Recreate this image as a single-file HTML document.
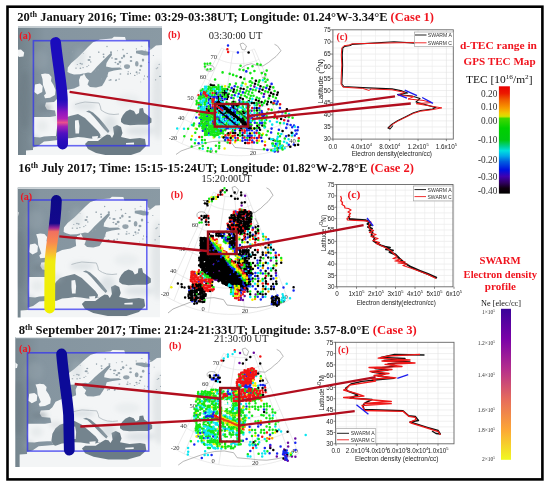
<!DOCTYPE html><html><head><meta charset="utf-8"><style>html,body{margin:0;padding:0;background:#fff}svg{display:block}</style></head><body><svg width="550" height="487" viewBox="0 0 550 487">
<style>
.tt{font-family:"Liberation Serif",serif;font-weight:bold;font-size:12.2px;fill:#111}
.ax{font-family:"Liberation Sans",sans-serif;font-size:6.3px;fill:#222}
.axl{font-family:"Liberation Sans",sans-serif;font-size:6.8px;fill:#222}
.lab{font-family:"Liberation Serif",serif;font-weight:bold;font-size:10px;fill:#f0141e}
.ut{font-family:"Liberation Serif",serif;font-size:10px;fill:#222}
.leg{font-family:"Liberation Serif",serif;font-weight:bold;font-size:11px;fill:#f0141e}
.cb{font-family:"Liberation Serif",serif;font-size:9.3px;fill:#333}
.cbs{font-family:"Liberation Serif",serif;font-size:5.5px;fill:#333}
.lg{font-family:"Liberation Sans",sans-serif;font-size:4.6px;fill:#222}
.gl{font-family:"Liberation Serif",serif;font-size:6.5px;fill:#333}
</style>
<defs>
<filter id="shade" x="-50%" y="-50%" width="200%" height="200%"><feGaussianBlur stdDeviation="2.5"/></filter>
<linearGradient id="wat" gradientUnits="userSpaceOnUse" x1="10" y1="0" x2="170" y2="0">
<stop offset="0" stop-color="#6e7d86"/><stop offset="0.1" stop-color="#788891"/><stop offset="0.22" stop-color="#8595a0"/><stop offset="1" stop-color="#8a9aa4"/></linearGradient>
<linearGradient id="trk1" gradientUnits="userSpaceOnUse" x1="0" y1="38" x2="0" y2="150">
<stop offset="0" stop-color="#1a0cbc"/><stop offset="0.55" stop-color="#1e0cbc"/><stop offset="0.6" stop-color="#4010c0"/><stop offset="0.66" stop-color="#8a14c0"/><stop offset="0.72" stop-color="#b020b8"/><stop offset="0.755" stop-color="#e8508c"/><stop offset="0.79" stop-color="#a020b8"/><stop offset="0.85" stop-color="#5010c0"/><stop offset="0.92" stop-color="#2a0cbc"/><stop offset="1" stop-color="#1a0cb4"/></linearGradient>
<linearGradient id="trk2" gradientUnits="userSpaceOnUse" x1="0" y1="195" x2="0" y2="313">
<stop offset="0" stop-color="#0c0a88"/><stop offset="0.24" stop-color="#14088c"/><stop offset="0.28" stop-color="#a02898"/><stop offset="0.31" stop-color="#f07060"/><stop offset="0.4" stop-color="#f88850"/><stop offset="0.5" stop-color="#f8c030"/><stop offset="0.56" stop-color="#f0ec10"/><stop offset="1" stop-color="#f0f000"/></linearGradient>
<linearGradient id="trk3" gradientUnits="userSpaceOnUse" x1="0" y1="349" x2="0" y2="455">
<stop offset="0" stop-color="#0c0a98"/><stop offset="1" stop-color="#0c0a98"/></linearGradient>
<linearGradient id="tecg" x1="0" y1="0" x2="0" y2="1">
<stop offset="0" stop-color="#e80000"/><stop offset="0.065" stop-color="#ec1800"/><stop offset="0.13" stop-color="#f06000"/><stop offset="0.2" stop-color="#f89800"/>
<stop offset="0.25" stop-color="#f0c800"/><stop offset="0.28" stop-color="#d8e000"/><stop offset="0.3" stop-color="#40d800"/><stop offset="0.39" stop-color="#00d000"/>
<stop offset="0.5" stop-color="#00c810"/><stop offset="0.56" stop-color="#00d090"/><stop offset="0.6" stop-color="#00e0e0"/><stop offset="0.65" stop-color="#00a8e8"/>
<stop offset="0.7" stop-color="#0060e0"/><stop offset="0.78" stop-color="#0010e0"/><stop offset="0.84" stop-color="#4000b0"/><stop offset="0.9" stop-color="#300060"/><stop offset="0.95" stop-color="#100010"/><stop offset="1" stop-color="#000000"/>
</linearGradient>
<linearGradient id="plg" x1="0" y1="0" x2="0" y2="1">
<stop offset="0" stop-color="#3a049a"/><stop offset="0.2" stop-color="#7a02a8"/><stop offset="0.4" stop-color="#b52f8c"/>
<stop offset="0.6" stop-color="#e66c5c"/><stop offset="0.8" stop-color="#fca636"/><stop offset="1" stop-color="#f0f921"/>
</linearGradient></defs>
<rect width="550" height="487" fill="#fff"/>
<rect x="7.5" y="6.7" width="534.9" height="472.7" fill="none" stroke="#000" stroke-width="2.6"/>
<text x="17.3" y="21" class="tt" textLength="416.7" lengthAdjust="spacingAndGlyphs">20<tspan dy="-4.2" font-size="8">th</tspan><tspan dy="4.2"> January 2016; Time: 03:29-03:38UT; Longitude: 01.24°W-3.34°E </tspan><tspan fill="#f0141e">(Case 1)</tspan></text>
<text x="18.2" y="172.2" class="tt" textLength="395.7" lengthAdjust="spacingAndGlyphs">16<tspan dy="-4.2" font-size="8">th</tspan><tspan dy="4.2"> July 2017; Time: 15:15-15:24UT; Longitude: 01.82°W-2.78°E </tspan><tspan fill="#f0141e">(Case 2)</tspan></text>
<text x="18.7" y="334.2" class="tt" textLength="398" lengthAdjust="spacingAndGlyphs">8<tspan dy="-4.2" font-size="8">th</tspan><tspan dy="4.2"> September 2017; Time: 21:24-21:33UT; Longitude: 3.57-8.0°E </tspan><tspan fill="#f0141e">(Case 3)</tspan></text>
<clipPath id="mc1"><rect x="18" y="26.5" width="144" height="128.5"/></clipPath>
<g clip-path="url(#mc1)">
<rect x="18" y="26.5" width="144" height="128.5" fill="#f3f5f6"/>
<g transform="translate(0,0)">
<path d="M10.0,20.0 170.0,20.0 170.0,45.0 162.0,45.0 156.0,45.5 151.0,49.5 148.5,47.0 148.0,41.0 140.0,40.6 126.0,40.6 125.0,37.0 114.0,36.8 112.0,38.4 100.0,39.5 93.0,42.3 88.0,47.0 83.7,51.6 77.5,57.8 71.3,63.0 67.8,67.5 67.5,72.0 70.0,73.2 74.0,74.5 80.0,74.3 84.0,73.3 83.0,75.2 80.5,76.0 79.0,80.0 79.5,86.0 74.0,88.5 66.0,90.0 60.0,93.0 57.0,99.0 54.0,102.0 46.0,102.5 45.0,106.0 47.0,109.6 55.0,110.5 56.0,116.0 50.0,117.0 34.0,117.0 33.5,128.0 34.0,137.0 40.0,137.5 44.0,136.5 52.0,136.0 56.0,136.0 58.0,140.0 50.0,141.0 44.0,141.5 38.0,146.0 33.0,147.5 33.0,150.0 26.0,150.5 26.0,175.0 10.0,175.0Z" fill="url(#wat)"/>
<path d="M111.5,52.5 112.0,55.0 109.0,59.0 106.5,63.0 106.0,66.5 112.0,67.8 120.0,67.6 122.5,69.3 114.0,70.6 108.5,72.0 107.0,77.0 104.5,82.0 102.0,86.0 96.0,87.5 90.0,87.0 87.5,84.5 89.0,80.5 86.0,77.5 84.0,73.5 88.0,72.5 91.0,73.0 94.0,70.0 97.0,66.5 101.0,62.5 105.0,58.5 108.5,55.0Z" fill="#8797a1"/>
<path d="M136.0,50.7 142.0,50.3 149.5,52.0 149.0,55.2 144.0,55.6 140.0,54.2 136.0,53.2Z" fill="#8c9ca6"/>
<path d="M56.0,136.0 57.0,128.0 60.0,122.0 64.0,118.0 70.0,116.0 78.0,114.0 85.0,118.0 92.0,125.0 98.0,131.0 102.0,137.0 96.0,139.0 90.0,138.5 84.0,137.5 78.0,137.0 72.0,138.0 66.0,138.5 60.0,141.0 58.0,140.0Z" fill="#74848e"/>
<path d="M86.0,111.5 90.0,113.0 94.0,117.0 99.0,123.0 104.0,129.0 108.0,133.0 109.5,131.0 105.0,125.0 99.0,118.0 93.0,112.5 89.0,110.5Z" fill="#7a8a94"/>
<path d="M98.0,141.0 103.0,137.0 107.0,134.5 110.0,135.0 112.0,138.0 114.0,134.0 113.0,127.0 117.0,125.0 121.0,127.0 122.5,133.0 121.0,137.0 130.0,139.0 140.0,138.0 145.0,139.0 146.0,146.0 140.0,152.0 128.0,156.0 110.0,156.0 96.0,153.0 88.0,149.0 85.0,144.0 88.0,141.0Z" fill="#6c7c86"/>
<path d="M121.0,119.0 123.0,115.0 126.0,111.5 130.0,109.5 134.0,111.0 136.0,114.5 139.0,113.0 139.5,108.5 143.0,108.0 144.0,112.5 148.0,115.5 151.5,118.5 151.5,122.5 147.5,124.8 138.0,124.8 130.0,125.2 124.0,124.3 121.0,122.0Z" fill="#6e7e88"/>
<g filter="url(#shade)">
<ellipse cx="85" cy="106" rx="12" ry="4" fill="#b8c2c8" opacity="0.35"/>
<ellipse cx="110" cy="124" rx="7" ry="8" fill="#b8c2c8" opacity="0.35"/>
<ellipse cx="140" cy="131" rx="14" ry="5" fill="#b8c2c8" opacity="0.35"/>
<ellipse cx="80" cy="58" rx="6" ry="10" fill="#b8c2c8" opacity="0.25"/>
<ellipse cx="158" cy="100" rx="6" ry="40" fill="#b8c2c8" opacity="0.3"/>
<ellipse cx="60" cy="118" rx="6" ry="4" fill="#b8c2c8" opacity="0.3"/>
<ellipse cx="128" cy="100" rx="12" ry="6" fill="#b8c2c8" opacity="0.15"/>
<ellipse cx="42" cy="126" rx="6" ry="6" fill="#b8c2c8" opacity="0.2"/>
<ellipse cx="40" cy="60" rx="8" ry="10" fill="#9aa9b2" opacity="0.35"/>
<ellipse cx="25" cy="100" rx="6" ry="30" fill="#5f6e77" opacity="0.3"/>
<ellipse cx="45" cy="108" rx="7" ry="4" fill="#66757e" opacity="0.4"/>
<ellipse cx="35" cy="140" rx="5" ry="5" fill="#9aa9b2" opacity="0.3"/>
</g>
<ellipse cx="127" cy="66.6" rx="3.0" ry="2.3" fill="#95a3ac"/>
<ellipse cx="136.8" cy="63.8" rx="1.8" ry="2.8" fill="#95a3ac"/>
<ellipse cx="116" cy="59" rx="1.6" ry="1.0" fill="#95a3ac"/>
<ellipse cx="120" cy="62" rx="1.4" ry="1.2" fill="#95a3ac"/>
<ellipse cx="124" cy="56" rx="1.2" ry="1.5" fill="#95a3ac"/>
<ellipse cx="131" cy="61" rx="1.3" ry="1.0" fill="#95a3ac"/>
<ellipse cx="141" cy="66" rx="1.4" ry="1.2" fill="#95a3ac"/>
<ellipse cx="89" cy="60" rx="1.5" ry="1.1" fill="#95a3ac"/>
<ellipse cx="90" cy="57" rx="1.0" ry="0.8" fill="#95a3ac"/>
<ellipse cx="82" cy="64" rx="0.9" ry="0.8" fill="#95a3ac"/>
<ellipse cx="118" cy="64" rx="1.3" ry="1.0" fill="#95a3ac"/>
<ellipse cx="131" cy="57" rx="1.2" ry="1.0" fill="#95a3ac"/>
<ellipse cx="122" cy="58" rx="1.0" ry="0.9" fill="#95a3ac"/>
<ellipse cx="143" cy="60" rx="1.2" ry="1.6" fill="#95a3ac"/>
<ellipse cx="112" cy="58" rx="0.9" ry="0.8" fill="#95a3ac"/>
<ellipse cx="128" cy="74" rx="1.1" ry="0.8" fill="#95a3ac"/>
<ellipse cx="140" cy="70" rx="0.9" ry="0.9" fill="#95a3ac"/>
<ellipse cx="136.6" cy="72.2" rx="0.98" ry="0.87" fill="#95a3ac"/>
<ellipse cx="143.9" cy="79.0" rx="0.52" ry="0.63" fill="#95a3ac"/>
<ellipse cx="156.5" cy="68.7" rx="1.04" ry="0.46" fill="#95a3ac"/>
<ellipse cx="127.1" cy="53.4" rx="0.83" ry="0.69" fill="#95a3ac"/>
<ellipse cx="98.8" cy="52.2" rx="0.67" ry="0.86" fill="#95a3ac"/>
<ellipse cx="145.5" cy="50.1" rx="0.98" ry="0.47" fill="#95a3ac"/>
<ellipse cx="136.3" cy="48.8" rx="0.5" ry="0.84" fill="#95a3ac"/>
<ellipse cx="111.0" cy="52.2" rx="1.09" ry="0.84" fill="#95a3ac"/>
<ellipse cx="115.9" cy="80.5" rx="0.82" ry="0.74" fill="#95a3ac"/>
<ellipse cx="110.7" cy="79.8" rx="0.91" ry="0.88" fill="#95a3ac"/>
<ellipse cx="153.4" cy="55.4" rx="0.72" ry="0.48" fill="#95a3ac"/>
<ellipse cx="107.0" cy="46.5" rx="0.68" ry="0.7" fill="#95a3ac"/>
<ellipse cx="98.2" cy="69.8" rx="0.7" ry="0.55" fill="#95a3ac"/>
<ellipse cx="148.7" cy="62.3" rx="0.69" ry="0.64" fill="#95a3ac"/>
<ellipse cx="141.7" cy="46.2" rx="1.09" ry="0.41" fill="#95a3ac"/>
<ellipse cx="144.5" cy="76.1" rx="0.51" ry="0.79" fill="#95a3ac"/>
<ellipse cx="120.7" cy="66.0" rx="0.51" ry="0.42" fill="#95a3ac"/>
<ellipse cx="109.2" cy="80.3" rx="0.62" ry="0.78" fill="#95a3ac"/>
<ellipse cx="155.6" cy="79.8" rx="0.71" ry="0.58" fill="#95a3ac"/>
<ellipse cx="130.5" cy="73.5" rx="0.56" ry="0.77" fill="#95a3ac"/>
<ellipse cx="147.4" cy="76.7" rx="0.52" ry="0.87" fill="#95a3ac"/>
<ellipse cx="103.7" cy="56.9" rx="0.87" ry="0.86" fill="#95a3ac"/>
<ellipse cx="119.1" cy="79.1" rx="0.83" ry="0.56" fill="#95a3ac"/>
<ellipse cx="117.6" cy="50.7" rx="0.55" ry="0.47" fill="#95a3ac"/>
<ellipse cx="140.7" cy="81.9" rx="0.6" ry="0.42" fill="#95a3ac"/>
<ellipse cx="159.2" cy="64.3" rx="0.74" ry="0.52" fill="#95a3ac"/>
<ellipse cx="134.8" cy="75.4" rx="0.77" ry="0.61" fill="#95a3ac"/>
<ellipse cx="101.5" cy="78.8" rx="0.52" ry="0.65" fill="#95a3ac"/>
<ellipse cx="150.0" cy="49.0" rx="0.94" ry="0.87" fill="#95a3ac"/>
<ellipse cx="137.1" cy="73.9" rx="0.56" ry="0.62" fill="#95a3ac"/>
<ellipse cx="107.3" cy="76.1" rx="0.68" ry="0.63" fill="#95a3ac"/>
<ellipse cx="160.0" cy="76.4" rx="1.09" ry="0.63" fill="#95a3ac"/>
<ellipse cx="128.3" cy="71.7" rx="0.79" ry="0.55" fill="#95a3ac"/>
<ellipse cx="123.0" cy="49.6" rx="0.73" ry="0.89" fill="#95a3ac"/>
<ellipse cx="157.5" cy="67.8" rx="0.8" ry="0.57" fill="#95a3ac"/>
<ellipse cx="103.5" cy="54.3" rx="0.97" ry="0.83" fill="#95a3ac"/>
<ellipse cx="120.4" cy="73.9" rx="0.96" ry="0.75" fill="#95a3ac"/>
<ellipse cx="139.2" cy="72.9" rx="0.72" ry="0.75" fill="#95a3ac"/>
<ellipse cx="115.4" cy="62.5" rx="0.96" ry="0.75" fill="#95a3ac"/>
<ellipse cx="116.2" cy="79.9" rx="0.89" ry="0.69" fill="#95a3ac"/>
<ellipse cx="72.3" cy="61.1" rx="0.53" ry="0.67" fill="#95a3ac"/>
<ellipse cx="83.1" cy="67.6" rx="0.72" ry="0.72" fill="#95a3ac"/>
<ellipse cx="80.3" cy="63.5" rx="0.77" ry="0.73" fill="#95a3ac"/>
<ellipse cx="80.4" cy="68.2" rx="0.83" ry="0.68" fill="#95a3ac"/>
<ellipse cx="95.4" cy="71.0" rx="0.66" ry="0.61" fill="#95a3ac"/>
<ellipse cx="76.0" cy="68.1" rx="0.87" ry="0.59" fill="#95a3ac"/>
<ellipse cx="88.6" cy="65.3" rx="0.77" ry="0.47" fill="#95a3ac"/>
<ellipse cx="90.7" cy="61.9" rx="0.73" ry="0.57" fill="#95a3ac"/>
<ellipse cx="87.0" cy="66.6" rx="0.72" ry="0.69" fill="#95a3ac"/>
<ellipse cx="72.7" cy="51.8" rx="0.62" ry="0.66" fill="#95a3ac"/>
<ellipse cx="77.3" cy="64.5" rx="0.72" ry="0.42" fill="#95a3ac"/>
<ellipse cx="83.3" cy="53.4" rx="0.43" ry="0.45" fill="#95a3ac"/>
<path d="M41.0,74.3 45.0,73.5 49.0,74.0 51.5,77.0 51.0,81.0 53.5,85.0 55.5,90.0 55.0,95.0 50.0,97.8 45.0,98.2 44.0,95.5 46.0,93.5 44.5,89.0 43.0,85.0 42.5,79.0Z" fill="#f3f5f6"/>
<path d="M35.0,84.5 40.0,83.6 42.7,86.0 42.2,92.0 37.5,94.6 34.3,92.0Z" fill="#f3f5f6"/>
<path d="M17.0,49.8 21.0,49.5 24.2,52.5 23.5,56.5 19.0,56.9 17.0,55.0Z" fill="#f3f5f6"/>
<path d="M100.0,137.5 103.0,136.0 101.0,133.5Z" fill="#f3f5f6"/>
<path d="M83.0,77.0 85.0,76.5 86.5,79.5 85.0,82.5 83.0,81.0Z" fill="#f3f5f6"/>
<path d="M92.0,136.5 98.0,136.0 97.5,139.0 92.5,139.2Z" fill="#f3f5f6"/>
<path d="M75.0,120.5 78.5,120.0 79.5,126.0 79.0,133.5 75.5,133.5 75.0,127.0Z" fill="#f3f5f6"/>
<path d="M126.0,143.0 134.0,142.6 134.0,144.4 126.0,144.6Z" fill="#f3f5f6"/>
<path d="M75,104.5 L80,103 L85,102 L92,102.5 L99,103 L100.5,107 L101,110 L105,112.5 L109,114 L114,114.5 L119,114" fill="none" stroke="#b4bcc2" stroke-width="0.9"/>
</g>
<rect x="18" y="26.5" width="144" height="1.2" fill="#dfe4e7"/>
</g>
<rect x="33.4" y="40.7" width="115.6" height="104.99999999999999" fill="none" stroke="#3030f0" stroke-width="1.6" opacity="0.72"/>
<path d="M55.6,42.5 C57.5,62 62,85 62.4,100 L62.6,144" stroke="url(#trk1)" stroke-width="10.8" stroke-linecap="round" fill="none"/>
<text x="19.3" y="39.3" class="lab">(a)</text>
<clipPath id="mc2"><rect x="17.7" y="187.6" width="142.3" height="129.9"/></clipPath>
<g clip-path="url(#mc2)">
<rect x="17.7" y="187.6" width="142.3" height="129.9" fill="#f3f5f6"/>
<g transform="translate(-6.4,160) scale(1.038,1)">
<path d="M10.0,20.0 170.0,20.0 170.0,45.0 162.0,45.0 156.0,45.5 151.0,49.5 148.5,47.0 148.0,41.0 140.0,40.6 126.0,40.6 125.0,37.0 114.0,36.8 112.0,38.4 100.0,39.5 93.0,42.3 88.0,47.0 83.7,51.6 77.5,57.8 71.3,63.0 67.8,67.5 67.5,72.0 70.0,73.2 74.0,74.5 80.0,74.3 84.0,73.3 83.0,75.2 80.5,76.0 79.0,80.0 79.5,86.0 74.0,88.5 66.0,90.0 60.0,93.0 57.0,99.0 54.0,102.0 46.0,102.5 45.0,106.0 47.0,109.6 55.0,110.5 56.0,116.0 50.0,117.0 34.0,117.0 33.5,128.0 34.0,137.0 40.0,137.5 44.0,136.5 52.0,136.0 56.0,136.0 58.0,140.0 50.0,141.0 44.0,141.5 38.0,146.0 33.0,147.5 33.0,150.0 26.0,150.5 26.0,175.0 10.0,175.0Z" fill="url(#wat)"/>
<path d="M111.5,52.5 112.0,55.0 109.0,59.0 106.5,63.0 106.0,66.5 112.0,67.8 120.0,67.6 122.5,69.3 114.0,70.6 108.5,72.0 107.0,77.0 104.5,82.0 102.0,86.0 96.0,87.5 90.0,87.0 87.5,84.5 89.0,80.5 86.0,77.5 84.0,73.5 88.0,72.5 91.0,73.0 94.0,70.0 97.0,66.5 101.0,62.5 105.0,58.5 108.5,55.0Z" fill="#8797a1"/>
<path d="M136.0,50.7 142.0,50.3 149.5,52.0 149.0,55.2 144.0,55.6 140.0,54.2 136.0,53.2Z" fill="#8c9ca6"/>
<path d="M56.0,136.0 57.0,128.0 60.0,122.0 64.0,118.0 70.0,116.0 78.0,114.0 85.0,118.0 92.0,125.0 98.0,131.0 102.0,137.0 96.0,139.0 90.0,138.5 84.0,137.5 78.0,137.0 72.0,138.0 66.0,138.5 60.0,141.0 58.0,140.0Z" fill="#74848e"/>
<path d="M86.0,111.5 90.0,113.0 94.0,117.0 99.0,123.0 104.0,129.0 108.0,133.0 109.5,131.0 105.0,125.0 99.0,118.0 93.0,112.5 89.0,110.5Z" fill="#7a8a94"/>
<path d="M98.0,141.0 103.0,137.0 107.0,134.5 110.0,135.0 112.0,138.0 114.0,134.0 113.0,127.0 117.0,125.0 121.0,127.0 122.5,133.0 121.0,137.0 130.0,139.0 140.0,138.0 145.0,139.0 146.0,146.0 140.0,152.0 128.0,156.0 110.0,156.0 96.0,153.0 88.0,149.0 85.0,144.0 88.0,141.0Z" fill="#6c7c86"/>
<path d="M121.0,119.0 123.0,115.0 126.0,111.5 130.0,109.5 134.0,111.0 136.0,114.5 139.0,113.0 139.5,108.5 143.0,108.0 144.0,112.5 148.0,115.5 151.5,118.5 151.5,122.5 147.5,124.8 138.0,124.8 130.0,125.2 124.0,124.3 121.0,122.0Z" fill="#6e7e88"/>
<g filter="url(#shade)">
<ellipse cx="85" cy="106" rx="12" ry="4" fill="#b8c2c8" opacity="0.35"/>
<ellipse cx="110" cy="124" rx="7" ry="8" fill="#b8c2c8" opacity="0.35"/>
<ellipse cx="140" cy="131" rx="14" ry="5" fill="#b8c2c8" opacity="0.35"/>
<ellipse cx="80" cy="58" rx="6" ry="10" fill="#b8c2c8" opacity="0.25"/>
<ellipse cx="158" cy="100" rx="6" ry="40" fill="#b8c2c8" opacity="0.3"/>
<ellipse cx="60" cy="118" rx="6" ry="4" fill="#b8c2c8" opacity="0.3"/>
<ellipse cx="128" cy="100" rx="12" ry="6" fill="#b8c2c8" opacity="0.15"/>
<ellipse cx="42" cy="126" rx="6" ry="6" fill="#b8c2c8" opacity="0.2"/>
<ellipse cx="40" cy="60" rx="8" ry="10" fill="#9aa9b2" opacity="0.35"/>
<ellipse cx="25" cy="100" rx="6" ry="30" fill="#5f6e77" opacity="0.3"/>
<ellipse cx="45" cy="108" rx="7" ry="4" fill="#66757e" opacity="0.4"/>
<ellipse cx="35" cy="140" rx="5" ry="5" fill="#9aa9b2" opacity="0.3"/>
</g>
<ellipse cx="127" cy="66.6" rx="3.0" ry="2.3" fill="#95a3ac"/>
<ellipse cx="136.8" cy="63.8" rx="1.8" ry="2.8" fill="#95a3ac"/>
<ellipse cx="116" cy="59" rx="1.6" ry="1.0" fill="#95a3ac"/>
<ellipse cx="120" cy="62" rx="1.4" ry="1.2" fill="#95a3ac"/>
<ellipse cx="124" cy="56" rx="1.2" ry="1.5" fill="#95a3ac"/>
<ellipse cx="131" cy="61" rx="1.3" ry="1.0" fill="#95a3ac"/>
<ellipse cx="141" cy="66" rx="1.4" ry="1.2" fill="#95a3ac"/>
<ellipse cx="89" cy="60" rx="1.5" ry="1.1" fill="#95a3ac"/>
<ellipse cx="90" cy="57" rx="1.0" ry="0.8" fill="#95a3ac"/>
<ellipse cx="82" cy="64" rx="0.9" ry="0.8" fill="#95a3ac"/>
<ellipse cx="118" cy="64" rx="1.3" ry="1.0" fill="#95a3ac"/>
<ellipse cx="131" cy="57" rx="1.2" ry="1.0" fill="#95a3ac"/>
<ellipse cx="122" cy="58" rx="1.0" ry="0.9" fill="#95a3ac"/>
<ellipse cx="143" cy="60" rx="1.2" ry="1.6" fill="#95a3ac"/>
<ellipse cx="112" cy="58" rx="0.9" ry="0.8" fill="#95a3ac"/>
<ellipse cx="128" cy="74" rx="1.1" ry="0.8" fill="#95a3ac"/>
<ellipse cx="140" cy="70" rx="0.9" ry="0.9" fill="#95a3ac"/>
<ellipse cx="136.6" cy="72.2" rx="0.98" ry="0.87" fill="#95a3ac"/>
<ellipse cx="143.9" cy="79.0" rx="0.52" ry="0.63" fill="#95a3ac"/>
<ellipse cx="156.5" cy="68.7" rx="1.04" ry="0.46" fill="#95a3ac"/>
<ellipse cx="127.1" cy="53.4" rx="0.83" ry="0.69" fill="#95a3ac"/>
<ellipse cx="98.8" cy="52.2" rx="0.67" ry="0.86" fill="#95a3ac"/>
<ellipse cx="145.5" cy="50.1" rx="0.98" ry="0.47" fill="#95a3ac"/>
<ellipse cx="136.3" cy="48.8" rx="0.5" ry="0.84" fill="#95a3ac"/>
<ellipse cx="111.0" cy="52.2" rx="1.09" ry="0.84" fill="#95a3ac"/>
<ellipse cx="115.9" cy="80.5" rx="0.82" ry="0.74" fill="#95a3ac"/>
<ellipse cx="110.7" cy="79.8" rx="0.91" ry="0.88" fill="#95a3ac"/>
<ellipse cx="153.4" cy="55.4" rx="0.72" ry="0.48" fill="#95a3ac"/>
<ellipse cx="107.0" cy="46.5" rx="0.68" ry="0.7" fill="#95a3ac"/>
<ellipse cx="98.2" cy="69.8" rx="0.7" ry="0.55" fill="#95a3ac"/>
<ellipse cx="148.7" cy="62.3" rx="0.69" ry="0.64" fill="#95a3ac"/>
<ellipse cx="141.7" cy="46.2" rx="1.09" ry="0.41" fill="#95a3ac"/>
<ellipse cx="144.5" cy="76.1" rx="0.51" ry="0.79" fill="#95a3ac"/>
<ellipse cx="120.7" cy="66.0" rx="0.51" ry="0.42" fill="#95a3ac"/>
<ellipse cx="109.2" cy="80.3" rx="0.62" ry="0.78" fill="#95a3ac"/>
<ellipse cx="155.6" cy="79.8" rx="0.71" ry="0.58" fill="#95a3ac"/>
<ellipse cx="130.5" cy="73.5" rx="0.56" ry="0.77" fill="#95a3ac"/>
<ellipse cx="147.4" cy="76.7" rx="0.52" ry="0.87" fill="#95a3ac"/>
<ellipse cx="103.7" cy="56.9" rx="0.87" ry="0.86" fill="#95a3ac"/>
<ellipse cx="119.1" cy="79.1" rx="0.83" ry="0.56" fill="#95a3ac"/>
<ellipse cx="117.6" cy="50.7" rx="0.55" ry="0.47" fill="#95a3ac"/>
<ellipse cx="140.7" cy="81.9" rx="0.6" ry="0.42" fill="#95a3ac"/>
<ellipse cx="159.2" cy="64.3" rx="0.74" ry="0.52" fill="#95a3ac"/>
<ellipse cx="134.8" cy="75.4" rx="0.77" ry="0.61" fill="#95a3ac"/>
<ellipse cx="101.5" cy="78.8" rx="0.52" ry="0.65" fill="#95a3ac"/>
<ellipse cx="150.0" cy="49.0" rx="0.94" ry="0.87" fill="#95a3ac"/>
<ellipse cx="137.1" cy="73.9" rx="0.56" ry="0.62" fill="#95a3ac"/>
<ellipse cx="107.3" cy="76.1" rx="0.68" ry="0.63" fill="#95a3ac"/>
<ellipse cx="160.0" cy="76.4" rx="1.09" ry="0.63" fill="#95a3ac"/>
<ellipse cx="128.3" cy="71.7" rx="0.79" ry="0.55" fill="#95a3ac"/>
<ellipse cx="123.0" cy="49.6" rx="0.73" ry="0.89" fill="#95a3ac"/>
<ellipse cx="157.5" cy="67.8" rx="0.8" ry="0.57" fill="#95a3ac"/>
<ellipse cx="103.5" cy="54.3" rx="0.97" ry="0.83" fill="#95a3ac"/>
<ellipse cx="120.4" cy="73.9" rx="0.96" ry="0.75" fill="#95a3ac"/>
<ellipse cx="139.2" cy="72.9" rx="0.72" ry="0.75" fill="#95a3ac"/>
<ellipse cx="115.4" cy="62.5" rx="0.96" ry="0.75" fill="#95a3ac"/>
<ellipse cx="116.2" cy="79.9" rx="0.89" ry="0.69" fill="#95a3ac"/>
<ellipse cx="72.3" cy="61.1" rx="0.53" ry="0.67" fill="#95a3ac"/>
<ellipse cx="83.1" cy="67.6" rx="0.72" ry="0.72" fill="#95a3ac"/>
<ellipse cx="80.3" cy="63.5" rx="0.77" ry="0.73" fill="#95a3ac"/>
<ellipse cx="80.4" cy="68.2" rx="0.83" ry="0.68" fill="#95a3ac"/>
<ellipse cx="95.4" cy="71.0" rx="0.66" ry="0.61" fill="#95a3ac"/>
<ellipse cx="76.0" cy="68.1" rx="0.87" ry="0.59" fill="#95a3ac"/>
<ellipse cx="88.6" cy="65.3" rx="0.77" ry="0.47" fill="#95a3ac"/>
<ellipse cx="90.7" cy="61.9" rx="0.73" ry="0.57" fill="#95a3ac"/>
<ellipse cx="87.0" cy="66.6" rx="0.72" ry="0.69" fill="#95a3ac"/>
<ellipse cx="72.7" cy="51.8" rx="0.62" ry="0.66" fill="#95a3ac"/>
<ellipse cx="77.3" cy="64.5" rx="0.72" ry="0.42" fill="#95a3ac"/>
<ellipse cx="83.3" cy="53.4" rx="0.43" ry="0.45" fill="#95a3ac"/>
<path d="M41.0,74.3 45.0,73.5 49.0,74.0 51.5,77.0 51.0,81.0 53.5,85.0 55.5,90.0 55.0,95.0 50.0,97.8 45.0,98.2 44.0,95.5 46.0,93.5 44.5,89.0 43.0,85.0 42.5,79.0Z" fill="#f3f5f6"/>
<path d="M35.0,84.5 40.0,83.6 42.7,86.0 42.2,92.0 37.5,94.6 34.3,92.0Z" fill="#f3f5f6"/>
<path d="M17.0,49.8 21.0,49.5 24.2,52.5 23.5,56.5 19.0,56.9 17.0,55.0Z" fill="#f3f5f6"/>
<path d="M100.0,137.5 103.0,136.0 101.0,133.5Z" fill="#f3f5f6"/>
<path d="M83.0,77.0 85.0,76.5 86.5,79.5 85.0,82.5 83.0,81.0Z" fill="#f3f5f6"/>
<path d="M92.0,136.5 98.0,136.0 97.5,139.0 92.5,139.2Z" fill="#f3f5f6"/>
<path d="M75.0,120.5 78.5,120.0 79.5,126.0 79.0,133.5 75.5,133.5 75.0,127.0Z" fill="#f3f5f6"/>
<path d="M126.0,143.0 134.0,142.6 134.0,144.4 126.0,144.6Z" fill="#f3f5f6"/>
<path d="M75,104.5 L80,103 L85,102 L92,102.5 L99,103 L100.5,107 L101,110 L105,112.5 L109,114 L114,114.5 L119,114" fill="none" stroke="#b4bcc2" stroke-width="0.9"/>
</g>
<rect x="17.7" y="187.6" width="142.3" height="1.2" fill="#dfe4e7"/>
</g>
<rect x="28.5" y="200" width="118.30000000000001" height="109.30000000000001" fill="none" stroke="#3030f0" stroke-width="1.6" opacity="0.72"/>
<path d="M56.4,200.5 C55.5,228 50.5,245 49.9,265 L49.7,308" stroke="url(#trk2)" stroke-width="10.8" stroke-linecap="round" fill="none"/>
<text x="20.4" y="200.3" class="lab">(a)</text>
<clipPath id="mc3"><rect x="15.3" y="337" width="145.7" height="130"/></clipPath>
<g clip-path="url(#mc3)">
<rect x="15.3" y="337" width="145.7" height="130" fill="#f3f5f6"/>
<g transform="translate(-7.8,316.1) scale(1.056,0.92)">
<path d="M10.0,20.0 170.0,20.0 170.0,45.0 162.0,45.0 156.0,45.5 151.0,49.5 148.5,47.0 148.0,41.0 140.0,40.6 126.0,40.6 125.0,37.0 114.0,36.8 112.0,38.4 100.0,39.5 93.0,42.3 88.0,47.0 83.7,51.6 77.5,57.8 71.3,63.0 67.8,67.5 67.5,72.0 70.0,73.2 74.0,74.5 80.0,74.3 84.0,73.3 83.0,75.2 80.5,76.0 79.0,80.0 79.5,86.0 74.0,88.5 66.0,90.0 60.0,93.0 57.0,99.0 54.0,102.0 46.0,102.5 45.0,106.0 47.0,109.6 55.0,110.5 56.0,116.0 50.0,117.0 34.0,117.0 33.5,128.0 34.0,137.0 40.0,137.5 44.0,136.5 52.0,136.0 56.0,136.0 58.0,140.0 50.0,141.0 44.0,141.5 38.0,146.0 33.0,147.5 33.0,150.0 26.0,150.5 26.0,175.0 10.0,175.0Z" fill="url(#wat)"/>
<path d="M111.5,52.5 112.0,55.0 109.0,59.0 106.5,63.0 106.0,66.5 112.0,67.8 120.0,67.6 122.5,69.3 114.0,70.6 108.5,72.0 107.0,77.0 104.5,82.0 102.0,86.0 96.0,87.5 90.0,87.0 87.5,84.5 89.0,80.5 86.0,77.5 84.0,73.5 88.0,72.5 91.0,73.0 94.0,70.0 97.0,66.5 101.0,62.5 105.0,58.5 108.5,55.0Z" fill="#8797a1"/>
<path d="M136.0,50.7 142.0,50.3 149.5,52.0 149.0,55.2 144.0,55.6 140.0,54.2 136.0,53.2Z" fill="#8c9ca6"/>
<path d="M56.0,136.0 57.0,128.0 60.0,122.0 64.0,118.0 70.0,116.0 78.0,114.0 85.0,118.0 92.0,125.0 98.0,131.0 102.0,137.0 96.0,139.0 90.0,138.5 84.0,137.5 78.0,137.0 72.0,138.0 66.0,138.5 60.0,141.0 58.0,140.0Z" fill="#74848e"/>
<path d="M86.0,111.5 90.0,113.0 94.0,117.0 99.0,123.0 104.0,129.0 108.0,133.0 109.5,131.0 105.0,125.0 99.0,118.0 93.0,112.5 89.0,110.5Z" fill="#7a8a94"/>
<path d="M98.0,141.0 103.0,137.0 107.0,134.5 110.0,135.0 112.0,138.0 114.0,134.0 113.0,127.0 117.0,125.0 121.0,127.0 122.5,133.0 121.0,137.0 130.0,139.0 140.0,138.0 145.0,139.0 146.0,146.0 140.0,152.0 128.0,156.0 110.0,156.0 96.0,153.0 88.0,149.0 85.0,144.0 88.0,141.0Z" fill="#6c7c86"/>
<path d="M121.0,119.0 123.0,115.0 126.0,111.5 130.0,109.5 134.0,111.0 136.0,114.5 139.0,113.0 139.5,108.5 143.0,108.0 144.0,112.5 148.0,115.5 151.5,118.5 151.5,122.5 147.5,124.8 138.0,124.8 130.0,125.2 124.0,124.3 121.0,122.0Z" fill="#6e7e88"/>
<g filter="url(#shade)">
<ellipse cx="85" cy="106" rx="12" ry="4" fill="#b8c2c8" opacity="0.35"/>
<ellipse cx="110" cy="124" rx="7" ry="8" fill="#b8c2c8" opacity="0.35"/>
<ellipse cx="140" cy="131" rx="14" ry="5" fill="#b8c2c8" opacity="0.35"/>
<ellipse cx="80" cy="58" rx="6" ry="10" fill="#b8c2c8" opacity="0.25"/>
<ellipse cx="158" cy="100" rx="6" ry="40" fill="#b8c2c8" opacity="0.3"/>
<ellipse cx="60" cy="118" rx="6" ry="4" fill="#b8c2c8" opacity="0.3"/>
<ellipse cx="128" cy="100" rx="12" ry="6" fill="#b8c2c8" opacity="0.15"/>
<ellipse cx="42" cy="126" rx="6" ry="6" fill="#b8c2c8" opacity="0.2"/>
<ellipse cx="40" cy="60" rx="8" ry="10" fill="#9aa9b2" opacity="0.35"/>
<ellipse cx="25" cy="100" rx="6" ry="30" fill="#5f6e77" opacity="0.3"/>
<ellipse cx="45" cy="108" rx="7" ry="4" fill="#66757e" opacity="0.4"/>
<ellipse cx="35" cy="140" rx="5" ry="5" fill="#9aa9b2" opacity="0.3"/>
</g>
<ellipse cx="127" cy="66.6" rx="3.0" ry="2.3" fill="#95a3ac"/>
<ellipse cx="136.8" cy="63.8" rx="1.8" ry="2.8" fill="#95a3ac"/>
<ellipse cx="116" cy="59" rx="1.6" ry="1.0" fill="#95a3ac"/>
<ellipse cx="120" cy="62" rx="1.4" ry="1.2" fill="#95a3ac"/>
<ellipse cx="124" cy="56" rx="1.2" ry="1.5" fill="#95a3ac"/>
<ellipse cx="131" cy="61" rx="1.3" ry="1.0" fill="#95a3ac"/>
<ellipse cx="141" cy="66" rx="1.4" ry="1.2" fill="#95a3ac"/>
<ellipse cx="89" cy="60" rx="1.5" ry="1.1" fill="#95a3ac"/>
<ellipse cx="90" cy="57" rx="1.0" ry="0.8" fill="#95a3ac"/>
<ellipse cx="82" cy="64" rx="0.9" ry="0.8" fill="#95a3ac"/>
<ellipse cx="118" cy="64" rx="1.3" ry="1.0" fill="#95a3ac"/>
<ellipse cx="131" cy="57" rx="1.2" ry="1.0" fill="#95a3ac"/>
<ellipse cx="122" cy="58" rx="1.0" ry="0.9" fill="#95a3ac"/>
<ellipse cx="143" cy="60" rx="1.2" ry="1.6" fill="#95a3ac"/>
<ellipse cx="112" cy="58" rx="0.9" ry="0.8" fill="#95a3ac"/>
<ellipse cx="128" cy="74" rx="1.1" ry="0.8" fill="#95a3ac"/>
<ellipse cx="140" cy="70" rx="0.9" ry="0.9" fill="#95a3ac"/>
<ellipse cx="136.6" cy="72.2" rx="0.98" ry="0.87" fill="#95a3ac"/>
<ellipse cx="143.9" cy="79.0" rx="0.52" ry="0.63" fill="#95a3ac"/>
<ellipse cx="156.5" cy="68.7" rx="1.04" ry="0.46" fill="#95a3ac"/>
<ellipse cx="127.1" cy="53.4" rx="0.83" ry="0.69" fill="#95a3ac"/>
<ellipse cx="98.8" cy="52.2" rx="0.67" ry="0.86" fill="#95a3ac"/>
<ellipse cx="145.5" cy="50.1" rx="0.98" ry="0.47" fill="#95a3ac"/>
<ellipse cx="136.3" cy="48.8" rx="0.5" ry="0.84" fill="#95a3ac"/>
<ellipse cx="111.0" cy="52.2" rx="1.09" ry="0.84" fill="#95a3ac"/>
<ellipse cx="115.9" cy="80.5" rx="0.82" ry="0.74" fill="#95a3ac"/>
<ellipse cx="110.7" cy="79.8" rx="0.91" ry="0.88" fill="#95a3ac"/>
<ellipse cx="153.4" cy="55.4" rx="0.72" ry="0.48" fill="#95a3ac"/>
<ellipse cx="107.0" cy="46.5" rx="0.68" ry="0.7" fill="#95a3ac"/>
<ellipse cx="98.2" cy="69.8" rx="0.7" ry="0.55" fill="#95a3ac"/>
<ellipse cx="148.7" cy="62.3" rx="0.69" ry="0.64" fill="#95a3ac"/>
<ellipse cx="141.7" cy="46.2" rx="1.09" ry="0.41" fill="#95a3ac"/>
<ellipse cx="144.5" cy="76.1" rx="0.51" ry="0.79" fill="#95a3ac"/>
<ellipse cx="120.7" cy="66.0" rx="0.51" ry="0.42" fill="#95a3ac"/>
<ellipse cx="109.2" cy="80.3" rx="0.62" ry="0.78" fill="#95a3ac"/>
<ellipse cx="155.6" cy="79.8" rx="0.71" ry="0.58" fill="#95a3ac"/>
<ellipse cx="130.5" cy="73.5" rx="0.56" ry="0.77" fill="#95a3ac"/>
<ellipse cx="147.4" cy="76.7" rx="0.52" ry="0.87" fill="#95a3ac"/>
<ellipse cx="103.7" cy="56.9" rx="0.87" ry="0.86" fill="#95a3ac"/>
<ellipse cx="119.1" cy="79.1" rx="0.83" ry="0.56" fill="#95a3ac"/>
<ellipse cx="117.6" cy="50.7" rx="0.55" ry="0.47" fill="#95a3ac"/>
<ellipse cx="140.7" cy="81.9" rx="0.6" ry="0.42" fill="#95a3ac"/>
<ellipse cx="159.2" cy="64.3" rx="0.74" ry="0.52" fill="#95a3ac"/>
<ellipse cx="134.8" cy="75.4" rx="0.77" ry="0.61" fill="#95a3ac"/>
<ellipse cx="101.5" cy="78.8" rx="0.52" ry="0.65" fill="#95a3ac"/>
<ellipse cx="150.0" cy="49.0" rx="0.94" ry="0.87" fill="#95a3ac"/>
<ellipse cx="137.1" cy="73.9" rx="0.56" ry="0.62" fill="#95a3ac"/>
<ellipse cx="107.3" cy="76.1" rx="0.68" ry="0.63" fill="#95a3ac"/>
<ellipse cx="160.0" cy="76.4" rx="1.09" ry="0.63" fill="#95a3ac"/>
<ellipse cx="128.3" cy="71.7" rx="0.79" ry="0.55" fill="#95a3ac"/>
<ellipse cx="123.0" cy="49.6" rx="0.73" ry="0.89" fill="#95a3ac"/>
<ellipse cx="157.5" cy="67.8" rx="0.8" ry="0.57" fill="#95a3ac"/>
<ellipse cx="103.5" cy="54.3" rx="0.97" ry="0.83" fill="#95a3ac"/>
<ellipse cx="120.4" cy="73.9" rx="0.96" ry="0.75" fill="#95a3ac"/>
<ellipse cx="139.2" cy="72.9" rx="0.72" ry="0.75" fill="#95a3ac"/>
<ellipse cx="115.4" cy="62.5" rx="0.96" ry="0.75" fill="#95a3ac"/>
<ellipse cx="116.2" cy="79.9" rx="0.89" ry="0.69" fill="#95a3ac"/>
<ellipse cx="72.3" cy="61.1" rx="0.53" ry="0.67" fill="#95a3ac"/>
<ellipse cx="83.1" cy="67.6" rx="0.72" ry="0.72" fill="#95a3ac"/>
<ellipse cx="80.3" cy="63.5" rx="0.77" ry="0.73" fill="#95a3ac"/>
<ellipse cx="80.4" cy="68.2" rx="0.83" ry="0.68" fill="#95a3ac"/>
<ellipse cx="95.4" cy="71.0" rx="0.66" ry="0.61" fill="#95a3ac"/>
<ellipse cx="76.0" cy="68.1" rx="0.87" ry="0.59" fill="#95a3ac"/>
<ellipse cx="88.6" cy="65.3" rx="0.77" ry="0.47" fill="#95a3ac"/>
<ellipse cx="90.7" cy="61.9" rx="0.73" ry="0.57" fill="#95a3ac"/>
<ellipse cx="87.0" cy="66.6" rx="0.72" ry="0.69" fill="#95a3ac"/>
<ellipse cx="72.7" cy="51.8" rx="0.62" ry="0.66" fill="#95a3ac"/>
<ellipse cx="77.3" cy="64.5" rx="0.72" ry="0.42" fill="#95a3ac"/>
<ellipse cx="83.3" cy="53.4" rx="0.43" ry="0.45" fill="#95a3ac"/>
<path d="M41.0,74.3 45.0,73.5 49.0,74.0 51.5,77.0 51.0,81.0 53.5,85.0 55.5,90.0 55.0,95.0 50.0,97.8 45.0,98.2 44.0,95.5 46.0,93.5 44.5,89.0 43.0,85.0 42.5,79.0Z" fill="#f3f5f6"/>
<path d="M35.0,84.5 40.0,83.6 42.7,86.0 42.2,92.0 37.5,94.6 34.3,92.0Z" fill="#f3f5f6"/>
<path d="M17.0,49.8 21.0,49.5 24.2,52.5 23.5,56.5 19.0,56.9 17.0,55.0Z" fill="#f3f5f6"/>
<path d="M100.0,137.5 103.0,136.0 101.0,133.5Z" fill="#f3f5f6"/>
<path d="M83.0,77.0 85.0,76.5 86.5,79.5 85.0,82.5 83.0,81.0Z" fill="#f3f5f6"/>
<path d="M92.0,136.5 98.0,136.0 97.5,139.0 92.5,139.2Z" fill="#f3f5f6"/>
<path d="M75.0,120.5 78.5,120.0 79.5,126.0 79.0,133.5 75.5,133.5 75.0,127.0Z" fill="#f3f5f6"/>
<path d="M126.0,143.0 134.0,142.6 134.0,144.4 126.0,144.6Z" fill="#f3f5f6"/>
<path d="M75,104.5 L80,103 L85,102 L92,102.5 L99,103 L100.5,107 L101,110 L105,112.5 L109,114 L114,114.5 L119,114" fill="none" stroke="#b4bcc2" stroke-width="0.9"/>
</g>
<rect x="15.3" y="337" width="145.7" height="1.2" fill="#dfe4e7"/>
</g>
<rect x="27.5" y="352.8" width="121.19999999999999" height="98.30000000000001" fill="none" stroke="#3030f0" stroke-width="1.6" opacity="0.72"/>
<path d="M61.6,354 C63.5,378 67.5,398 68.6,415 L69.3,450" stroke="url(#trk3)" stroke-width="10.8" stroke-linecap="round" fill="none"/>
<text x="19.1" y="352" class="lab">(a)</text>
<line x1="332.9" y1="35.87" x2="453.3" y2="35.87" stroke="#e6e6e6" stroke-width="0.6"/>
<line x1="332.9" y1="41.94" x2="453.3" y2="41.94" stroke="#e6e6e6" stroke-width="0.6"/>
<line x1="332.9" y1="48.02" x2="453.3" y2="48.02" stroke="#e6e6e6" stroke-width="0.6"/>
<line x1="332.9" y1="54.09" x2="453.3" y2="54.09" stroke="#e6e6e6" stroke-width="0.6"/>
<line x1="332.9" y1="60.16" x2="453.3" y2="60.16" stroke="#e6e6e6" stroke-width="0.6"/>
<line x1="332.9" y1="66.23" x2="453.3" y2="66.23" stroke="#e6e6e6" stroke-width="0.6"/>
<line x1="332.9" y1="72.31" x2="453.3" y2="72.31" stroke="#e6e6e6" stroke-width="0.6"/>
<line x1="332.9" y1="78.38" x2="453.3" y2="78.38" stroke="#e6e6e6" stroke-width="0.6"/>
<line x1="332.9" y1="84.45" x2="453.3" y2="84.45" stroke="#e6e6e6" stroke-width="0.6"/>
<line x1="332.9" y1="90.52" x2="453.3" y2="90.52" stroke="#e6e6e6" stroke-width="0.6"/>
<line x1="332.9" y1="96.59" x2="453.3" y2="96.59" stroke="#e6e6e6" stroke-width="0.6"/>
<line x1="332.9" y1="102.67" x2="453.3" y2="102.67" stroke="#e6e6e6" stroke-width="0.6"/>
<line x1="332.9" y1="108.74" x2="453.3" y2="108.74" stroke="#e6e6e6" stroke-width="0.6"/>
<line x1="332.9" y1="114.81" x2="453.3" y2="114.81" stroke="#e6e6e6" stroke-width="0.6"/>
<line x1="332.9" y1="120.88" x2="453.3" y2="120.88" stroke="#e6e6e6" stroke-width="0.6"/>
<line x1="332.9" y1="126.96" x2="453.3" y2="126.96" stroke="#e6e6e6" stroke-width="0.6"/>
<line x1="332.9" y1="133.03" x2="453.3" y2="133.03" stroke="#e6e6e6" stroke-width="0.6"/>
<line x1="333.00" y1="29.8" x2="333.00" y2="139.1" stroke="#e0e0e0" stroke-width="0.6"/>
<line x1="361.35" y1="29.8" x2="361.35" y2="139.1" stroke="#e0e0e0" stroke-width="0.6"/>
<line x1="389.70" y1="29.8" x2="389.70" y2="139.1" stroke="#e0e0e0" stroke-width="0.6"/>
<line x1="418.05" y1="29.8" x2="418.05" y2="139.1" stroke="#e0e0e0" stroke-width="0.6"/>
<line x1="446.40" y1="29.8" x2="446.40" y2="139.1" stroke="#e0e0e0" stroke-width="0.6"/>
<line x1="347.18" y1="29.8" x2="347.18" y2="139.1" stroke="#ececec" stroke-width="0.6"/>
<line x1="375.52" y1="29.8" x2="375.52" y2="139.1" stroke="#ececec" stroke-width="0.6"/>
<line x1="403.88" y1="29.8" x2="403.88" y2="139.1" stroke="#ececec" stroke-width="0.6"/>
<line x1="432.23" y1="29.8" x2="432.23" y2="139.1" stroke="#ececec" stroke-width="0.6"/>
<rect x="332.9" y="29.8" width="120.40000000000003" height="109.3" fill="none" stroke="#666" stroke-width="0.9"/>
<line x1="330.9" y1="29.80" x2="332.9" y2="29.80" stroke="#555" stroke-width="0.7"/>
<text x="330.7" y="32.10" class="ax" text-anchor="end">75</text>
<line x1="330.9" y1="41.94" x2="332.9" y2="41.94" stroke="#555" stroke-width="0.7"/>
<text x="330.7" y="44.24" class="ax" text-anchor="end">70</text>
<line x1="330.9" y1="54.09" x2="332.9" y2="54.09" stroke="#555" stroke-width="0.7"/>
<text x="330.7" y="56.39" class="ax" text-anchor="end">65</text>
<line x1="330.9" y1="66.23" x2="332.9" y2="66.23" stroke="#555" stroke-width="0.7"/>
<text x="330.7" y="68.53" class="ax" text-anchor="end">60</text>
<line x1="330.9" y1="78.38" x2="332.9" y2="78.38" stroke="#555" stroke-width="0.7"/>
<text x="330.7" y="80.68" class="ax" text-anchor="end">55</text>
<line x1="330.9" y1="90.52" x2="332.9" y2="90.52" stroke="#555" stroke-width="0.7"/>
<text x="330.7" y="92.82" class="ax" text-anchor="end">50</text>
<line x1="330.9" y1="102.67" x2="332.9" y2="102.67" stroke="#555" stroke-width="0.7"/>
<text x="330.7" y="104.97" class="ax" text-anchor="end">45</text>
<line x1="330.9" y1="114.81" x2="332.9" y2="114.81" stroke="#555" stroke-width="0.7"/>
<text x="330.7" y="117.11" class="ax" text-anchor="end">40</text>
<line x1="330.9" y1="126.96" x2="332.9" y2="126.96" stroke="#555" stroke-width="0.7"/>
<text x="330.7" y="129.26" class="ax" text-anchor="end">35</text>
<line x1="330.9" y1="139.10" x2="332.9" y2="139.10" stroke="#555" stroke-width="0.7"/>
<text x="330.7" y="141.40" class="ax" text-anchor="end">30</text>
<line x1="333.00" y1="139.1" x2="333.00" y2="141.1" stroke="#555" stroke-width="0.7"/>
<text x="333.00" y="148.50" class="ax" text-anchor="middle">0.0</text>
<line x1="361.35" y1="139.1" x2="361.35" y2="141.1" stroke="#555" stroke-width="0.7"/>
<text x="361.35" y="148.50" class="ax" text-anchor="middle">4.0x10<tspan font-size="4" dy="-3">4</tspan></text>
<line x1="389.70" y1="139.1" x2="389.70" y2="141.1" stroke="#555" stroke-width="0.7"/>
<text x="389.70" y="148.50" class="ax" text-anchor="middle">8.0x10<tspan font-size="4" dy="-3">4</tspan></text>
<line x1="418.05" y1="139.1" x2="418.05" y2="141.1" stroke="#555" stroke-width="0.7"/>
<text x="418.05" y="148.50" class="ax" text-anchor="middle">1.2x10<tspan font-size="4" dy="-3">5</tspan></text>
<line x1="446.40" y1="139.1" x2="446.40" y2="141.1" stroke="#555" stroke-width="0.7"/>
<text x="446.40" y="148.50" class="ax" text-anchor="middle">1.6x10<tspan font-size="4" dy="-3">5</tspan></text>
<text x="351.7" y="155.6" class="axl" textLength="80.3" lengthAdjust="spacingAndGlyphs">Electron density(electron/cc)</text>
<text transform="translate(323.1,103.5) rotate(-90)" font-family="Liberation Sans,sans-serif" font-size="7.6" fill="#222" textLength="44.6" lengthAdjust="spacingAndGlyphs">Latitude (<tspan font-size="5.3" dy="-3.0">O</tspan><tspan dy="3.0">N)</tspan></text>
<text x="336.5" y="40" class="lab" textLength="11.2" lengthAdjust="spacingAndGlyphs" font-size="10.6">(c)</text>
<line x1="336.6" y1="190.18" x2="453" y2="190.18" stroke="#e6e6e6" stroke-width="0.6"/>
<line x1="336.6" y1="195.87" x2="453" y2="195.87" stroke="#e6e6e6" stroke-width="0.6"/>
<line x1="336.6" y1="201.55" x2="453" y2="201.55" stroke="#e6e6e6" stroke-width="0.6"/>
<line x1="336.6" y1="207.23" x2="453" y2="207.23" stroke="#e6e6e6" stroke-width="0.6"/>
<line x1="336.6" y1="212.92" x2="453" y2="212.92" stroke="#e6e6e6" stroke-width="0.6"/>
<line x1="336.6" y1="218.60" x2="453" y2="218.60" stroke="#e6e6e6" stroke-width="0.6"/>
<line x1="336.6" y1="224.28" x2="453" y2="224.28" stroke="#e6e6e6" stroke-width="0.6"/>
<line x1="336.6" y1="229.97" x2="453" y2="229.97" stroke="#e6e6e6" stroke-width="0.6"/>
<line x1="336.6" y1="235.65" x2="453" y2="235.65" stroke="#e6e6e6" stroke-width="0.6"/>
<line x1="336.6" y1="241.33" x2="453" y2="241.33" stroke="#e6e6e6" stroke-width="0.6"/>
<line x1="336.6" y1="247.02" x2="453" y2="247.02" stroke="#e6e6e6" stroke-width="0.6"/>
<line x1="336.6" y1="252.70" x2="453" y2="252.70" stroke="#e6e6e6" stroke-width="0.6"/>
<line x1="336.6" y1="258.38" x2="453" y2="258.38" stroke="#e6e6e6" stroke-width="0.6"/>
<line x1="336.6" y1="264.07" x2="453" y2="264.07" stroke="#e6e6e6" stroke-width="0.6"/>
<line x1="336.6" y1="269.75" x2="453" y2="269.75" stroke="#e6e6e6" stroke-width="0.6"/>
<line x1="336.6" y1="275.43" x2="453" y2="275.43" stroke="#e6e6e6" stroke-width="0.6"/>
<line x1="336.6" y1="281.12" x2="453" y2="281.12" stroke="#e6e6e6" stroke-width="0.6"/>
<line x1="337.00" y1="184.5" x2="337.00" y2="286.8" stroke="#e0e0e0" stroke-width="0.6"/>
<line x1="356.50" y1="184.5" x2="356.50" y2="286.8" stroke="#e0e0e0" stroke-width="0.6"/>
<line x1="376.00" y1="184.5" x2="376.00" y2="286.8" stroke="#e0e0e0" stroke-width="0.6"/>
<line x1="395.50" y1="184.5" x2="395.50" y2="286.8" stroke="#e0e0e0" stroke-width="0.6"/>
<line x1="415.00" y1="184.5" x2="415.00" y2="286.8" stroke="#e0e0e0" stroke-width="0.6"/>
<line x1="434.50" y1="184.5" x2="434.50" y2="286.8" stroke="#e0e0e0" stroke-width="0.6"/>
<line x1="454.00" y1="184.5" x2="454.00" y2="286.8" stroke="#e0e0e0" stroke-width="0.6"/>
<line x1="346.75" y1="184.5" x2="346.75" y2="286.8" stroke="#ececec" stroke-width="0.6"/>
<line x1="366.25" y1="184.5" x2="366.25" y2="286.8" stroke="#ececec" stroke-width="0.6"/>
<line x1="385.75" y1="184.5" x2="385.75" y2="286.8" stroke="#ececec" stroke-width="0.6"/>
<line x1="405.25" y1="184.5" x2="405.25" y2="286.8" stroke="#ececec" stroke-width="0.6"/>
<line x1="424.75" y1="184.5" x2="424.75" y2="286.8" stroke="#ececec" stroke-width="0.6"/>
<line x1="444.25" y1="184.5" x2="444.25" y2="286.8" stroke="#ececec" stroke-width="0.6"/>
<rect x="336.6" y="184.5" width="116.39999999999998" height="102.30000000000001" fill="none" stroke="#666" stroke-width="0.9"/>
<line x1="334.6" y1="184.50" x2="336.6" y2="184.50" stroke="#555" stroke-width="0.7"/>
<text x="334.40000000000003" y="186.80" class="ax" text-anchor="end">75</text>
<line x1="334.6" y1="195.87" x2="336.6" y2="195.87" stroke="#555" stroke-width="0.7"/>
<text x="334.40000000000003" y="198.17" class="ax" text-anchor="end">70</text>
<line x1="334.6" y1="207.23" x2="336.6" y2="207.23" stroke="#555" stroke-width="0.7"/>
<text x="334.40000000000003" y="209.53" class="ax" text-anchor="end">65</text>
<line x1="334.6" y1="218.60" x2="336.6" y2="218.60" stroke="#555" stroke-width="0.7"/>
<text x="334.40000000000003" y="220.90" class="ax" text-anchor="end">60</text>
<line x1="334.6" y1="229.97" x2="336.6" y2="229.97" stroke="#555" stroke-width="0.7"/>
<text x="334.40000000000003" y="232.27" class="ax" text-anchor="end">55</text>
<line x1="334.6" y1="241.33" x2="336.6" y2="241.33" stroke="#555" stroke-width="0.7"/>
<text x="334.40000000000003" y="243.63" class="ax" text-anchor="end">50</text>
<line x1="334.6" y1="252.70" x2="336.6" y2="252.70" stroke="#555" stroke-width="0.7"/>
<text x="334.40000000000003" y="255.00" class="ax" text-anchor="end">45</text>
<line x1="334.6" y1="264.07" x2="336.6" y2="264.07" stroke="#555" stroke-width="0.7"/>
<text x="334.40000000000003" y="266.37" class="ax" text-anchor="end">40</text>
<line x1="334.6" y1="275.43" x2="336.6" y2="275.43" stroke="#555" stroke-width="0.7"/>
<text x="334.40000000000003" y="277.73" class="ax" text-anchor="end">35</text>
<line x1="334.6" y1="286.80" x2="336.6" y2="286.80" stroke="#555" stroke-width="0.7"/>
<text x="334.40000000000003" y="289.10" class="ax" text-anchor="end">30</text>
<line x1="337.00" y1="286.8" x2="337.00" y2="288.8" stroke="#555" stroke-width="0.7"/>
<text x="337.00" y="296.20" class="ax" text-anchor="middle">0</text>
<line x1="356.50" y1="286.8" x2="356.50" y2="288.8" stroke="#555" stroke-width="0.7"/>
<text x="356.50" y="296.20" class="ax" text-anchor="middle">1x10<tspan font-size="4" dy="-3">5</tspan></text>
<line x1="376.00" y1="286.8" x2="376.00" y2="288.8" stroke="#555" stroke-width="0.7"/>
<text x="376.00" y="296.20" class="ax" text-anchor="middle">2x10<tspan font-size="4" dy="-3">5</tspan></text>
<line x1="395.50" y1="286.8" x2="395.50" y2="288.8" stroke="#555" stroke-width="0.7"/>
<text x="395.50" y="296.20" class="ax" text-anchor="middle">3x10<tspan font-size="4" dy="-3">5</tspan></text>
<line x1="415.00" y1="286.8" x2="415.00" y2="288.8" stroke="#555" stroke-width="0.7"/>
<text x="415.00" y="296.20" class="ax" text-anchor="middle">4x10<tspan font-size="4" dy="-3">5</tspan></text>
<line x1="434.50" y1="286.8" x2="434.50" y2="288.8" stroke="#555" stroke-width="0.7"/>
<text x="434.50" y="296.20" class="ax" text-anchor="middle">5x10<tspan font-size="4" dy="-3">5</tspan></text>
<line x1="454.00" y1="286.8" x2="454.00" y2="288.8" stroke="#555" stroke-width="0.7"/>
<text x="454.00" y="296.20" class="ax" text-anchor="middle">6x10<tspan font-size="4" dy="-3">5</tspan></text>
<text x="356.8" y="305.2" class="axl" textLength="79" lengthAdjust="spacingAndGlyphs">Electron density(electron/cc)</text>
<text transform="translate(325.7,251.2) rotate(-90)" font-family="Liberation Sans,sans-serif" font-size="6.6" fill="#222" textLength="36.2" lengthAdjust="spacingAndGlyphs">Latitude (<tspan font-size="4.6" dy="-2.6">O</tspan><tspan dy="2.6">N)</tspan></text>
<text x="347.4" y="198" class="lab" textLength="12.9" lengthAdjust="spacingAndGlyphs" font-size="12.3">(c)</text>
<line x1="335.5" y1="347.94" x2="454" y2="347.94" stroke="#e6e6e6" stroke-width="0.6"/>
<line x1="335.5" y1="353.58" x2="454" y2="353.58" stroke="#e6e6e6" stroke-width="0.6"/>
<line x1="335.5" y1="359.22" x2="454" y2="359.22" stroke="#e6e6e6" stroke-width="0.6"/>
<line x1="335.5" y1="364.86" x2="454" y2="364.86" stroke="#e6e6e6" stroke-width="0.6"/>
<line x1="335.5" y1="370.49" x2="454" y2="370.49" stroke="#e6e6e6" stroke-width="0.6"/>
<line x1="335.5" y1="376.13" x2="454" y2="376.13" stroke="#e6e6e6" stroke-width="0.6"/>
<line x1="335.5" y1="381.77" x2="454" y2="381.77" stroke="#e6e6e6" stroke-width="0.6"/>
<line x1="335.5" y1="387.41" x2="454" y2="387.41" stroke="#e6e6e6" stroke-width="0.6"/>
<line x1="335.5" y1="393.05" x2="454" y2="393.05" stroke="#e6e6e6" stroke-width="0.6"/>
<line x1="335.5" y1="398.69" x2="454" y2="398.69" stroke="#e6e6e6" stroke-width="0.6"/>
<line x1="335.5" y1="404.33" x2="454" y2="404.33" stroke="#e6e6e6" stroke-width="0.6"/>
<line x1="335.5" y1="409.97" x2="454" y2="409.97" stroke="#e6e6e6" stroke-width="0.6"/>
<line x1="335.5" y1="415.61" x2="454" y2="415.61" stroke="#e6e6e6" stroke-width="0.6"/>
<line x1="335.5" y1="421.24" x2="454" y2="421.24" stroke="#e6e6e6" stroke-width="0.6"/>
<line x1="335.5" y1="426.88" x2="454" y2="426.88" stroke="#e6e6e6" stroke-width="0.6"/>
<line x1="335.5" y1="432.52" x2="454" y2="432.52" stroke="#e6e6e6" stroke-width="0.6"/>
<line x1="335.5" y1="438.16" x2="454" y2="438.16" stroke="#e6e6e6" stroke-width="0.6"/>
<line x1="336.00" y1="342.3" x2="336.00" y2="443.8" stroke="#e0e0e0" stroke-width="0.6"/>
<line x1="356.40" y1="342.3" x2="356.40" y2="443.8" stroke="#e0e0e0" stroke-width="0.6"/>
<line x1="376.80" y1="342.3" x2="376.80" y2="443.8" stroke="#e0e0e0" stroke-width="0.6"/>
<line x1="397.20" y1="342.3" x2="397.20" y2="443.8" stroke="#e0e0e0" stroke-width="0.6"/>
<line x1="417.60" y1="342.3" x2="417.60" y2="443.8" stroke="#e0e0e0" stroke-width="0.6"/>
<line x1="438.00" y1="342.3" x2="438.00" y2="443.8" stroke="#e0e0e0" stroke-width="0.6"/>
<line x1="346.20" y1="342.3" x2="346.20" y2="443.8" stroke="#ececec" stroke-width="0.6"/>
<line x1="366.60" y1="342.3" x2="366.60" y2="443.8" stroke="#ececec" stroke-width="0.6"/>
<line x1="387.00" y1="342.3" x2="387.00" y2="443.8" stroke="#ececec" stroke-width="0.6"/>
<line x1="407.40" y1="342.3" x2="407.40" y2="443.8" stroke="#ececec" stroke-width="0.6"/>
<line x1="427.80" y1="342.3" x2="427.80" y2="443.8" stroke="#ececec" stroke-width="0.6"/>
<rect x="335.5" y="342.3" width="118.5" height="101.5" fill="none" stroke="#666" stroke-width="0.9"/>
<line x1="333.5" y1="342.30" x2="335.5" y2="342.30" stroke="#555" stroke-width="0.7"/>
<text x="333.3" y="344.60" class="ax" text-anchor="end">75</text>
<line x1="333.5" y1="353.58" x2="335.5" y2="353.58" stroke="#555" stroke-width="0.7"/>
<text x="333.3" y="355.88" class="ax" text-anchor="end">70</text>
<line x1="333.5" y1="364.86" x2="335.5" y2="364.86" stroke="#555" stroke-width="0.7"/>
<text x="333.3" y="367.16" class="ax" text-anchor="end">65</text>
<line x1="333.5" y1="376.13" x2="335.5" y2="376.13" stroke="#555" stroke-width="0.7"/>
<text x="333.3" y="378.43" class="ax" text-anchor="end">60</text>
<line x1="333.5" y1="387.41" x2="335.5" y2="387.41" stroke="#555" stroke-width="0.7"/>
<text x="333.3" y="389.71" class="ax" text-anchor="end">55</text>
<line x1="333.5" y1="398.69" x2="335.5" y2="398.69" stroke="#555" stroke-width="0.7"/>
<text x="333.3" y="400.99" class="ax" text-anchor="end">50</text>
<line x1="333.5" y1="409.97" x2="335.5" y2="409.97" stroke="#555" stroke-width="0.7"/>
<text x="333.3" y="412.27" class="ax" text-anchor="end">45</text>
<line x1="333.5" y1="421.24" x2="335.5" y2="421.24" stroke="#555" stroke-width="0.7"/>
<text x="333.3" y="423.54" class="ax" text-anchor="end">40</text>
<line x1="333.5" y1="432.52" x2="335.5" y2="432.52" stroke="#555" stroke-width="0.7"/>
<text x="333.3" y="434.82" class="ax" text-anchor="end">35</text>
<line x1="333.5" y1="443.80" x2="335.5" y2="443.80" stroke="#555" stroke-width="0.7"/>
<text x="333.3" y="446.10" class="ax" text-anchor="end">30</text>
<line x1="336.00" y1="443.8" x2="336.00" y2="445.8" stroke="#555" stroke-width="0.7"/>
<text x="336.00" y="453.20" class="ax" text-anchor="middle">0.0</text>
<line x1="356.40" y1="443.8" x2="356.40" y2="445.8" stroke="#555" stroke-width="0.7"/>
<text x="356.40" y="453.20" class="ax" text-anchor="middle">2.0x10<tspan font-size="4" dy="-3">4</tspan></text>
<line x1="376.80" y1="443.8" x2="376.80" y2="445.8" stroke="#555" stroke-width="0.7"/>
<text x="376.80" y="453.20" class="ax" text-anchor="middle">4.0x10<tspan font-size="4" dy="-3">4</tspan></text>
<line x1="397.20" y1="443.8" x2="397.20" y2="445.8" stroke="#555" stroke-width="0.7"/>
<text x="397.20" y="453.20" class="ax" text-anchor="middle">6.0x10<tspan font-size="4" dy="-3">4</tspan></text>
<line x1="417.60" y1="443.8" x2="417.60" y2="445.8" stroke="#555" stroke-width="0.7"/>
<text x="417.60" y="453.20" class="ax" text-anchor="middle">8.0x10<tspan font-size="4" dy="-3">4</tspan></text>
<line x1="438.00" y1="443.8" x2="438.00" y2="445.8" stroke="#555" stroke-width="0.7"/>
<text x="438.00" y="453.20" class="ax" text-anchor="middle">1.0x10<tspan font-size="4" dy="-3">5</tspan></text>
<text x="355" y="461" class="axl" textLength="83.3" lengthAdjust="spacingAndGlyphs">Electron density (electron/cc)</text>
<text transform="translate(323.8,410.6) rotate(-90)" font-family="Liberation Sans,sans-serif" font-size="6.6" fill="#222" textLength="35.5" lengthAdjust="spacingAndGlyphs">Latitude (<tspan font-size="4.6" dy="-2.6">O</tspan><tspan dy="2.6">N)</tspan></text>
<text x="338.1" y="352.5" class="lab" textLength="10.6" lengthAdjust="spacingAndGlyphs" font-size="10.1">(c)</text>
<clipPath id="cc1"><rect x="332.9" y="29.8" width="120.40000000000003" height="109.3"/></clipPath><g clip-path="url(#cc1)"><path d="M452.0,43.3 415.0,43.1 394.0,41.8 352.0,44.4 350.5,45.5 344.7,46.4 342.8,48.0 342.3,55.0 342.6,65.0 342.3,75.0 341.8,84.0 343.9,86.5 362.7,87.6 392.0,88.9 402.0,90.9 407.6,93.0 397.5,94.5 412.0,96.0 420.0,98.5 416.0,102.0 436.0,107.6 432.4,109.1 420.7,110.5 413.5,112.7 406.2,116.4 397.5,120.7 391.6,124.4 388.0,128.0 390.0,129.0 393.0,125.5" stroke="#111" stroke-width="1.1" fill="none" stroke-linejoin="round"/><path d="M452.0,44.5 414.0,42.6 396.0,42.8 352.0,43.8 349.0,45.0 343.8,45.8 341.8,48.0 341.3,55.0 341.8,65.0 341.3,75.0 341.0,84.0 342.9,87.2 362.7,88.4 369.0,90.4 371.0,89.0 392.0,89.8 404.7,92.4 397.8,95.2 414.0,96.6 408.0,99.0 423.0,100.4 431.7,102.6 416.3,103.7 441.8,107.9 432.4,109.6 420.7,111.2 413.5,113.4 406.2,117.0 397.5,121.3 391.6,125.0 388.5,128.3" stroke="#f01818" stroke-width="1.0" fill="none" stroke-linejoin="round"/><path d="M404.7,90.2 417.0,95.7" stroke="#1a1aee" stroke-width="1.4" fill="none" stroke-linejoin="round"/><path d="M397.5,94.3 406.9,98.2" stroke="#1a1aee" stroke-width="1.4" fill="none" stroke-linejoin="round"/><path d="M422.2,97.5 433.0,103.3" stroke="#1a1aee" stroke-width="1.4" fill="none" stroke-linejoin="round"/></g>
<clipPath id="cc2"><rect x="336.6" y="184.5" width="116.39999999999998" height="102.30000000000001"/></clipPath><g clip-path="url(#cc2)"><path d="M348.5,216.0 349.5,219.0 358.0,219.6 366.0,220.3 369.5,221.8 367.5,224.0 371.0,225.2 368.0,227.0 372.0,228.6 369.5,230.5 372.5,232.0 371.5,235.0 374.5,238.0 373.5,241.0 377.5,243.5 381.0,245.3 385.0,246.6 390.0,247.6 386.0,249.3 393.0,250.4 389.5,252.0 395.5,254.5 399.5,258.5 404.5,263.0 411.0,267.0 420.0,270.8 428.0,274.0 437.0,277.8" stroke="#111" stroke-width="1.9" fill="none" stroke-linejoin="round"/><path d="M340.6,196.0 341.5,198.5 340.8,200.5 342.5,202.5 342.0,204.5 344.5,206.0 345.0,208.0 348.5,208.5 351.0,210.0 348.0,212.0 350.5,213.5 349.0,215.0 350.0,216.5 347.0,218.5 347.5,220.0 355.0,220.3 366.0,220.8 371.0,222.2 368.5,226.0 370.0,229.0 373.5,230.5 369.5,232.5 376.0,234.5 371.0,236.5 378.0,238.5 373.0,240.5 379.5,242.5 376.0,243.5 381.0,245.5 387.0,248.5 391.0,251.0 394.0,254.0 397.0,257.0 393.0,258.5 401.0,259.5 395.0,261.0 405.0,261.8 398.0,263.0 407.0,264.0 403.0,265.5 412.0,268.5 420.0,271.5 428.0,274.5 436.0,278.5" stroke="#f01818" stroke-width="1.25" fill="none" stroke-linejoin="round"/><path d="M367.0,218.0 373.2,226.0" stroke="#1a1aee" stroke-width="1.3" fill="none" stroke-linejoin="round"/></g>
<clipPath id="cc3"><rect x="335.5" y="342.3" width="118.5" height="101.5"/></clipPath><g clip-path="url(#cc3)"><path d="M424.5,355.0 394.5,354.5 381.0,357.5 405.0,358.5 384.0,360.5 410.0,362.0 388.0,364.0 396.0,366.0 375.0,368.5 388.0,370.0 372.0,372.0 385.0,374.0 378.0,376.0 394.0,378.3 380.0,379.5 362.0,381.4 351.0,384.0 345.5,388.2 347.5,391.0 358.0,395.0 350.0,398.0 372.0,399.5 365.0,403.0 363.0,405.5 364.0,409.5 403.0,410.8 408.7,415.7 415.3,416.5 418.5,420.5 410.0,422.0 427.3,427.3 438.2,430.5 440.4,434.0 436.0,433.5 432.0,431.0" stroke="#111" stroke-width="1.4" fill="none" stroke-linejoin="round"/><path d="M420.0,354.4 389.0,356.0 378.2,358.1 410.0,360.0 382.0,361.0 415.0,363.0 385.0,364.3 402.0,366.5 369.0,367.5 392.0,369.5 370.0,371.5 389.0,373.5 374.0,375.5 396.0,377.8 372.0,379.0 375.6,381.0 349.5,385.2 346.5,388.8 343.6,390.0 347.3,391.0 355.3,393.2 364.0,396.1 343.6,397.5 391.3,401.5 364.0,403.3 391.3,403.7 362.0,405.5 364.0,409.2 364.5,410.5 403.3,411.4 408.7,416.3 415.3,417.3 416.0,419.5 409.8,422.3 412.0,423.4 427.3,428.2 438.2,431.6 440.4,434.8" stroke="#f01818" stroke-width="1.35" fill="none" stroke-linejoin="round"/><path d="M397.3,378.3 408.2,374.6" stroke="#1a1aee" stroke-width="1.3" fill="none" stroke-linejoin="round"/><path d="M356.4,404.8 368.4,414.2" stroke="#1a1aee" stroke-width="1.3" fill="none" stroke-linejoin="round"/></g>
<rect x="414.5" y="32" width="38.8" height="14.5" fill="#fff" stroke="#999" stroke-width="0.6"/>
<line x1="415" y1="35" x2="426.5" y2="35" stroke="#222" stroke-width="1"/>
<line x1="415" y1="42.8" x2="426.5" y2="42.8" stroke="#f03030" stroke-width="1"/>
<text x="427.8" y="37.0" font-family="Liberation Sans,sans-serif" font-size="5.6" fill="#333" textLength="24.2" lengthAdjust="spacingAndGlyphs">SWARM A</text>
<text x="427.8" y="44.8" font-family="Liberation Sans,sans-serif" font-size="5.6" fill="#333" textLength="24.2" lengthAdjust="spacingAndGlyphs">SWARM C</text>
<rect x="413.4" y="186" width="39.4" height="14.9" fill="#fff" stroke="#999" stroke-width="0.6"/>
<line x1="414.5" y1="189.6" x2="426" y2="189.6" stroke="#222" stroke-width="1"/>
<line x1="414.5" y1="196.6" x2="426" y2="196.6" stroke="#f03030" stroke-width="1"/>
<text x="427.5" y="191.6" font-family="Liberation Sans,sans-serif" font-size="5.6" fill="#333" textLength="24.2" lengthAdjust="spacingAndGlyphs">SWARM A</text>
<text x="427.5" y="198.6" font-family="Liberation Sans,sans-serif" font-size="5.6" fill="#333" textLength="24.2" lengthAdjust="spacingAndGlyphs">SWARM C</text>
<rect x="336" y="428.7" width="39.8" height="14.7" fill="#fff" stroke="#999" stroke-width="0.6"/>
<line x1="337" y1="433.3" x2="349" y2="433.3" stroke="#222" stroke-width="1"/>
<line x1="337" y1="439.8" x2="349" y2="439.8" stroke="#f03030" stroke-width="1"/>
<text x="350.7" y="435.3" font-family="Liberation Sans,sans-serif" font-size="5.6" fill="#333" textLength="24" lengthAdjust="spacingAndGlyphs">SWARM A</text>
<text x="350.7" y="441.8" font-family="Liberation Sans,sans-serif" font-size="5.6" fill="#333" textLength="24" lengthAdjust="spacingAndGlyphs">SWARM C</text>
<text x="460" y="48.6" class="leg" textLength="77" lengthAdjust="spacingAndGlyphs">d-TEC range in</text>
<text x="463.6" y="65" class="leg" textLength="72" lengthAdjust="spacingAndGlyphs">GPS TEC Map</text>
<text x="466" y="83.2" font-family="Liberation Serif,serif" font-size="11" fill="#111" textLength="66.5" lengthAdjust="spacingAndGlyphs">TEC [10<tspan font-size="7" dy="-4">16</tspan><tspan dy="4">/m</tspan><tspan font-size="7" dy="-4">2</tspan><tspan dy="4">]</tspan></text>
<rect x="498.9" y="86.3" width="11" height="107.3" fill="url(#tecg)"/>
<text x="497.3" y="96.5" class="cb" text-anchor="end">0.20</text>
<text x="497.3" y="109.8" class="cb" text-anchor="end">0.10</text>
<text x="497.3" y="123.9" class="cb" text-anchor="end">0.00</text>
<text x="497.3" y="142.6" class="cb" text-anchor="end">-0.10</text>
<text x="497.3" y="162.5" class="cb" text-anchor="end">-0.20</text>
<text x="497.3" y="179.6" class="cb" text-anchor="end">-0.30</text>
<text x="497.3" y="194.4" class="cb" text-anchor="end">-0.40</text>
<text x="479.4" y="263.6" class="leg" textLength="41.3" lengthAdjust="spacingAndGlyphs">SWARM</text>
<text x="463.6" y="278" class="leg" textLength="73.5" lengthAdjust="spacingAndGlyphs">Electron density</text>
<text x="484.8" y="290.3" class="leg" textLength="31.2" lengthAdjust="spacingAndGlyphs">profile</text>
<text x="481" y="306.3" font-family="Liberation Serif,serif" font-size="8.2" fill="#111" textLength="40" lengthAdjust="spacingAndGlyphs">Ne [elec/cc]</text>
<rect x="501" y="308.8" width="10" height="151" fill="url(#plg)"/>
<text x="495" y="313.5" class="cbs" text-anchor="end">1×10<tspan font-size="3.5" dy="-2">5</tspan></text>
<text x="495" y="344.5" class="cbs" text-anchor="end">1.2×10<tspan font-size="3.5" dy="-2">5</tspan></text>
<text x="495" y="377.0" class="cbs" text-anchor="end">1.4×10<tspan font-size="3.5" dy="-2">5</tspan></text>
<text x="495" y="412.1" class="cbs" text-anchor="end">1.6×10<tspan font-size="3.5" dy="-2">5</tspan></text>
<text x="495" y="431.5" class="cbs" text-anchor="end">1.8×10<tspan font-size="3.5" dy="-2">5</tspan></text>
<text x="495" y="461.3" class="cbs" text-anchor="end">2×10<tspan font-size="3.5" dy="-2">5</tspan></text>
<g transform="translate(0,0)" fill="none" stroke="#d6d6d6" stroke-width="0.5">
<path d="M173.7,139.7 174.5,140.1 175.3,140.5 176.1,140.9 176.9,141.3 177.8,141.7 178.6,142.1 179.4,142.5 180.2,142.9 181.1,143.3 181.9,143.6 182.7,144.0 183.5,144.3 184.4,144.7 185.2,145.0 186.1,145.4 186.9,145.7 187.7,146.1 188.6,146.4 189.4,146.7 190.3,147.0 191.1,147.3 192.0,147.6 192.9,147.9 193.7,148.2 194.6,148.5 195.4,148.8 196.3,149.1 197.2,149.4 198.0,149.6 198.9,149.9 199.8,150.1 200.6,150.4 201.5,150.6 202.4,150.9 203.3,151.1 204.2,151.3 205.0,151.6 205.9,151.8 206.8,152.0 207.7,152.2 208.6,152.4 209.5,152.6 210.3,152.8 211.2,152.9 212.1,153.1 213.0,153.3 213.9,153.5 214.8,153.6 215.7,153.8 216.6,153.9 217.5,154.1 218.4,154.2 219.3,154.3 220.2,154.4 221.1,154.6 222.0,154.7 222.9,154.8 223.8,154.9 224.7,155.0 225.6,155.1 226.5,155.1 227.4,155.2 228.3,155.3 229.2,155.4 230.1,155.4 231.0,155.5 231.9,155.5 232.8,155.6 233.7,155.6 234.6,155.6 235.6,155.7 236.5,155.7 237.4,155.7 238.3,155.7 239.2,155.7 240.1,155.7 241.0,155.7 241.9,155.7 242.8,155.6 243.7,155.6 244.6,155.6 245.5,155.5 246.4,155.5 247.3,155.5 248.2,155.4 249.2,155.3 250.1,155.3 251.0,155.2 251.9,155.1 252.8,155.0 253.7,154.9 254.6,154.8 255.5,154.7 256.4,154.6 257.3,154.5 258.2,154.4 259.1,154.3 260.0,154.1 260.9,154.0 261.8,153.9 262.7,153.7 263.6,153.5 264.5,153.4 265.3,153.2 266.2,153.0 267.1,152.9 268.0,152.7 268.9,152.5 269.8,152.3 270.7,152.1 271.6,151.9 272.4,151.7 273.3,151.5 274.2,151.2 275.1,151.0 276.0,150.8 276.8,150.5 277.7,150.3 278.6,150.0 279.4,149.8 280.3,149.5 281.2,149.2 282.0,149.0 282.9,148.7 283.8,148.4 284.6,148.1 285.5,147.8 286.3,147.5 287.2,147.2 288.0,146.9 288.9,146.6 289.7,146.3 290.6,145.9 291.4,145.6 292.3,145.3 293.1,144.9 294.0,144.6 294.8,144.2 295.6,143.8 296.4,143.5"/>
<path d="M184.4,119.3 185.0,119.6 185.7,120.0 186.4,120.3 187.1,120.7 187.7,121.0 188.4,121.3 189.1,121.6 189.8,122.0 190.5,122.3 191.2,122.6 191.9,122.9 192.6,123.2 193.3,123.5 194.0,123.8 194.7,124.1 195.4,124.4 196.1,124.6 196.8,124.9 197.5,125.2 198.2,125.4 198.9,125.7 199.7,126.0 200.4,126.2 201.1,126.5 201.8,126.7 202.5,126.9 203.3,127.2 204.0,127.4 204.7,127.6 205.4,127.8 206.2,128.0 206.9,128.3 207.6,128.5 208.4,128.7 209.1,128.9 209.8,129.0 210.6,129.2 211.3,129.4 212.0,129.6 212.8,129.8 213.5,129.9 214.3,130.1 215.0,130.2 215.8,130.4 216.5,130.5 217.2,130.7 218.0,130.8 218.7,130.9 219.5,131.1 220.2,131.2 221.0,131.3 221.7,131.4 222.5,131.5 223.2,131.6 224.0,131.7 224.8,131.8 225.5,131.9 226.3,132.0 227.0,132.1 227.8,132.2 228.5,132.2 229.3,132.3 230.0,132.4 230.8,132.4 231.6,132.5 232.3,132.5 233.1,132.6 233.8,132.6 234.6,132.6 235.4,132.6 236.1,132.7 236.9,132.7 237.6,132.7 238.4,132.7 239.2,132.7 239.9,132.7 240.7,132.7 241.4,132.7 242.2,132.7 242.9,132.6 243.7,132.6 244.5,132.6 245.2,132.5 246.0,132.5 246.7,132.4 247.5,132.4 248.3,132.3 249.0,132.3 249.8,132.2 250.5,132.1 251.3,132.1 252.0,132.0 252.8,131.9 253.5,131.8 254.3,131.7 255.1,131.6 255.8,131.5 256.6,131.4 257.3,131.3 258.1,131.2 258.8,131.0 259.6,130.9 260.3,130.8 261.0,130.6 261.8,130.5 262.5,130.3 263.3,130.2 264.0,130.0 264.8,129.9 265.5,129.7 266.2,129.5 267.0,129.3 267.7,129.2 268.5,129.0 269.2,128.8 269.9,128.6 270.7,128.4 271.4,128.2 272.1,128.0 272.9,127.7 273.6,127.5 274.3,127.3 275.0,127.1 275.8,126.8 276.5,126.6 277.2,126.4 277.9,126.1 278.6,125.9 279.3,125.6 280.1,125.3 280.8,125.1 281.5,124.8 282.2,124.5 282.9,124.2 283.6,124.0 284.3,123.7 285.0,123.4 285.7,123.1 286.4,122.8 287.1,122.5"/>
<path d="M195.0,98.9 195.5,99.2 196.1,99.5 196.6,99.7 197.2,100.0 197.7,100.3 198.3,100.5 198.8,100.8 199.4,101.1 199.9,101.3 200.5,101.6 201.1,101.8 201.6,102.0 202.2,102.3 202.8,102.5 203.3,102.8 203.9,103.0 204.5,103.2 205.0,103.4 205.6,103.6 206.2,103.9 206.7,104.1 207.3,104.3 207.9,104.5 208.5,104.7 209.1,104.9 209.6,105.1 210.2,105.2 210.8,105.4 211.4,105.6 212.0,105.8 212.6,106.0 213.2,106.1 213.7,106.3 214.3,106.4 214.9,106.6 215.5,106.8 216.1,106.9 216.7,107.0 217.3,107.2 217.9,107.3 218.5,107.5 219.1,107.6 219.7,107.7 220.3,107.8 220.9,108.0 221.5,108.1 222.1,108.2 222.7,108.3 223.3,108.4 223.9,108.5 224.5,108.6 225.1,108.7 225.7,108.8 226.3,108.9 226.9,108.9 227.5,109.0 228.1,109.1 228.7,109.1 229.4,109.2 230.0,109.3 230.6,109.3 231.2,109.4 231.8,109.4 232.4,109.5 233.0,109.5 233.6,109.5 234.2,109.6 234.8,109.6 235.5,109.6 236.1,109.7 236.7,109.7 237.3,109.7 237.9,109.7 238.5,109.7 239.1,109.7 239.7,109.7 240.3,109.7 241.0,109.7 241.6,109.7 242.2,109.6 242.8,109.6 243.4,109.6 244.0,109.6 244.6,109.5 245.2,109.5 245.8,109.5 246.5,109.4 247.1,109.4 247.7,109.3 248.3,109.2 248.9,109.2 249.5,109.1 250.1,109.0 250.7,109.0 251.3,108.9 251.9,108.8 252.5,108.7 253.1,108.6 253.7,108.6 254.3,108.5 254.9,108.4 255.6,108.2 256.2,108.1 256.8,108.0 257.4,107.9 258.0,107.8 258.6,107.7 259.2,107.5 259.7,107.4 260.3,107.3 260.9,107.1 261.5,107.0 262.1,106.8 262.7,106.7 263.3,106.5 263.9,106.4 264.5,106.2 265.1,106.1 265.7,105.9 266.3,105.7 266.8,105.5 267.4,105.4 268.0,105.2 268.6,105.0 269.2,104.8 269.8,104.6 270.3,104.4 270.9,104.2 271.5,104.0 272.1,103.8 272.6,103.6 273.2,103.3 273.8,103.1 274.3,102.9 274.9,102.7 275.5,102.4 276.0,102.2 276.6,102.0 277.2,101.7 277.7,101.5"/>
<path d="M205.6,78.5 206.0,78.7 206.5,78.9 206.9,79.1 207.3,79.4 207.7,79.6 208.1,79.8 208.5,80.0 209.0,80.1 209.4,80.3 209.8,80.5 210.2,80.7 210.7,80.9 211.1,81.1 211.5,81.3 211.9,81.4 212.4,81.6 212.8,81.8 213.2,81.9 213.7,82.1 214.1,82.3 214.5,82.4 215.0,82.6 215.4,82.7 215.9,82.9 216.3,83.0 216.7,83.2 217.2,83.3 217.6,83.5 218.1,83.6 218.5,83.7 219.0,83.9 219.4,84.0 219.8,84.1 220.3,84.2 220.7,84.4 221.2,84.5 221.6,84.6 222.1,84.7 222.5,84.8 223.0,84.9 223.4,85.0 223.9,85.1 224.4,85.2 224.8,85.3 225.3,85.4 225.7,85.5 226.2,85.6 226.6,85.6 227.1,85.7 227.5,85.8 228.0,85.9 228.5,85.9 228.9,86.0 229.4,86.1 229.8,86.1 230.3,86.2 230.8,86.2 231.2,86.3 231.7,86.3 232.1,86.4 232.6,86.4 233.1,86.5 233.5,86.5 234.0,86.5 234.5,86.6 234.9,86.6 235.4,86.6 235.8,86.6 236.3,86.6 236.8,86.7 237.2,86.7 237.7,86.7 238.2,86.7 238.6,86.7 239.1,86.7 239.6,86.7 240.0,86.7 240.5,86.7 240.9,86.7 241.4,86.7 241.9,86.6 242.3,86.6 242.8,86.6 243.3,86.6 243.7,86.5 244.2,86.5 244.7,86.5 245.1,86.4 245.6,86.4 246.0,86.4 246.5,86.3 247.0,86.3 247.4,86.2 247.9,86.2 248.3,86.1 248.8,86.0 249.3,86.0 249.7,85.9 250.2,85.8 250.6,85.8 251.1,85.7 251.5,85.6 252.0,85.5 252.5,85.4 252.9,85.3 253.4,85.3 253.8,85.2 254.3,85.1 254.7,85.0 255.2,84.9 255.6,84.8 256.1,84.6 256.5,84.5 257.0,84.4 257.4,84.3 257.9,84.2 258.3,84.1 258.8,83.9 259.2,83.8 259.7,83.7 260.1,83.5 260.6,83.4 261.0,83.3 261.4,83.1 261.9,83.0 262.3,82.8 262.8,82.7 263.2,82.5 263.6,82.4 264.1,82.2 264.5,82.0 264.9,81.9 265.4,81.7 265.8,81.5 266.2,81.4 266.7,81.2 267.1,81.0 267.5,80.8 267.9,80.6 268.4,80.5"/>
<path d="M216.3,58.1 216.6,58.3 216.8,58.4 217.1,58.6 217.4,58.7 217.7,58.8 218.0,59.0 218.3,59.1 218.5,59.2 218.8,59.4 219.1,59.5 219.4,59.6 219.7,59.7 220.0,59.9 220.3,60.0 220.6,60.1 220.9,60.2 221.2,60.3 221.5,60.5 221.8,60.6 222.1,60.7 222.3,60.8 222.6,60.9 222.9,61.0 223.2,61.1 223.5,61.2 223.8,61.3 224.1,61.4 224.4,61.5 224.7,61.6 225.0,61.7 225.4,61.8 225.7,61.9 226.0,61.9 226.3,62.0 226.6,62.1 226.9,62.2 227.2,62.3 227.5,62.3 227.8,62.4 228.1,62.5 228.4,62.5 228.7,62.6 229.0,62.7 229.3,62.7 229.6,62.8 230.0,62.9 230.3,62.9 230.6,63.0 230.9,63.0 231.2,63.1 231.5,63.1 231.8,63.2 232.1,63.2 232.5,63.3 232.8,63.3 233.1,63.3 233.4,63.4 233.7,63.4 234.0,63.4 234.3,63.5 234.6,63.5 235.0,63.5 235.3,63.6 235.6,63.6 235.9,63.6 236.2,63.6 236.5,63.6 236.9,63.7 237.2,63.7 237.5,63.7 237.8,63.7 238.1,63.7 238.4,63.7 238.7,63.7 239.1,63.7 239.4,63.7 239.7,63.7 240.0,63.7 240.3,63.7 240.6,63.7 241.0,63.7 241.3,63.6 241.6,63.6 241.9,63.6 242.2,63.6 242.5,63.6 242.8,63.5 243.2,63.5 243.5,63.5 243.8,63.5 244.1,63.4 244.4,63.4 244.7,63.4 245.0,63.3 245.4,63.3 245.7,63.2 246.0,63.2 246.3,63.2 246.6,63.1 246.9,63.1 247.2,63.0 247.5,63.0 247.9,62.9 248.2,62.8 248.5,62.8 248.8,62.7 249.1,62.7 249.4,62.6 249.7,62.5 250.0,62.4 250.3,62.4 250.6,62.3 250.9,62.2 251.2,62.1 251.6,62.1 251.9,62.0 252.2,61.9 252.5,61.8 252.8,61.7 253.1,61.6 253.4,61.5 253.7,61.5 254.0,61.4 254.3,61.3 254.6,61.2 254.9,61.1 255.2,61.0 255.5,60.9 255.8,60.7 256.1,60.6 256.4,60.5 256.7,60.4 257.0,60.3 257.2,60.2 257.5,60.1 257.8,59.9 258.1,59.8 258.4,59.7 258.7,59.6 259.0,59.4"/>
<path d="M221.6,47.9 221.8,48.0 222.0,48.2 222.2,48.3 222.5,48.4 222.7,48.5 222.9,48.6 223.1,48.7 223.3,48.8 223.6,48.9 223.8,49.0 224.0,49.1 224.2,49.2 224.4,49.3 224.7,49.4 224.9,49.5 225.1,49.5 225.3,49.6 225.6,49.7 225.8,49.8 226.0,49.9 226.2,50.0 226.5,50.1 226.7,50.1 226.9,50.2 227.2,50.3 227.4,50.4 227.6,50.4 227.9,50.5 228.1,50.6 228.3,50.6 228.5,50.7 228.8,50.8 229.0,50.8 229.2,50.9 229.5,51.0 229.7,51.0 229.9,51.1 230.2,51.2 230.4,51.2 230.7,51.3 230.9,51.3 231.1,51.4 231.4,51.4 231.6,51.5 231.8,51.5 232.1,51.6 232.3,51.6 232.6,51.6 232.8,51.7 233.0,51.7 233.3,51.8 233.5,51.8 233.7,51.8 234.0,51.9 234.2,51.9 234.5,51.9 234.7,52.0 234.9,52.0 235.2,52.0 235.4,52.0 235.7,52.1 235.9,52.1 236.1,52.1 236.4,52.1 236.6,52.1 236.9,52.1 237.1,52.2 237.4,52.2 237.6,52.2 237.8,52.2 238.1,52.2 238.3,52.2 238.6,52.2 238.8,52.2 239.0,52.2 239.3,52.2 239.5,52.2 239.8,52.2 240.0,52.2 240.3,52.2 240.5,52.2 240.7,52.2 241.0,52.1 241.2,52.1 241.5,52.1 241.7,52.1 241.9,52.1 242.2,52.1 242.4,52.0 242.7,52.0 242.9,52.0 243.2,52.0 243.4,51.9 243.6,51.9 243.9,51.9 244.1,51.9 244.4,51.8 244.6,51.8 244.8,51.7 245.1,51.7 245.3,51.7 245.5,51.6 245.8,51.6 246.0,51.5 246.3,51.5 246.5,51.4 246.7,51.4 247.0,51.3 247.2,51.3 247.4,51.2 247.7,51.2 247.9,51.1 248.1,51.1 248.4,51.0 248.6,51.0 248.8,50.9 249.1,50.8 249.3,50.8 249.5,50.7 249.8,50.6 250.0,50.6 250.2,50.5 250.5,50.4 250.7,50.3 250.9,50.3 251.2,50.2 251.4,50.1 251.6,50.0 251.8,49.9 252.1,49.9 252.3,49.8 252.5,49.7 252.7,49.6 253.0,49.5 253.2,49.4 253.4,49.3 253.6,49.2 253.9,49.1 254.1,49.0 254.3,48.9"/>
<path d="M173.7,139.7 221.6,47.9"/>
<path d="M181.9,143.6 223.8,49.0"/>
<path d="M216.6,153.9 233.0,51.7"/>
<path d="M252.8,155.0 242.7,52.0"/>
<path d="M288.0,146.9 252.1,49.9"/>
<path d="M296.4,143.5 254.3,48.9"/>
</g>
<g transform="translate(0,0)" fill="none" stroke="#8a8a8a" stroke-width="0.6">
<path d="M241.5,68 L246,65 L251.5,63.7 L257,65.5 L263,66 L266,64 L268.8,62.3 L272,59.5 L276,56.5 L279,53 L281,50.8 L279,48 L277.4,45.8 L274.5,44.3"/>
<path d="M263,71 L266,76 L262,78"/>
<path d="M176,154.5 L181,151 L187.7,148.6 L198.4,145 L205,143 L212.6,141.5 L222,141 L231.5,142.7 L235,147.5 L248,148.6 L256,149.5 L264.6,149.8 L274,148.6 L282,147 L290,146"/>
<ellipse cx="209.5" cy="68.3" rx="4.6" ry="2.9"/>
<path d="M240,44 L243,43 L246.5,46 L245,50 L242,49.5 Z"/>
</g>
<text x="213.8" y="59.1" class="gl" text-anchor="middle">70</text>
<text x="203.0" y="78.8" class="gl" text-anchor="middle">60</text>
<text x="190.5" y="99.8" class="gl" text-anchor="middle">50</text>
<text x="181.2" y="119.6" class="gl" text-anchor="middle">40</text>
<text x="173.0" y="139.9" class="gl" text-anchor="middle">-20</text>
<text x="211.0" y="153.0" class="gl" text-anchor="middle">0</text>
<text x="253.0" y="154.5" class="gl" text-anchor="middle">20</text>
<text x="292.4" y="142.8" class="gl" text-anchor="middle">40</text>
<g transform="translate(-8,137.5) scale(1,1.136)" fill="none" stroke="#d6d6d6" stroke-width="0.5">
<path d="M173.7,139.7 174.5,140.1 175.3,140.5 176.1,140.9 176.9,141.3 177.8,141.7 178.6,142.1 179.4,142.5 180.2,142.9 181.1,143.3 181.9,143.6 182.7,144.0 183.5,144.3 184.4,144.7 185.2,145.0 186.1,145.4 186.9,145.7 187.7,146.1 188.6,146.4 189.4,146.7 190.3,147.0 191.1,147.3 192.0,147.6 192.9,147.9 193.7,148.2 194.6,148.5 195.4,148.8 196.3,149.1 197.2,149.4 198.0,149.6 198.9,149.9 199.8,150.1 200.6,150.4 201.5,150.6 202.4,150.9 203.3,151.1 204.2,151.3 205.0,151.6 205.9,151.8 206.8,152.0 207.7,152.2 208.6,152.4 209.5,152.6 210.3,152.8 211.2,152.9 212.1,153.1 213.0,153.3 213.9,153.5 214.8,153.6 215.7,153.8 216.6,153.9 217.5,154.1 218.4,154.2 219.3,154.3 220.2,154.4 221.1,154.6 222.0,154.7 222.9,154.8 223.8,154.9 224.7,155.0 225.6,155.1 226.5,155.1 227.4,155.2 228.3,155.3 229.2,155.4 230.1,155.4 231.0,155.5 231.9,155.5 232.8,155.6 233.7,155.6 234.6,155.6 235.6,155.7 236.5,155.7 237.4,155.7 238.3,155.7 239.2,155.7 240.1,155.7 241.0,155.7 241.9,155.7 242.8,155.6 243.7,155.6 244.6,155.6 245.5,155.5 246.4,155.5 247.3,155.5 248.2,155.4 249.2,155.3 250.1,155.3 251.0,155.2 251.9,155.1 252.8,155.0 253.7,154.9 254.6,154.8 255.5,154.7 256.4,154.6 257.3,154.5 258.2,154.4 259.1,154.3 260.0,154.1 260.9,154.0 261.8,153.9 262.7,153.7 263.6,153.5 264.5,153.4 265.3,153.2 266.2,153.0 267.1,152.9 268.0,152.7 268.9,152.5 269.8,152.3 270.7,152.1 271.6,151.9 272.4,151.7 273.3,151.5 274.2,151.2 275.1,151.0 276.0,150.8 276.8,150.5 277.7,150.3 278.6,150.0 279.4,149.8 280.3,149.5 281.2,149.2 282.0,149.0 282.9,148.7 283.8,148.4 284.6,148.1 285.5,147.8 286.3,147.5 287.2,147.2 288.0,146.9 288.9,146.6 289.7,146.3 290.6,145.9 291.4,145.6 292.3,145.3 293.1,144.9 294.0,144.6 294.8,144.2 295.6,143.8 296.4,143.5"/>
<path d="M184.4,119.3 185.0,119.6 185.7,120.0 186.4,120.3 187.1,120.7 187.7,121.0 188.4,121.3 189.1,121.6 189.8,122.0 190.5,122.3 191.2,122.6 191.9,122.9 192.6,123.2 193.3,123.5 194.0,123.8 194.7,124.1 195.4,124.4 196.1,124.6 196.8,124.9 197.5,125.2 198.2,125.4 198.9,125.7 199.7,126.0 200.4,126.2 201.1,126.5 201.8,126.7 202.5,126.9 203.3,127.2 204.0,127.4 204.7,127.6 205.4,127.8 206.2,128.0 206.9,128.3 207.6,128.5 208.4,128.7 209.1,128.9 209.8,129.0 210.6,129.2 211.3,129.4 212.0,129.6 212.8,129.8 213.5,129.9 214.3,130.1 215.0,130.2 215.8,130.4 216.5,130.5 217.2,130.7 218.0,130.8 218.7,130.9 219.5,131.1 220.2,131.2 221.0,131.3 221.7,131.4 222.5,131.5 223.2,131.6 224.0,131.7 224.8,131.8 225.5,131.9 226.3,132.0 227.0,132.1 227.8,132.2 228.5,132.2 229.3,132.3 230.0,132.4 230.8,132.4 231.6,132.5 232.3,132.5 233.1,132.6 233.8,132.6 234.6,132.6 235.4,132.6 236.1,132.7 236.9,132.7 237.6,132.7 238.4,132.7 239.2,132.7 239.9,132.7 240.7,132.7 241.4,132.7 242.2,132.7 242.9,132.6 243.7,132.6 244.5,132.6 245.2,132.5 246.0,132.5 246.7,132.4 247.5,132.4 248.3,132.3 249.0,132.3 249.8,132.2 250.5,132.1 251.3,132.1 252.0,132.0 252.8,131.9 253.5,131.8 254.3,131.7 255.1,131.6 255.8,131.5 256.6,131.4 257.3,131.3 258.1,131.2 258.8,131.0 259.6,130.9 260.3,130.8 261.0,130.6 261.8,130.5 262.5,130.3 263.3,130.2 264.0,130.0 264.8,129.9 265.5,129.7 266.2,129.5 267.0,129.3 267.7,129.2 268.5,129.0 269.2,128.8 269.9,128.6 270.7,128.4 271.4,128.2 272.1,128.0 272.9,127.7 273.6,127.5 274.3,127.3 275.0,127.1 275.8,126.8 276.5,126.6 277.2,126.4 277.9,126.1 278.6,125.9 279.3,125.6 280.1,125.3 280.8,125.1 281.5,124.8 282.2,124.5 282.9,124.2 283.6,124.0 284.3,123.7 285.0,123.4 285.7,123.1 286.4,122.8 287.1,122.5"/>
<path d="M195.0,98.9 195.5,99.2 196.1,99.5 196.6,99.7 197.2,100.0 197.7,100.3 198.3,100.5 198.8,100.8 199.4,101.1 199.9,101.3 200.5,101.6 201.1,101.8 201.6,102.0 202.2,102.3 202.8,102.5 203.3,102.8 203.9,103.0 204.5,103.2 205.0,103.4 205.6,103.6 206.2,103.9 206.7,104.1 207.3,104.3 207.9,104.5 208.5,104.7 209.1,104.9 209.6,105.1 210.2,105.2 210.8,105.4 211.4,105.6 212.0,105.8 212.6,106.0 213.2,106.1 213.7,106.3 214.3,106.4 214.9,106.6 215.5,106.8 216.1,106.9 216.7,107.0 217.3,107.2 217.9,107.3 218.5,107.5 219.1,107.6 219.7,107.7 220.3,107.8 220.9,108.0 221.5,108.1 222.1,108.2 222.7,108.3 223.3,108.4 223.9,108.5 224.5,108.6 225.1,108.7 225.7,108.8 226.3,108.9 226.9,108.9 227.5,109.0 228.1,109.1 228.7,109.1 229.4,109.2 230.0,109.3 230.6,109.3 231.2,109.4 231.8,109.4 232.4,109.5 233.0,109.5 233.6,109.5 234.2,109.6 234.8,109.6 235.5,109.6 236.1,109.7 236.7,109.7 237.3,109.7 237.9,109.7 238.5,109.7 239.1,109.7 239.7,109.7 240.3,109.7 241.0,109.7 241.6,109.7 242.2,109.6 242.8,109.6 243.4,109.6 244.0,109.6 244.6,109.5 245.2,109.5 245.8,109.5 246.5,109.4 247.1,109.4 247.7,109.3 248.3,109.2 248.9,109.2 249.5,109.1 250.1,109.0 250.7,109.0 251.3,108.9 251.9,108.8 252.5,108.7 253.1,108.6 253.7,108.6 254.3,108.5 254.9,108.4 255.6,108.2 256.2,108.1 256.8,108.0 257.4,107.9 258.0,107.8 258.6,107.7 259.2,107.5 259.7,107.4 260.3,107.3 260.9,107.1 261.5,107.0 262.1,106.8 262.7,106.7 263.3,106.5 263.9,106.4 264.5,106.2 265.1,106.1 265.7,105.9 266.3,105.7 266.8,105.5 267.4,105.4 268.0,105.2 268.6,105.0 269.2,104.8 269.8,104.6 270.3,104.4 270.9,104.2 271.5,104.0 272.1,103.8 272.6,103.6 273.2,103.3 273.8,103.1 274.3,102.9 274.9,102.7 275.5,102.4 276.0,102.2 276.6,102.0 277.2,101.7 277.7,101.5"/>
<path d="M205.6,78.5 206.0,78.7 206.5,78.9 206.9,79.1 207.3,79.4 207.7,79.6 208.1,79.8 208.5,80.0 209.0,80.1 209.4,80.3 209.8,80.5 210.2,80.7 210.7,80.9 211.1,81.1 211.5,81.3 211.9,81.4 212.4,81.6 212.8,81.8 213.2,81.9 213.7,82.1 214.1,82.3 214.5,82.4 215.0,82.6 215.4,82.7 215.9,82.9 216.3,83.0 216.7,83.2 217.2,83.3 217.6,83.5 218.1,83.6 218.5,83.7 219.0,83.9 219.4,84.0 219.8,84.1 220.3,84.2 220.7,84.4 221.2,84.5 221.6,84.6 222.1,84.7 222.5,84.8 223.0,84.9 223.4,85.0 223.9,85.1 224.4,85.2 224.8,85.3 225.3,85.4 225.7,85.5 226.2,85.6 226.6,85.6 227.1,85.7 227.5,85.8 228.0,85.9 228.5,85.9 228.9,86.0 229.4,86.1 229.8,86.1 230.3,86.2 230.8,86.2 231.2,86.3 231.7,86.3 232.1,86.4 232.6,86.4 233.1,86.5 233.5,86.5 234.0,86.5 234.5,86.6 234.9,86.6 235.4,86.6 235.8,86.6 236.3,86.6 236.8,86.7 237.2,86.7 237.7,86.7 238.2,86.7 238.6,86.7 239.1,86.7 239.6,86.7 240.0,86.7 240.5,86.7 240.9,86.7 241.4,86.7 241.9,86.6 242.3,86.6 242.8,86.6 243.3,86.6 243.7,86.5 244.2,86.5 244.7,86.5 245.1,86.4 245.6,86.4 246.0,86.4 246.5,86.3 247.0,86.3 247.4,86.2 247.9,86.2 248.3,86.1 248.8,86.0 249.3,86.0 249.7,85.9 250.2,85.8 250.6,85.8 251.1,85.7 251.5,85.6 252.0,85.5 252.5,85.4 252.9,85.3 253.4,85.3 253.8,85.2 254.3,85.1 254.7,85.0 255.2,84.9 255.6,84.8 256.1,84.6 256.5,84.5 257.0,84.4 257.4,84.3 257.9,84.2 258.3,84.1 258.8,83.9 259.2,83.8 259.7,83.7 260.1,83.5 260.6,83.4 261.0,83.3 261.4,83.1 261.9,83.0 262.3,82.8 262.8,82.7 263.2,82.5 263.6,82.4 264.1,82.2 264.5,82.0 264.9,81.9 265.4,81.7 265.8,81.5 266.2,81.4 266.7,81.2 267.1,81.0 267.5,80.8 267.9,80.6 268.4,80.5"/>
<path d="M216.3,58.1 216.6,58.3 216.8,58.4 217.1,58.6 217.4,58.7 217.7,58.8 218.0,59.0 218.3,59.1 218.5,59.2 218.8,59.4 219.1,59.5 219.4,59.6 219.7,59.7 220.0,59.9 220.3,60.0 220.6,60.1 220.9,60.2 221.2,60.3 221.5,60.5 221.8,60.6 222.1,60.7 222.3,60.8 222.6,60.9 222.9,61.0 223.2,61.1 223.5,61.2 223.8,61.3 224.1,61.4 224.4,61.5 224.7,61.6 225.0,61.7 225.4,61.8 225.7,61.9 226.0,61.9 226.3,62.0 226.6,62.1 226.9,62.2 227.2,62.3 227.5,62.3 227.8,62.4 228.1,62.5 228.4,62.5 228.7,62.6 229.0,62.7 229.3,62.7 229.6,62.8 230.0,62.9 230.3,62.9 230.6,63.0 230.9,63.0 231.2,63.1 231.5,63.1 231.8,63.2 232.1,63.2 232.5,63.3 232.8,63.3 233.1,63.3 233.4,63.4 233.7,63.4 234.0,63.4 234.3,63.5 234.6,63.5 235.0,63.5 235.3,63.6 235.6,63.6 235.9,63.6 236.2,63.6 236.5,63.6 236.9,63.7 237.2,63.7 237.5,63.7 237.8,63.7 238.1,63.7 238.4,63.7 238.7,63.7 239.1,63.7 239.4,63.7 239.7,63.7 240.0,63.7 240.3,63.7 240.6,63.7 241.0,63.7 241.3,63.6 241.6,63.6 241.9,63.6 242.2,63.6 242.5,63.6 242.8,63.5 243.2,63.5 243.5,63.5 243.8,63.5 244.1,63.4 244.4,63.4 244.7,63.4 245.0,63.3 245.4,63.3 245.7,63.2 246.0,63.2 246.3,63.2 246.6,63.1 246.9,63.1 247.2,63.0 247.5,63.0 247.9,62.9 248.2,62.8 248.5,62.8 248.8,62.7 249.1,62.7 249.4,62.6 249.7,62.5 250.0,62.4 250.3,62.4 250.6,62.3 250.9,62.2 251.2,62.1 251.6,62.1 251.9,62.0 252.2,61.9 252.5,61.8 252.8,61.7 253.1,61.6 253.4,61.5 253.7,61.5 254.0,61.4 254.3,61.3 254.6,61.2 254.9,61.1 255.2,61.0 255.5,60.9 255.8,60.7 256.1,60.6 256.4,60.5 256.7,60.4 257.0,60.3 257.2,60.2 257.5,60.1 257.8,59.9 258.1,59.8 258.4,59.7 258.7,59.6 259.0,59.4"/>
<path d="M221.6,47.9 221.8,48.0 222.0,48.2 222.2,48.3 222.5,48.4 222.7,48.5 222.9,48.6 223.1,48.7 223.3,48.8 223.6,48.9 223.8,49.0 224.0,49.1 224.2,49.2 224.4,49.3 224.7,49.4 224.9,49.5 225.1,49.5 225.3,49.6 225.6,49.7 225.8,49.8 226.0,49.9 226.2,50.0 226.5,50.1 226.7,50.1 226.9,50.2 227.2,50.3 227.4,50.4 227.6,50.4 227.9,50.5 228.1,50.6 228.3,50.6 228.5,50.7 228.8,50.8 229.0,50.8 229.2,50.9 229.5,51.0 229.7,51.0 229.9,51.1 230.2,51.2 230.4,51.2 230.7,51.3 230.9,51.3 231.1,51.4 231.4,51.4 231.6,51.5 231.8,51.5 232.1,51.6 232.3,51.6 232.6,51.6 232.8,51.7 233.0,51.7 233.3,51.8 233.5,51.8 233.7,51.8 234.0,51.9 234.2,51.9 234.5,51.9 234.7,52.0 234.9,52.0 235.2,52.0 235.4,52.0 235.7,52.1 235.9,52.1 236.1,52.1 236.4,52.1 236.6,52.1 236.9,52.1 237.1,52.2 237.4,52.2 237.6,52.2 237.8,52.2 238.1,52.2 238.3,52.2 238.6,52.2 238.8,52.2 239.0,52.2 239.3,52.2 239.5,52.2 239.8,52.2 240.0,52.2 240.3,52.2 240.5,52.2 240.7,52.2 241.0,52.1 241.2,52.1 241.5,52.1 241.7,52.1 241.9,52.1 242.2,52.1 242.4,52.0 242.7,52.0 242.9,52.0 243.2,52.0 243.4,51.9 243.6,51.9 243.9,51.9 244.1,51.9 244.4,51.8 244.6,51.8 244.8,51.7 245.1,51.7 245.3,51.7 245.5,51.6 245.8,51.6 246.0,51.5 246.3,51.5 246.5,51.4 246.7,51.4 247.0,51.3 247.2,51.3 247.4,51.2 247.7,51.2 247.9,51.1 248.1,51.1 248.4,51.0 248.6,51.0 248.8,50.9 249.1,50.8 249.3,50.8 249.5,50.7 249.8,50.6 250.0,50.6 250.2,50.5 250.5,50.4 250.7,50.3 250.9,50.3 251.2,50.2 251.4,50.1 251.6,50.0 251.8,49.9 252.1,49.9 252.3,49.8 252.5,49.7 252.7,49.6 253.0,49.5 253.2,49.4 253.4,49.3 253.6,49.2 253.9,49.1 254.1,49.0 254.3,48.9"/>
<path d="M173.7,139.7 221.6,47.9"/>
<path d="M181.9,143.6 223.8,49.0"/>
<path d="M216.6,153.9 233.0,51.7"/>
<path d="M252.8,155.0 242.7,52.0"/>
<path d="M288.0,146.9 252.1,49.9"/>
<path d="M296.4,143.5 254.3,48.9"/>
</g>
<g transform="translate(-8,137.5) scale(1,1.136)" fill="none" stroke="#8a8a8a" stroke-width="0.6">
<path d="M241.5,68 L246,65 L251.5,63.7 L257,65.5 L263,66 L266,64 L268.8,62.3 L272,59.5 L276,56.5 L279,53 L281,50.8 L279,48 L277.4,45.8 L274.5,44.3"/>
<path d="M263,71 L266,76 L262,78"/>
<path d="M176,154.5 L181,151 L187.7,148.6 L198.4,145 L205,143 L212.6,141.5 L222,141 L231.5,142.7 L235,147.5 L248,148.6 L256,149.5 L264.6,149.8 L274,148.6 L282,147 L290,146"/>
<ellipse cx="209.5" cy="68.3" rx="4.6" ry="2.9"/>
<path d="M240,44 L243,43 L246.5,46 L245,50 L242,49.5 Z"/>
</g>
<text x="205.8" y="204.3" class="gl" text-anchor="middle">70</text>
<text x="195.0" y="226.7" class="gl" text-anchor="middle">60</text>
<text x="182.5" y="250.5" class="gl" text-anchor="middle">50</text>
<text x="173.2" y="273.0" class="gl" text-anchor="middle">40</text>
<text x="165.0" y="296.1" class="gl" text-anchor="middle">-20</text>
<text x="203.0" y="311.0" class="gl" text-anchor="middle">0</text>
<text x="245.0" y="312.7" class="gl" text-anchor="middle">20</text>
<text x="284.4" y="299.4" class="gl" text-anchor="middle">40</text>
<g transform="translate(2.2,302.9) scale(1,1.05)" fill="none" stroke="#d6d6d6" stroke-width="0.5">
<path d="M173.7,139.7 174.5,140.1 175.3,140.5 176.1,140.9 176.9,141.3 177.8,141.7 178.6,142.1 179.4,142.5 180.2,142.9 181.1,143.3 181.9,143.6 182.7,144.0 183.5,144.3 184.4,144.7 185.2,145.0 186.1,145.4 186.9,145.7 187.7,146.1 188.6,146.4 189.4,146.7 190.3,147.0 191.1,147.3 192.0,147.6 192.9,147.9 193.7,148.2 194.6,148.5 195.4,148.8 196.3,149.1 197.2,149.4 198.0,149.6 198.9,149.9 199.8,150.1 200.6,150.4 201.5,150.6 202.4,150.9 203.3,151.1 204.2,151.3 205.0,151.6 205.9,151.8 206.8,152.0 207.7,152.2 208.6,152.4 209.5,152.6 210.3,152.8 211.2,152.9 212.1,153.1 213.0,153.3 213.9,153.5 214.8,153.6 215.7,153.8 216.6,153.9 217.5,154.1 218.4,154.2 219.3,154.3 220.2,154.4 221.1,154.6 222.0,154.7 222.9,154.8 223.8,154.9 224.7,155.0 225.6,155.1 226.5,155.1 227.4,155.2 228.3,155.3 229.2,155.4 230.1,155.4 231.0,155.5 231.9,155.5 232.8,155.6 233.7,155.6 234.6,155.6 235.6,155.7 236.5,155.7 237.4,155.7 238.3,155.7 239.2,155.7 240.1,155.7 241.0,155.7 241.9,155.7 242.8,155.6 243.7,155.6 244.6,155.6 245.5,155.5 246.4,155.5 247.3,155.5 248.2,155.4 249.2,155.3 250.1,155.3 251.0,155.2 251.9,155.1 252.8,155.0 253.7,154.9 254.6,154.8 255.5,154.7 256.4,154.6 257.3,154.5 258.2,154.4 259.1,154.3 260.0,154.1 260.9,154.0 261.8,153.9 262.7,153.7 263.6,153.5 264.5,153.4 265.3,153.2 266.2,153.0 267.1,152.9 268.0,152.7 268.9,152.5 269.8,152.3 270.7,152.1 271.6,151.9 272.4,151.7 273.3,151.5 274.2,151.2 275.1,151.0 276.0,150.8 276.8,150.5 277.7,150.3 278.6,150.0 279.4,149.8 280.3,149.5 281.2,149.2 282.0,149.0 282.9,148.7 283.8,148.4 284.6,148.1 285.5,147.8 286.3,147.5 287.2,147.2 288.0,146.9 288.9,146.6 289.7,146.3 290.6,145.9 291.4,145.6 292.3,145.3 293.1,144.9 294.0,144.6 294.8,144.2 295.6,143.8 296.4,143.5"/>
<path d="M184.4,119.3 185.0,119.6 185.7,120.0 186.4,120.3 187.1,120.7 187.7,121.0 188.4,121.3 189.1,121.6 189.8,122.0 190.5,122.3 191.2,122.6 191.9,122.9 192.6,123.2 193.3,123.5 194.0,123.8 194.7,124.1 195.4,124.4 196.1,124.6 196.8,124.9 197.5,125.2 198.2,125.4 198.9,125.7 199.7,126.0 200.4,126.2 201.1,126.5 201.8,126.7 202.5,126.9 203.3,127.2 204.0,127.4 204.7,127.6 205.4,127.8 206.2,128.0 206.9,128.3 207.6,128.5 208.4,128.7 209.1,128.9 209.8,129.0 210.6,129.2 211.3,129.4 212.0,129.6 212.8,129.8 213.5,129.9 214.3,130.1 215.0,130.2 215.8,130.4 216.5,130.5 217.2,130.7 218.0,130.8 218.7,130.9 219.5,131.1 220.2,131.2 221.0,131.3 221.7,131.4 222.5,131.5 223.2,131.6 224.0,131.7 224.8,131.8 225.5,131.9 226.3,132.0 227.0,132.1 227.8,132.2 228.5,132.2 229.3,132.3 230.0,132.4 230.8,132.4 231.6,132.5 232.3,132.5 233.1,132.6 233.8,132.6 234.6,132.6 235.4,132.6 236.1,132.7 236.9,132.7 237.6,132.7 238.4,132.7 239.2,132.7 239.9,132.7 240.7,132.7 241.4,132.7 242.2,132.7 242.9,132.6 243.7,132.6 244.5,132.6 245.2,132.5 246.0,132.5 246.7,132.4 247.5,132.4 248.3,132.3 249.0,132.3 249.8,132.2 250.5,132.1 251.3,132.1 252.0,132.0 252.8,131.9 253.5,131.8 254.3,131.7 255.1,131.6 255.8,131.5 256.6,131.4 257.3,131.3 258.1,131.2 258.8,131.0 259.6,130.9 260.3,130.8 261.0,130.6 261.8,130.5 262.5,130.3 263.3,130.2 264.0,130.0 264.8,129.9 265.5,129.7 266.2,129.5 267.0,129.3 267.7,129.2 268.5,129.0 269.2,128.8 269.9,128.6 270.7,128.4 271.4,128.2 272.1,128.0 272.9,127.7 273.6,127.5 274.3,127.3 275.0,127.1 275.8,126.8 276.5,126.6 277.2,126.4 277.9,126.1 278.6,125.9 279.3,125.6 280.1,125.3 280.8,125.1 281.5,124.8 282.2,124.5 282.9,124.2 283.6,124.0 284.3,123.7 285.0,123.4 285.7,123.1 286.4,122.8 287.1,122.5"/>
<path d="M195.0,98.9 195.5,99.2 196.1,99.5 196.6,99.7 197.2,100.0 197.7,100.3 198.3,100.5 198.8,100.8 199.4,101.1 199.9,101.3 200.5,101.6 201.1,101.8 201.6,102.0 202.2,102.3 202.8,102.5 203.3,102.8 203.9,103.0 204.5,103.2 205.0,103.4 205.6,103.6 206.2,103.9 206.7,104.1 207.3,104.3 207.9,104.5 208.5,104.7 209.1,104.9 209.6,105.1 210.2,105.2 210.8,105.4 211.4,105.6 212.0,105.8 212.6,106.0 213.2,106.1 213.7,106.3 214.3,106.4 214.9,106.6 215.5,106.8 216.1,106.9 216.7,107.0 217.3,107.2 217.9,107.3 218.5,107.5 219.1,107.6 219.7,107.7 220.3,107.8 220.9,108.0 221.5,108.1 222.1,108.2 222.7,108.3 223.3,108.4 223.9,108.5 224.5,108.6 225.1,108.7 225.7,108.8 226.3,108.9 226.9,108.9 227.5,109.0 228.1,109.1 228.7,109.1 229.4,109.2 230.0,109.3 230.6,109.3 231.2,109.4 231.8,109.4 232.4,109.5 233.0,109.5 233.6,109.5 234.2,109.6 234.8,109.6 235.5,109.6 236.1,109.7 236.7,109.7 237.3,109.7 237.9,109.7 238.5,109.7 239.1,109.7 239.7,109.7 240.3,109.7 241.0,109.7 241.6,109.7 242.2,109.6 242.8,109.6 243.4,109.6 244.0,109.6 244.6,109.5 245.2,109.5 245.8,109.5 246.5,109.4 247.1,109.4 247.7,109.3 248.3,109.2 248.9,109.2 249.5,109.1 250.1,109.0 250.7,109.0 251.3,108.9 251.9,108.8 252.5,108.7 253.1,108.6 253.7,108.6 254.3,108.5 254.9,108.4 255.6,108.2 256.2,108.1 256.8,108.0 257.4,107.9 258.0,107.8 258.6,107.7 259.2,107.5 259.7,107.4 260.3,107.3 260.9,107.1 261.5,107.0 262.1,106.8 262.7,106.7 263.3,106.5 263.9,106.4 264.5,106.2 265.1,106.1 265.7,105.9 266.3,105.7 266.8,105.5 267.4,105.4 268.0,105.2 268.6,105.0 269.2,104.8 269.8,104.6 270.3,104.4 270.9,104.2 271.5,104.0 272.1,103.8 272.6,103.6 273.2,103.3 273.8,103.1 274.3,102.9 274.9,102.7 275.5,102.4 276.0,102.2 276.6,102.0 277.2,101.7 277.7,101.5"/>
<path d="M205.6,78.5 206.0,78.7 206.5,78.9 206.9,79.1 207.3,79.4 207.7,79.6 208.1,79.8 208.5,80.0 209.0,80.1 209.4,80.3 209.8,80.5 210.2,80.7 210.7,80.9 211.1,81.1 211.5,81.3 211.9,81.4 212.4,81.6 212.8,81.8 213.2,81.9 213.7,82.1 214.1,82.3 214.5,82.4 215.0,82.6 215.4,82.7 215.9,82.9 216.3,83.0 216.7,83.2 217.2,83.3 217.6,83.5 218.1,83.6 218.5,83.7 219.0,83.9 219.4,84.0 219.8,84.1 220.3,84.2 220.7,84.4 221.2,84.5 221.6,84.6 222.1,84.7 222.5,84.8 223.0,84.9 223.4,85.0 223.9,85.1 224.4,85.2 224.8,85.3 225.3,85.4 225.7,85.5 226.2,85.6 226.6,85.6 227.1,85.7 227.5,85.8 228.0,85.9 228.5,85.9 228.9,86.0 229.4,86.1 229.8,86.1 230.3,86.2 230.8,86.2 231.2,86.3 231.7,86.3 232.1,86.4 232.6,86.4 233.1,86.5 233.5,86.5 234.0,86.5 234.5,86.6 234.9,86.6 235.4,86.6 235.8,86.6 236.3,86.6 236.8,86.7 237.2,86.7 237.7,86.7 238.2,86.7 238.6,86.7 239.1,86.7 239.6,86.7 240.0,86.7 240.5,86.7 240.9,86.7 241.4,86.7 241.9,86.6 242.3,86.6 242.8,86.6 243.3,86.6 243.7,86.5 244.2,86.5 244.7,86.5 245.1,86.4 245.6,86.4 246.0,86.4 246.5,86.3 247.0,86.3 247.4,86.2 247.9,86.2 248.3,86.1 248.8,86.0 249.3,86.0 249.7,85.9 250.2,85.8 250.6,85.8 251.1,85.7 251.5,85.6 252.0,85.5 252.5,85.4 252.9,85.3 253.4,85.3 253.8,85.2 254.3,85.1 254.7,85.0 255.2,84.9 255.6,84.8 256.1,84.6 256.5,84.5 257.0,84.4 257.4,84.3 257.9,84.2 258.3,84.1 258.8,83.9 259.2,83.8 259.7,83.7 260.1,83.5 260.6,83.4 261.0,83.3 261.4,83.1 261.9,83.0 262.3,82.8 262.8,82.7 263.2,82.5 263.6,82.4 264.1,82.2 264.5,82.0 264.9,81.9 265.4,81.7 265.8,81.5 266.2,81.4 266.7,81.2 267.1,81.0 267.5,80.8 267.9,80.6 268.4,80.5"/>
<path d="M216.3,58.1 216.6,58.3 216.8,58.4 217.1,58.6 217.4,58.7 217.7,58.8 218.0,59.0 218.3,59.1 218.5,59.2 218.8,59.4 219.1,59.5 219.4,59.6 219.7,59.7 220.0,59.9 220.3,60.0 220.6,60.1 220.9,60.2 221.2,60.3 221.5,60.5 221.8,60.6 222.1,60.7 222.3,60.8 222.6,60.9 222.9,61.0 223.2,61.1 223.5,61.2 223.8,61.3 224.1,61.4 224.4,61.5 224.7,61.6 225.0,61.7 225.4,61.8 225.7,61.9 226.0,61.9 226.3,62.0 226.6,62.1 226.9,62.2 227.2,62.3 227.5,62.3 227.8,62.4 228.1,62.5 228.4,62.5 228.7,62.6 229.0,62.7 229.3,62.7 229.6,62.8 230.0,62.9 230.3,62.9 230.6,63.0 230.9,63.0 231.2,63.1 231.5,63.1 231.8,63.2 232.1,63.2 232.5,63.3 232.8,63.3 233.1,63.3 233.4,63.4 233.7,63.4 234.0,63.4 234.3,63.5 234.6,63.5 235.0,63.5 235.3,63.6 235.6,63.6 235.9,63.6 236.2,63.6 236.5,63.6 236.9,63.7 237.2,63.7 237.5,63.7 237.8,63.7 238.1,63.7 238.4,63.7 238.7,63.7 239.1,63.7 239.4,63.7 239.7,63.7 240.0,63.7 240.3,63.7 240.6,63.7 241.0,63.7 241.3,63.6 241.6,63.6 241.9,63.6 242.2,63.6 242.5,63.6 242.8,63.5 243.2,63.5 243.5,63.5 243.8,63.5 244.1,63.4 244.4,63.4 244.7,63.4 245.0,63.3 245.4,63.3 245.7,63.2 246.0,63.2 246.3,63.2 246.6,63.1 246.9,63.1 247.2,63.0 247.5,63.0 247.9,62.9 248.2,62.8 248.5,62.8 248.8,62.7 249.1,62.7 249.4,62.6 249.7,62.5 250.0,62.4 250.3,62.4 250.6,62.3 250.9,62.2 251.2,62.1 251.6,62.1 251.9,62.0 252.2,61.9 252.5,61.8 252.8,61.7 253.1,61.6 253.4,61.5 253.7,61.5 254.0,61.4 254.3,61.3 254.6,61.2 254.9,61.1 255.2,61.0 255.5,60.9 255.8,60.7 256.1,60.6 256.4,60.5 256.7,60.4 257.0,60.3 257.2,60.2 257.5,60.1 257.8,59.9 258.1,59.8 258.4,59.7 258.7,59.6 259.0,59.4"/>
<path d="M221.6,47.9 221.8,48.0 222.0,48.2 222.2,48.3 222.5,48.4 222.7,48.5 222.9,48.6 223.1,48.7 223.3,48.8 223.6,48.9 223.8,49.0 224.0,49.1 224.2,49.2 224.4,49.3 224.7,49.4 224.9,49.5 225.1,49.5 225.3,49.6 225.6,49.7 225.8,49.8 226.0,49.9 226.2,50.0 226.5,50.1 226.7,50.1 226.9,50.2 227.2,50.3 227.4,50.4 227.6,50.4 227.9,50.5 228.1,50.6 228.3,50.6 228.5,50.7 228.8,50.8 229.0,50.8 229.2,50.9 229.5,51.0 229.7,51.0 229.9,51.1 230.2,51.2 230.4,51.2 230.7,51.3 230.9,51.3 231.1,51.4 231.4,51.4 231.6,51.5 231.8,51.5 232.1,51.6 232.3,51.6 232.6,51.6 232.8,51.7 233.0,51.7 233.3,51.8 233.5,51.8 233.7,51.8 234.0,51.9 234.2,51.9 234.5,51.9 234.7,52.0 234.9,52.0 235.2,52.0 235.4,52.0 235.7,52.1 235.9,52.1 236.1,52.1 236.4,52.1 236.6,52.1 236.9,52.1 237.1,52.2 237.4,52.2 237.6,52.2 237.8,52.2 238.1,52.2 238.3,52.2 238.6,52.2 238.8,52.2 239.0,52.2 239.3,52.2 239.5,52.2 239.8,52.2 240.0,52.2 240.3,52.2 240.5,52.2 240.7,52.2 241.0,52.1 241.2,52.1 241.5,52.1 241.7,52.1 241.9,52.1 242.2,52.1 242.4,52.0 242.7,52.0 242.9,52.0 243.2,52.0 243.4,51.9 243.6,51.9 243.9,51.9 244.1,51.9 244.4,51.8 244.6,51.8 244.8,51.7 245.1,51.7 245.3,51.7 245.5,51.6 245.8,51.6 246.0,51.5 246.3,51.5 246.5,51.4 246.7,51.4 247.0,51.3 247.2,51.3 247.4,51.2 247.7,51.2 247.9,51.1 248.1,51.1 248.4,51.0 248.6,51.0 248.8,50.9 249.1,50.8 249.3,50.8 249.5,50.7 249.8,50.6 250.0,50.6 250.2,50.5 250.5,50.4 250.7,50.3 250.9,50.3 251.2,50.2 251.4,50.1 251.6,50.0 251.8,49.9 252.1,49.9 252.3,49.8 252.5,49.7 252.7,49.6 253.0,49.5 253.2,49.4 253.4,49.3 253.6,49.2 253.9,49.1 254.1,49.0 254.3,48.9"/>
<path d="M173.7,139.7 221.6,47.9"/>
<path d="M181.9,143.6 223.8,49.0"/>
<path d="M216.6,153.9 233.0,51.7"/>
<path d="M252.8,155.0 242.7,52.0"/>
<path d="M288.0,146.9 252.1,49.9"/>
<path d="M296.4,143.5 254.3,48.9"/>
</g>
<g transform="translate(2.2,302.9) scale(1,1.05)" fill="none" stroke="#8a8a8a" stroke-width="0.6">
<path d="M241.5,68 L246,65 L251.5,63.7 L257,65.5 L263,66 L266,64 L268.8,62.3 L272,59.5 L276,56.5 L279,53 L281,50.8 L279,48 L277.4,45.8 L274.5,44.3"/>
<path d="M263,71 L266,76 L262,78"/>
<path d="M176,154.5 L181,151 L187.7,148.6 L198.4,145 L205,143 L212.6,141.5 L222,141 L231.5,142.7 L235,147.5 L248,148.6 L256,149.5 L264.6,149.8 L274,148.6 L282,147 L290,146"/>
<ellipse cx="209.5" cy="68.3" rx="4.6" ry="2.9"/>
<path d="M240,44 L243,43 L246.5,46 L245,50 L242,49.5 Z"/>
</g>
<text x="216.0" y="364.8" class="gl" text-anchor="middle">70</text>
<text x="205.2" y="385.5" class="gl" text-anchor="middle">60</text>
<text x="192.7" y="407.5" class="gl" text-anchor="middle">50</text>
<text x="183.4" y="428.3" class="gl" text-anchor="middle">40</text>
<text x="175.2" y="449.6" class="gl" text-anchor="middle">-20</text>
<text x="213.2" y="463.4" class="gl" text-anchor="middle">0</text>
<text x="255.2" y="465.0" class="gl" text-anchor="middle">20</text>
<text x="294.6" y="452.7" class="gl" text-anchor="middle">40</text>
<path d="M248.6 52.6h0" stroke="#000" stroke-width="2.50" stroke-linecap="round" fill="none"/>
<path d="M228.0 45.6h0M237.9 52.5h0" stroke="#1424f0" stroke-width="2.50" stroke-linecap="round" fill="none"/>
<path d="M227.4 49.3h0M228.1 52.1h0" stroke="#f01414" stroke-width="2.50" stroke-linecap="round" fill="none"/>
<path d="M204.8 63.8h0M204.9 66.5h0M207.4 63.7h0M207.4 69.4h0M210.2 63.5h0M210.5 69.1h0" stroke="#14e614" stroke-width="2.40" stroke-linecap="round" fill="none"/>
<path d="M215.1 79.5h0M222.6 72.4h0" stroke="#14e614" stroke-width="2.60" stroke-linecap="round" fill="none"/>
<path d="M240.7 77.3h0" stroke="#000" stroke-width="2.60" stroke-linecap="round" fill="none"/>
<path d="M246.3 71.4h0" stroke="#1424f0" stroke-width="2.60" stroke-linecap="round" fill="none"/>
<path d="M229.7 73.7h0M233.1 74.9h0M240.6 65.7h0M239.6 69.5h0M236.5 76.1h0M243.4 70.1h0M248.0 68.3h0M244.3 78.9h0M252.5 66.2h0M250.4 73.1h0M257.3 64.0h0M254.4 71.0h0M252.1 78.2h0M250.5 81.3h0M260.6 64.8h0M261.8 73.1h0M259.6 80.4h0M266.7 70.6h0M265.3 74.4h0M264.6 78.6h0M267.5 79.8h0" stroke="#14e614" stroke-width="2.60" stroke-linecap="round" fill="none"/>
<path d="M225.1 86.2h0M245.6 84.1h0" stroke="#f0f000" stroke-width="2.60" stroke-linecap="round" fill="none"/>
<path d="M254.4 86.6h0M257.6 103.7h0M264.1 94.0h0" stroke="#6a0aa0" stroke-width="2.60" stroke-linecap="round" fill="none"/>
<path d="M241.5 85.5h0M237.8 96.5h0M256.5 88.1h0M252.4 98.9h0M251.5 101.7h0M262.9 80.2h0M254.4 103.4h0" stroke="#0ae6f0" stroke-width="2.60" stroke-linecap="round" fill="none"/>
<path d="M226.1 92.8h0M231.7 88.1h0M234.7 86.3h0M231.4 97.7h0M234.6 95.3h0M238.7 93.7h0M242.9 92.4h0M239.4 100.3h0M250.5 89.1h0M259.7 88.7h0M266.3 87.9h0M263.6 96.8h0M271.6 83.9h0M274.5 101.1h0M277.7 101.6h0" stroke="#1424f0" stroke-width="2.60" stroke-linecap="round" fill="none"/>
<path d="M227.3 89.6h0M228.1 96.8h0M227.0 98.9h0M233.9 89.5h0M233.4 91.8h0M240.7 88.5h0M243.6 89.0h0M240.3 97.7h0M242.8 99.1h0M255.9 80.8h0M255.0 83.7h0M248.8 101.2h0M260.5 86.3h0M259.2 91.5h0M256.0 99.9h0M262.5 89.7h0M258.7 101.1h0M261.6 102.1h0M270.1 86.8h0M269.3 89.4h0M271.0 92.9h0M269.6 95.7h0M267.8 101.8h0M267.1 104.3h0M273.4 94.3h0M271.2 102.3h0M277.8 92.5h0M277.1 94.8h0" stroke="#000" stroke-width="2.60" stroke-linecap="round" fill="none"/>
<path d="M224.9 89.0h0M229.8 84.4h0M228.8 87.0h0M230.5 90.6h0M228.9 93.9h0M235.9 83.6h0M231.9 95.2h0M237.6 87.1h0M237.0 90.4h0M235.6 92.7h0M233.6 98.2h0M242.6 82.9h0M240.0 91.4h0M241.2 95.1h0M249.7 81.7h0M247.5 87.3h0M246.6 90.6h0M245.2 92.8h0M244.8 95.8h0M242.4 101.7h0M252.2 82.8h0M250.8 85.6h0M249.0 91.6h0M248.4 94.2h0M246.7 97.2h0M252.9 89.7h0M252.2 92.8h0M250.8 95.7h0M249.9 98.6h0M258.8 82.0h0M258.1 84.7h0M255.6 90.3h0M253.5 95.8h0M256.8 97.6h0M265.6 81.8h0M263.6 87.3h0M261.5 93.2h0M259.3 98.6h0M267.2 85.6h0M265.3 91.4h0M268.0 92.1h0M265.2 100.9h0M264.1 102.9h0M273.3 87.4h0M268.7 98.4h0M274.6 91.0h0M273.0 96.6h0M275.9 98.1h0M273.4 103.9h0M276.6 104.2h0" stroke="#14e614" stroke-width="2.60" stroke-linecap="round" fill="none"/>
<path d="M277.9 151.5h0M288.2 120.9h0" stroke="#6a0aa0" stroke-width="2.60" stroke-linecap="round" fill="none"/>
<path d="M262.6 119.1h0M262.9 133.9h0M265.0 141.7h0M279.4 145.2h0M291.9 136.2h0" stroke="#f0f000" stroke-width="2.60" stroke-linecap="round" fill="none"/>
<path d="M268.5 109.3h0M273.6 103.2h0M265.0 145.3h0M274.9 114.9h0M280.1 104.3h0M277.1 118.3h0M284.2 120.2h0M298.8 138.2h0" stroke="#f01414" stroke-width="2.60" stroke-linecap="round" fill="none"/>
<path d="M263.1 115.8h0M260.0 129.8h0M269.5 138.7h0M273.3 139.9h0M281.1 119.0h0M286.9 109.2h0M285.3 116.6h0M282.6 131.0h0M290.3 146.8h0M298.1 144.7h0" stroke="#000" stroke-width="2.60" stroke-linecap="round" fill="none"/>
<path d="M269.9 121.3h0M272.2 124.6h0M276.9 122.0h0M277.8 136.9h0M277.1 140.6h0M283.9 123.3h0M281.3 134.0h0M289.1 114.0h0M284.0 141.8h0M286.9 143.0h0M292.6 133.2h0" stroke="#0ae6f0" stroke-width="2.60" stroke-linecap="round" fill="none"/>
<path d="M262.2 105.1h0M262.2 122.8h0M262.1 141.3h0M276.6 103.7h0M271.6 128.6h0M271.1 132.5h0M267.4 149.9h0M279.9 108.0h0M278.6 111.9h0M282.3 112.2h0M282.1 115.9h0M278.9 129.8h0M276.0 143.8h0M274.7 151.5h0M278.7 148.1h0M287.2 124.3h0M286.3 127.9h0M290.6 125.0h0M294.0 125.6h0M296.5 133.8h0M293.9 144.6h0" stroke="#1424f0" stroke-width="2.60" stroke-linecap="round" fill="none"/>
<path d="M259.5 133.7h0M267.3 112.7h0M266.7 116.2h0M266.1 120.0h0M265.4 123.2h0M265.0 126.9h0M271.6 109.9h0M267.8 131.2h0M266.5 135.0h0M264.0 149.1h0M274.3 117.7h0M272.3 143.6h0M271.3 150.3h0M280.1 123.1h0M278.2 133.6h0M285.6 113.0h0M280.1 141.4h0M288.7 117.1h0M284.8 138.5h0M282.6 145.7h0M282.6 149.5h0M292.6 117.8h0M298.5 140.9h0" stroke="#14e614" stroke-width="2.60" stroke-linecap="round" fill="none"/>
<path d="M198.6 143.3h0" stroke="#1424f0" stroke-width="2.50" stroke-linecap="round" fill="none"/>
<path d="M192.0 135.9h0M195.6 128.6h0" stroke="#f0f000" stroke-width="2.50" stroke-linecap="round" fill="none"/>
<path d="M177.2 128.6h0M184.0 128.7h0M192.0 125.1h0M195.4 139.9h0" stroke="#0ae6f0" stroke-width="2.50" stroke-linecap="round" fill="none"/>
<path d="M184.3 136.3h0M188.1 128.8h0M191.2 139.5h0M191.7 146.6h0M195.3 132.7h0M194.9 143.2h0" stroke="#14e614" stroke-width="2.50" stroke-linecap="round" fill="none"/>
<path d="M196.3 117.5h0M208.2 120.5h0" stroke="#1424f0" stroke-width="2.50" stroke-linecap="round" fill="none"/>
<path d="M199.4 114.5h0M199.3 137.0h0M202.1 123.0h0M216.5 131.3h0M230.0 142.9h0" stroke="#f01414" stroke-width="2.50" stroke-linecap="round" fill="none"/>
<path d="M199.8 111.9h0M204.7 131.5h0M207.9 122.7h0M207.6 134.2h0M210.4 128.7h0M213.7 137.4h0M222.3 136.8h0M224.6 148.4h0" stroke="#f0f000" stroke-width="2.50" stroke-linecap="round" fill="none"/>
<path d="M202.0 114.3h0M202.1 142.6h0M202.7 148.7h0M208.2 114.6h0M208.1 128.9h0M210.5 123.4h0M211.0 148.7h0M219.3 137.2h0" stroke="#0ae6f0" stroke-width="2.50" stroke-linecap="round" fill="none"/>
<path d="M194.0 123.5h0M193.5 125.6h0M196.9 111.9h0M196.8 128.9h0M199.3 126.3h0M199.6 148.2h0M202.5 120.6h0M202.1 126.0h0M202.4 128.3h0M202.0 137.1h0M202.0 140.0h0M202.7 145.9h0M204.9 111.8h0M205.0 114.3h0M205.2 117.1h0M204.8 140.1h0M205.5 143.0h0M207.9 112.3h0M208.0 147.9h0M207.5 150.9h0M210.5 120.0h0M210.7 126.0h0M210.3 134.4h0M210.5 151.5h0M213.1 115.1h0M213.7 117.4h0M213.3 120.2h0M213.9 125.8h0M213.2 134.4h0M215.9 114.3h0M216.0 126.1h0M216.1 129.1h0M215.9 145.8h0M216.0 151.4h0M219.1 120.3h0M219.4 131.4h0M219.2 142.8h0M219.3 145.9h0M219.1 148.3h0M222.0 128.9h0M224.3 136.9h0M224.9 140.3h0M227.5 134.1h0M227.7 142.4h0M230.0 134.5h0M230.7 137.3h0" stroke="#14e614" stroke-width="2.50" stroke-linecap="round" fill="none"/>
<path d="M218.4 125.1h0" stroke="#f0f000" stroke-width="2.50" stroke-linecap="round" fill="none"/>
<path d="M200.9 125.0h0M208.8 135.0h0M210.5 122.0h0M212.7 120.0h0M214.2 112.2h0M216.2 131.5h0" stroke="#0ae6f0" stroke-width="2.50" stroke-linecap="round" fill="none"/>
<path d="M199.5 123.6h0M201.2 119.3h0M202.8 130.8h0M205.2 128.9h0M207.2 116.2h0M206.8 121.4h0M206.8 125.3h0M208.8 133.0h0M212.9 121.6h0" stroke="#1424f0" stroke-width="2.50" stroke-linecap="round" fill="none"/>
<path d="M199.6 117.8h0M199.6 125.2h0M200.8 112.5h0M201.0 114.1h0M201.3 115.7h0M201.2 118.0h0M201.2 121.2h0M201.3 123.5h0M203.0 112.4h0M203.2 113.7h0M203.4 115.6h0M203.0 117.8h0M203.4 119.6h0M202.6 121.2h0M203.4 123.9h0M203.3 125.3h0M203.0 127.5h0M203.2 128.8h0M204.7 112.5h0M204.8 113.9h0M204.7 115.6h0M204.9 118.0h0M204.8 119.8h0M205.3 122.0h0M204.8 123.3h0M204.8 125.8h0M204.5 127.6h0M204.6 130.8h0M205.1 133.2h0M205.0 134.9h0M206.4 110.6h0M206.4 112.4h0M207.0 114.2h0M206.8 118.2h0M206.9 120.1h0M206.4 123.7h0M206.4 127.1h0M207.1 128.9h0M206.4 131.1h0M206.7 132.7h0M206.9 134.8h0M208.5 110.4h0M208.3 112.4h0M208.4 113.8h0M209.0 115.5h0M208.5 117.7h0M208.4 119.8h0M208.4 121.2h0M208.4 123.5h0M208.7 125.0h0M209.1 127.1h0M208.9 129.4h0M208.9 131.2h0M210.9 110.2h0M210.5 112.3h0M211.0 113.7h0M211.0 116.2h0M210.2 118.1h0M210.3 119.6h0M211.0 125.8h0M211.0 127.2h0M211.0 129.0h0M210.8 131.3h0M210.6 133.4h0M210.5 134.5h0M212.4 110.2h0M212.2 112.4h0M212.9 114.1h0M212.3 117.4h0M212.4 123.6h0M212.6 125.0h0M212.4 127.6h0M212.3 129.2h0M212.8 131.4h0M212.5 132.6h0M212.6 135.0h0M214.0 114.0h0M214.1 115.8h0M214.2 117.5h0M214.5 121.6h0M214.2 123.5h0M214.7 125.3h0M214.4 127.1h0M214.5 129.1h0M214.1 130.9h0M214.8 132.8h0M214.5 135.1h0M214.6 136.5h0M215.9 113.9h0M216.1 116.0h0M216.0 118.0h0M216.7 119.8h0M216.5 121.5h0M216.1 123.5h0M216.5 125.7h0M216.4 127.0h0M216.4 129.2h0M216.7 132.8h0M216.4 135.0h0M218.0 118.2h0M217.9 119.4h0M217.9 121.4h0M218.0 127.6h0M217.9 128.8h0M218.2 130.8h0M217.9 133.3h0M218.1 134.7h0M220.2 122.0h0M219.8 123.5h0M219.8 125.4h0M219.9 127.4h0M220.5 129.5h0M219.9 131.0h0M220.1 133.4h0M221.9 123.2h0M222.3 125.7h0M221.8 127.6h0M221.7 128.9h0M222.4 131.3h0M223.8 127.0h0M223.9 129.4h0M225.5 129.2h0" stroke="#14e614" stroke-width="2.50" stroke-linecap="round" fill="none"/>
<path d="M232.5 139.9h0M244.5 135.9h0M247.1 133.2h0M250.0 128.6h0M254.8 135.6h0" stroke="#0ae6f0" stroke-width="2.50" stroke-linecap="round" fill="none"/>
<path d="M223.2 128.4h0M230.6 135.4h0M232.9 137.5h0M235.0 142.3h0M240.4 140.6h0M252.1 128.7h0M252.2 133.3h0M259.0 140.7h0" stroke="#f0f000" stroke-width="2.50" stroke-linecap="round" fill="none"/>
<path d="M223.6 137.5h0M228.4 133.3h0M230.7 138.1h0M232.7 128.6h0M233.1 133.1h0M235.2 132.9h0M237.9 135.1h0M239.9 130.6h0M242.5 128.6h0M242.4 135.2h0M245.2 143.1h0M249.9 133.5h0M249.7 137.6h0" stroke="#000" stroke-width="2.50" stroke-linecap="round" fill="none"/>
<path d="M218.8 128.3h0M221.1 133.1h0M222.8 131.1h0M223.2 133.5h0M225.2 130.3h0M230.2 128.2h0M232.6 130.9h0M237.8 139.9h0M240.0 133.0h0M240.0 135.7h0M247.2 137.8h0M254.3 128.3h0M256.9 128.1h0M257.2 142.7h0M258.9 133.0h0M261.9 135.2h0" stroke="#14e614" stroke-width="2.50" stroke-linecap="round" fill="none"/>
<path d="M221.0 130.8h0M226.0 137.6h0M225.3 140.1h0M227.6 138.0h0M235.0 130.4h0M235.3 137.8h0M237.8 127.9h0M242.8 132.8h0M242.7 137.9h0M242.4 140.7h0M245.2 140.0h0M247.1 128.6h0M247.0 130.5h0M247.6 135.8h0M247.5 140.3h0M249.2 130.3h0M249.5 135.8h0M252.0 130.3h0M251.7 135.8h0M252.3 140.4h0M254.5 132.7h0M254.0 142.6h0M256.8 130.6h0M257.0 138.0h0M261.2 137.7h0" stroke="#1424f0" stroke-width="2.50" stroke-linecap="round" fill="none"/>
<path d="M221.1 128.1h0M225.4 128.3h0M225.4 135.3h0M227.6 128.1h0M228.4 135.3h0M228.2 140.1h0M230.5 132.8h0M230.5 140.5h0M232.5 135.9h0M235.2 128.7h0M234.8 135.6h0M235.6 140.6h0M237.8 138.1h0M240.0 128.3h0M242.2 130.6h0M244.7 128.6h0M244.8 130.9h0M244.7 132.8h0M244.5 137.5h0M247.5 143.0h0M249.7 140.1h0M249.2 142.9h0M251.7 137.7h0M252.1 142.3h0M254.4 138.0h0M256.5 132.9h0M256.9 140.6h0M259.3 135.5h0M258.8 137.5h0" stroke="#f01414" stroke-width="2.50" stroke-linecap="round" fill="none"/>
<path d="M252.2 128.4h0M259.8 115.9h0" stroke="#f0f000" stroke-width="2.50" stroke-linecap="round" fill="none"/>
<path d="M252.2 107.9h0M259.8 105.7h0M264.4 117.7h0" stroke="#f01414" stroke-width="2.50" stroke-linecap="round" fill="none"/>
<path d="M249.7 118.0h0M249.9 120.6h0M251.6 110.8h0M254.2 115.7h0" stroke="#6a0aa0" stroke-width="2.50" stroke-linecap="round" fill="none"/>
<path d="M249.2 103.2h0M254.7 105.5h0M254.5 112.9h0M254.4 120.3h0M259.7 120.7h0M264.9 120.5h0M264.5 127.6h0" stroke="#0ae6f0" stroke-width="2.50" stroke-linecap="round" fill="none"/>
<path d="M249.2 105.4h0M249.1 115.5h0M251.8 103.1h0M254.1 103.1h0M254.4 128.4h0M256.7 108.1h0M257.0 110.5h0M257.3 125.7h0M259.1 127.7h0M262.3 125.4h0" stroke="#000" stroke-width="2.50" stroke-linecap="round" fill="none"/>
<path d="M249.7 122.6h0M252.4 115.1h0M252.2 118.0h0M254.4 108.2h0M254.9 122.8h0M257.2 115.8h0M259.2 108.3h0M259.5 113.1h0M259.4 117.9h0M259.9 123.3h0M261.6 110.9h0M262.1 112.8h0M262.3 115.8h0M261.6 123.0h0M264.3 115.3h0" stroke="#1424f0" stroke-width="2.50" stroke-linecap="round" fill="none"/>
<path d="M249.4 110.3h0M249.9 125.1h0M252.2 120.5h0M251.6 125.1h0M254.3 110.5h0M256.6 103.1h0M256.7 105.3h0M257.3 113.3h0M257.3 118.1h0M256.9 123.1h0M259.6 102.7h0M259.6 110.2h0M259.2 125.1h0M262.0 105.1h0M262.3 118.1h0M261.6 120.3h0M264.6 122.8h0M264.1 125.5h0" stroke="#14e614" stroke-width="2.50" stroke-linecap="round" fill="none"/>
<path d="M273.1 143.7h0M275.2 140.8h0M274.9 146.0h0M277.8 141.5h0M277.3 148.1h0M277.4 150.2h0M280.0 136.2h0M279.6 141.1h0M279.9 143.7h0M281.8 148.0h0" stroke="#14e614" stroke-width="2.40" stroke-linecap="round" fill="none"/>
<path d="M270.9 139.3h0M272.7 139.2h0M272.8 145.7h0M273.2 150.8h0M275.0 148.5h0M274.8 150.1h0M277.2 139.0h0M277.7 143.5h0M277.1 145.8h0M280.2 146.2h0M280.2 148.0h0M281.9 145.6h0M284.7 148.3h0" stroke="#0ae6f0" stroke-width="2.40" stroke-linecap="round" fill="none"/>
<path d="M288.7 135.6h0M291.7 132.8h0M295.0 145.3h0" stroke="#000" stroke-width="2.50" stroke-linecap="round" fill="none"/>
<path d="M288.6 139.2h0M291.9 135.6h0M294.9 126.7h0" stroke="#0ae6f0" stroke-width="2.50" stroke-linecap="round" fill="none"/>
<path d="M286.1 136.3h0M288.8 144.7h0M292.2 127.2h0M295.4 130.4h0M294.8 135.6h0M298.0 127.3h0M297.6 130.3h0" stroke="#1424f0" stroke-width="2.50" stroke-linecap="round" fill="none"/>
<path d="M198.5 95.3h0M198.8 104.8h0M206.4 94.8h0M206.7 96.6h0M207.0 110.3h0M212.5 92.9h0M212.7 104.5h0M212.6 106.9h0M212.8 112.5h0M214.9 93.0h0" stroke="#f01414" stroke-width="2.40" stroke-linecap="round" fill="none"/>
<path d="M206.6 108.6h0M208.8 110.3h0M208.9 112.3h0M210.7 84.7h0M210.3 98.4h0M210.5 108.5h0M212.6 85.4h0M214.1 85.5h0M216.1 93.0h0M216.5 102.3h0M218.1 96.8h0M218.4 98.7h0M217.9 100.9h0M222.4 92.6h0M221.9 96.4h0M222.5 100.9h0M224.6 90.5h0M224.6 92.9h0M224.4 94.8h0M226.1 92.5h0M227.7 94.7h0" stroke="#000" stroke-width="2.40" stroke-linecap="round" fill="none"/>
<path d="M201.1 93.2h0M201.0 94.7h0M200.8 106.8h0M206.9 106.4h0M206.3 112.4h0M208.7 94.9h0M208.7 99.0h0M209.0 100.4h0M208.2 103.0h0M210.2 96.4h0M210.1 104.6h0M210.2 106.3h0M212.5 96.6h0M212.6 108.3h0M214.6 96.6h0M214.0 98.3h0M216.7 94.4h0M216.7 97.2h0M216.8 98.3h0M218.6 92.5h0M220.3 94.9h0M220.4 96.4h0M220.5 100.8h0M222.1 98.5h0M224.6 99.2h0M225.9 98.4h0" stroke="#1424f0" stroke-width="2.40" stroke-linecap="round" fill="none"/>
<path d="M199.1 106.5h0M200.4 100.9h0M200.4 102.7h0M200.8 108.5h0M201.1 110.3h0M202.9 90.7h0M202.3 93.3h0M203.0 98.6h0M202.9 100.9h0M202.5 102.6h0M202.6 104.2h0M202.4 107.0h0M202.4 108.9h0M202.7 110.7h0M205.0 86.6h0M204.8 88.7h0M204.9 91.1h0M204.6 92.9h0M204.8 94.7h0M204.6 98.5h0M205.0 101.0h0M204.8 106.8h0M204.3 108.6h0M204.4 110.6h0M206.5 86.8h0M207.0 89.1h0M206.6 93.3h0M206.8 102.4h0M206.4 104.5h0M208.7 91.1h0M208.4 93.2h0M210.1 94.5h0M210.4 100.9h0M210.4 102.3h0M212.8 88.9h0M212.3 100.9h0M214.4 89.2h0M214.1 100.5h0M214.4 102.4h0M216.0 91.2h0M216.8 100.5h0M218.7 91.3h0M220.3 87.0h0M220.3 88.8h0M220.4 90.6h0M226.5 91.0h0" stroke="#0ae6f0" stroke-width="2.40" stroke-linecap="round" fill="none"/>
<path d="M196.6 100.9h0M196.9 102.7h0M196.5 104.3h0M199.3 96.8h0M198.6 98.4h0M198.8 103.0h0M198.5 108.2h0M200.8 90.8h0M200.7 96.5h0M200.6 98.9h0M200.9 104.7h0M202.6 89.2h0M203.1 95.1h0M202.4 97.2h0M204.5 97.0h0M204.7 102.6h0M204.9 104.5h0M205.1 112.4h0M206.7 91.1h0M206.3 98.9h0M206.4 101.0h0M208.7 86.8h0M208.4 89.0h0M208.2 97.2h0M208.7 106.1h0M208.7 108.2h0M210.2 87.4h0M210.9 88.6h0M210.6 90.5h0M210.2 93.2h0M210.7 110.3h0M212.6 87.2h0M212.3 90.6h0M212.2 95.2h0M212.1 99.1h0M212.4 102.7h0M212.8 110.9h0M214.8 86.9h0M214.8 91.3h0M214.7 94.8h0M216.4 87.2h0M216.8 88.9h0M218.4 85.2h0M218.6 86.9h0M218.7 89.2h0M218.6 94.8h0M220.4 92.6h0M219.9 98.7h0M222.0 86.8h0M222.2 89.1h0M222.5 91.0h0M222.5 94.8h0M223.8 89.0h0M224.2 96.7h0M226.0 89.2h0M226.2 94.7h0M226.3 97.1h0" stroke="#14e614" stroke-width="2.40" stroke-linecap="round" fill="none"/>
<path d="M203.9 91.9h0M203.4 93.6h0M205.5 92.6h0M205.2 94.2h0M205.5 95.7h0M207.0 95.6h0" stroke="#f01414" stroke-width="2.20" stroke-linecap="round" fill="none"/>
<path d="M212.4 99.1h0M212.4 100.6h0M212.4 102.1h0M213.9 99.1h0M213.7 100.7h0M213.6 102.5h0" stroke="#f01414" stroke-width="2.20" stroke-linecap="round" fill="none"/>
<path d="M224.8 103.7h0M250.9 125.9h0" stroke="#6a0aa0" stroke-width="2.40" stroke-linecap="round" fill="none"/>
<path d="M213.4 122.8h0M215.5 118.9h0M215.0 125.8h0M217.4 127.7h0M222.7 126.1h0" stroke="#f01414" stroke-width="2.40" stroke-linecap="round" fill="none"/>
<path d="M224.4 101.9h0M228.1 102.2h0M230.1 101.6h0M230.1 104.3h0M230.1 105.6h0M233.9 103.5h0M237.9 103.6h0M239.4 109.7h0M241.0 105.8h0M241.5 109.9h0M243.4 114.9h0M245.1 105.4h0M244.8 107.3h0M246.4 104.3h0M246.7 109.4h0M246.9 114.6h0M248.3 103.9h0M248.3 105.9h0M248.4 109.4h0M248.2 115.0h0" stroke="#ffffff" stroke-width="2.40" stroke-linecap="round" fill="none"/>
<path d="M213.8 123.8h0M215.4 102.3h0M215.0 109.6h0M215.1 114.7h0M215.2 116.7h0M215.2 124.4h0M217.2 117.3h0M218.9 108.0h0M219.2 111.0h0M219.3 117.2h0M219.5 118.5h0M218.9 120.5h0M218.9 122.3h0M220.6 107.7h0M221.3 109.1h0M220.6 111.1h0M220.6 122.8h0M222.8 107.2h0M222.5 109.5h0M222.6 112.9h0M222.9 115.1h0M223.1 122.4h0M224.2 105.7h0M224.2 118.5h0M224.9 121.0h0M226.7 115.3h0M226.8 118.6h0M226.3 128.4h0M228.2 116.7h0M228.6 118.4h0M228.6 124.1h0M228.4 128.3h0M230.3 107.9h0M230.3 120.8h0M230.0 126.4h0M231.8 103.6h0M232.1 105.4h0M232.2 107.6h0M231.7 117.3h0M232.2 120.8h0M232.3 122.8h0M233.8 109.7h0M233.6 111.2h0M234.1 122.1h0M234.2 124.0h0M235.7 111.3h0M235.5 112.8h0M235.6 122.1h0M237.3 109.3h0M237.1 124.3h0M239.5 114.6h0M239.8 120.6h0M239.3 128.1h0M241.1 119.1h0M240.9 126.5h0M242.9 126.5h0M245.2 124.4h0M246.8 122.3h0M246.5 128.0h0M248.4 120.1h0M248.6 122.7h0M250.7 122.6h0" stroke="#1424f0" stroke-width="2.40" stroke-linecap="round" fill="none"/>
<path d="M213.9 109.2h0M213.4 119.0h0M213.5 126.1h0M213.8 128.1h0M214.9 103.8h0M214.9 111.4h0M215.5 122.6h0M215.7 128.4h0M217.5 118.5h0M217.3 124.6h0M217.3 126.2h0M218.7 113.0h0M219.5 125.9h0M220.6 124.0h0M223.1 117.1h0M224.5 116.7h0M224.8 124.7h0M226.6 102.2h0M226.1 112.7h0M226.7 122.2h0M226.7 123.8h0M226.1 126.2h0M228.7 103.6h0M228.5 105.3h0M228.0 120.6h0M228.6 125.7h0M230.0 118.7h0M232.2 102.2h0M234.1 126.4h0M235.3 102.0h0M235.8 103.9h0M235.9 127.7h0M237.9 107.3h0M237.3 111.6h0M237.1 113.2h0M239.1 106.1h0M239.7 111.6h0M239.2 113.3h0M239.5 117.1h0M239.1 124.1h0M241.7 103.7h0M241.3 111.5h0M241.3 112.8h0M241.6 114.7h0M243.5 101.7h0M242.7 106.1h0M243.0 107.3h0M242.9 109.4h0M243.0 116.8h0M245.0 103.7h0M244.7 111.0h0M244.5 116.8h0M244.8 118.5h0M244.9 120.1h0M247.1 102.1h0M246.6 107.6h0M246.7 111.7h0M247.1 118.4h0M248.8 107.3h0M249.1 111.1h0M248.3 113.4h0M248.8 119.1h0M250.5 124.2h0" stroke="#14e614" stroke-width="2.40" stroke-linecap="round" fill="none"/>
<path d="M217.6 102.4h0M217.3 104.2h0M217.0 107.8h0M217.4 109.8h0M218.9 101.9h0M219.1 103.8h0M218.7 105.5h0M220.6 104.0h0M220.7 105.8h0M221.1 113.1h0M222.6 105.3h0M224.4 108.0h0M224.6 109.3h0M224.8 113.3h0M226.2 103.9h0M226.8 108.0h0M226.7 109.3h0M226.5 111.3h0M226.5 116.7h0M228.2 109.6h0M228.7 111.0h0M228.3 112.8h0M230.6 109.9h0M230.4 111.6h0M229.9 112.9h0M230.1 115.1h0M231.6 112.9h0M232.2 114.6h0M233.5 101.6h0M233.7 106.0h0M233.6 107.8h0M233.6 113.0h0M233.5 114.9h0M234.1 116.4h0M234.2 119.0h0M236.0 106.1h0M235.3 115.2h0M236.1 116.5h0M237.7 105.3h0M237.2 117.2h0M237.4 118.5h0M237.2 120.5h0M237.8 125.8h0M239.7 102.5h0M239.0 118.9h0M241.3 120.7h0M241.3 122.3h0M241.2 128.3h0M242.7 103.9h0M243.1 111.6h0M243.5 113.1h0M242.7 118.5h0M243.5 120.2h0M242.7 122.7h0M242.7 124.3h0M245.2 113.2h0M245.1 122.3h0M244.5 125.8h0M246.4 124.4h0M246.5 125.9h0M248.2 124.7h0M248.6 126.5h0M248.9 128.0h0M250.8 128.3h0" stroke="#000" stroke-width="2.40" stroke-linecap="round" fill="none"/>
<path d="M215.7 105.9h0M215.3 107.3h0M215.5 113.2h0M215.2 120.5h0M216.9 105.6h0M217.2 111.0h0M216.9 113.1h0M216.9 115.3h0M217.0 120.9h0M217.6 122.0h0M219.2 109.6h0M219.5 115.4h0M219.5 124.0h0M218.7 127.9h0M221.1 102.0h0M220.8 114.7h0M220.5 117.1h0M220.7 118.6h0M221.0 120.9h0M221.3 127.9h0M222.9 102.1h0M222.9 104.0h0M222.8 111.4h0M223.1 118.9h0M222.3 120.7h0M222.6 124.0h0M222.8 128.2h0M224.3 111.5h0M224.9 114.9h0M224.2 122.0h0M224.2 125.7h0M224.7 127.5h0M226.4 105.9h0M226.3 120.9h0M228.7 107.3h0M228.7 114.8h0M228.3 122.6h0M230.5 116.4h0M230.6 122.0h0M230.2 123.9h0M229.9 128.2h0M232.4 109.7h0M231.6 111.0h0M231.9 118.9h0M232.3 124.2h0M231.7 126.2h0M232.3 127.7h0M234.1 120.8h0M233.9 128.0h0M235.3 107.2h0M235.9 109.8h0M236.0 118.6h0M235.7 120.2h0M235.8 124.2h0M235.6 126.1h0M237.1 115.0h0M237.1 122.2h0M237.3 128.3h0M239.8 103.8h0M239.6 107.4h0M239.1 122.2h0M239.2 126.2h0M241.4 102.1h0M241.6 107.7h0M241.1 116.7h0M243.0 127.6h0M245.4 102.4h0M244.7 109.3h0M245.0 115.1h0M244.7 127.6h0M246.4 106.0h0M246.4 113.5h0M247.2 117.1h0M246.7 120.4h0M248.7 102.1h0M248.2 116.8h0M250.4 112.9h0M250.7 121.0h0" stroke="#0ae6f0" stroke-width="2.40" stroke-linecap="round" fill="none"/>
<path d="M218.2 195.0h0M220.7 190.8h0M222.2 194.6h0" stroke="#f01414" stroke-width="2.40" stroke-linecap="round" fill="none"/>
<path d="M209.2 201.7h0M211.4 197.4h0M216.0 197.0h0M216.2 198.9h0" stroke="#f0f000" stroke-width="2.40" stroke-linecap="round" fill="none"/>
<path d="M209.1 198.8h0M211.9 201.3h0M213.4 197.1h0M224.5 188.2h0M224.9 192.3h0" stroke="#14e614" stroke-width="2.40" stroke-linecap="round" fill="none"/>
<path d="M205.0 203.4h0M207.5 201.2h0M207.1 203.9h0M207.5 205.4h0M211.9 199.3h0M213.4 198.8h0M217.9 196.9h0M220.6 192.3h0M220.5 194.6h0M222.5 190.2h0M226.7 190.3h0" stroke="#000" stroke-width="2.40" stroke-linecap="round" fill="none"/>
<path d="M241.6 205.5h0M245.1 195.8h0" stroke="#6a0aa0" stroke-width="2.50" stroke-linecap="round" fill="none"/>
<path d="M231.2 195.9h0M234.7 192.6h0M235.0 198.7h0M237.7 198.8h0M241.1 192.5h0M241.2 195.3h0M241.7 202.7h0M244.8 202.2h0" stroke="#000" stroke-width="2.50" stroke-linecap="round" fill="none"/>
<path d="M199.4 222.6h0M201.7 222.4h0" stroke="#14e614" stroke-width="2.40" stroke-linecap="round" fill="none"/>
<path d="M199.4 217.9h0M206.2 220.0h0M208.3 216.0h0M208.7 224.7h0" stroke="#f01414" stroke-width="2.40" stroke-linecap="round" fill="none"/>
<path d="M201.5 215.9h0M201.7 219.6h0M204.4 216.0h0M203.9 217.7h0M206.6 215.6h0M206.1 217.5h0M205.8 221.8h0M206.4 224.6h0M208.5 218.2h0M208.5 222.1h0" stroke="#000" stroke-width="2.40" stroke-linecap="round" fill="none"/>
<path d="M244.5 249.7h0M255.6 294.6h0M270.8 260.4h0M275.9 273.0h0" stroke="#6a0aa0" stroke-width="2.50" stroke-linecap="round" fill="none"/>
<path d="M247.7 252.3h0M253.1 237.0h0M255.2 244.7h0M255.0 299.0h0M260.4 245.2h0M262.8 267.9h0M262.9 289.1h0M265.9 237.1h0M265.9 252.7h0M268.0 247.7h0M268.4 291.5h0" stroke="#f8a000" stroke-width="2.50" stroke-linecap="round" fill="none"/>
<path d="M239.4 255.2h0M244.8 234.1h0M247.5 275.9h0M247.8 283.4h0M253.0 229.1h0M255.2 242.4h0M257.8 249.9h0M263.1 244.4h0M262.7 283.4h0M265.9 276.1h0M268.0 284.0h0M275.7 255.5h0M278.9 255.1h0" stroke="#f01414" stroke-width="2.50" stroke-linecap="round" fill="none"/>
<path d="M239.4 237.4h0M244.6 242.3h0M247.1 257.8h0M250.0 239.5h0M252.4 244.6h0M252.4 268.0h0M252.4 299.7h0M257.6 284.0h0M260.3 281.0h0M263.3 239.7h0M263.2 263.3h0M276.2 265.5h0M276.3 278.3h0M281.4 260.2h0" stroke="#f0f000" stroke-width="2.50" stroke-linecap="round" fill="none"/>
<path d="M244.8 278.3h0M244.8 281.1h0M247.9 231.4h0M247.9 273.2h0M247.6 286.0h0M250.3 244.6h0M250.3 254.8h0M250.2 286.4h0M250.3 297.1h0M255.1 237.3h0M255.0 283.7h0M258.1 273.1h0M260.4 266.0h0M260.7 291.9h0M262.9 234.1h0M262.7 280.8h0M265.9 239.3h0M265.8 286.7h0M265.3 296.7h0M267.9 249.8h0M268.0 263.3h0M268.5 289.1h0M270.7 244.5h0M271.2 249.6h0M270.9 268.4h0M273.6 257.4h0" stroke="#0ae6f0" stroke-width="2.50" stroke-linecap="round" fill="none"/>
<path d="M240.0 245.0h0M239.3 247.8h0M239.8 258.2h0M241.9 232.1h0M242.7 265.4h0M244.5 228.9h0M245.3 239.2h0M244.5 247.1h0M244.9 257.9h0M244.5 271.2h0M247.7 237.4h0M247.9 262.7h0M247.9 268.1h0M249.9 268.6h0M252.8 234.8h0M252.7 286.3h0M255.4 273.0h0M255.1 276.1h0M255.6 289.0h0M257.5 260.4h0M257.6 263.2h0M258.1 267.9h0M258.3 278.6h0M257.7 296.8h0M260.7 270.4h0M260.8 299.4h0M262.8 273.4h0M262.8 297.1h0M266.1 255.3h0M268.4 239.3h0M268.0 268.2h0M273.4 278.6h0M273.9 286.7h0M275.7 252.7h0M276.1 275.6h0" stroke="#1424f0" stroke-width="2.50" stroke-linecap="round" fill="none"/>
<path d="M239.5 239.3h0M239.8 250.0h0M242.0 234.0h0M242.2 242.3h0M242.2 257.7h0M242.4 268.3h0M242.3 273.8h0M245.0 255.4h0M244.7 267.9h0M250.0 234.7h0M250.3 263.0h0M250.2 265.2h0M250.2 291.5h0M252.7 281.3h0M255.3 278.9h0M255.1 296.8h0M257.7 229.3h0M258.1 231.8h0M258.2 240.0h0M258.0 265.2h0M257.9 293.9h0M260.1 263.0h0M260.6 273.3h0M263.3 236.6h0M263.3 258.2h0M262.7 279.0h0M262.7 291.6h0M265.4 273.4h0M268.5 275.6h0M270.7 252.9h0M271.0 258.0h0M271.2 270.5h0M273.7 265.4h0M276.4 260.8h0M276.4 284.0h0M281.2 258.0h0" stroke="#14e614" stroke-width="2.50" stroke-linecap="round" fill="none"/>
<path d="M239.9 232.2h0M240.1 234.0h0M239.6 260.5h0M242.4 240.0h0M242.3 247.0h0M242.1 255.3h0M242.7 260.8h0M244.9 236.8h0M245.1 263.4h0M244.5 273.1h0M245.2 275.6h0M247.5 234.2h0M247.6 242.3h0M247.1 247.5h0M247.2 260.7h0M247.2 271.2h0M247.4 289.2h0M247.6 291.5h0M249.8 236.8h0M250.4 247.4h0M250.1 271.1h0M250.2 273.8h0M250.2 275.7h0M249.9 281.4h0M250.3 284.2h0M250.2 294.2h0M252.5 252.6h0M253.1 254.8h0M253.0 262.9h0M252.5 273.8h0M252.6 278.6h0M255.6 232.0h0M255.4 239.4h0M255.1 249.9h0M255.3 255.1h0M254.9 257.9h0M255.2 265.8h0M258.1 226.3h0M258.2 244.8h0M257.7 252.3h0M257.5 276.1h0M258.1 281.3h0M258.0 286.1h0M257.7 291.8h0M260.7 257.6h0M260.2 260.4h0M260.2 293.8h0M262.7 252.4h0M262.8 254.8h0M263.1 265.4h0M263.1 286.3h0M262.7 294.4h0M265.5 247.4h0M265.8 262.7h0M265.7 271.1h0M265.3 278.2h0M265.9 281.3h0M266.0 283.6h0M265.4 289.1h0M265.7 294.1h0M268.7 245.0h0M268.3 252.5h0M268.2 257.4h0M268.5 273.4h0M270.9 247.6h0M271.2 276.0h0M270.9 278.9h0M271.3 286.4h0M271.1 288.9h0M273.5 249.8h0M273.2 268.2h0M273.1 283.9h0M273.7 289.0h0M276.2 257.4h0M276.5 263.4h0M275.8 270.6h0M276.2 281.4h0M281.2 262.8h0" stroke="#000" stroke-width="2.50" stroke-linecap="round" fill="none"/>
<path d="M238.3 260.6h0M244.5 266.6h0M244.3 275.0h0M244.7 284.0h0M250.7 264.7h0M251.0 270.8h0" stroke="#14e614" stroke-width="2.60" stroke-linecap="round" fill="none"/>
<path d="M238.2 264.4h0M244.1 254.1h0M244.1 270.8h0M246.5 279.5h0M246.4 281.4h0M246.4 286.2h0" stroke="#6a0aa0" stroke-width="2.60" stroke-linecap="round" fill="none"/>
<path d="M242.2 277.3h0M242.2 286.1h0M244.2 256.8h0M246.3 271.3h0M246.8 277.7h0M250.4 277.6h0" stroke="#0ae6f0" stroke-width="2.60" stroke-linecap="round" fill="none"/>
<path d="M237.8 250.0h0M237.8 256.0h0M238.0 258.4h0M240.3 267.2h0M242.4 256.2h0M242.8 281.3h0M244.9 286.0h0M244.1 287.6h0M247.0 256.5h0M246.4 264.5h0M248.5 275.7h0M248.9 277.7h0M248.6 286.1h0M251.0 275.0h0M250.5 279.6h0" stroke="#1424f0" stroke-width="2.60" stroke-linecap="round" fill="none"/>
<path d="M236.3 252.6h0M237.9 248.3h0M238.2 254.6h0M238.0 262.8h0M238.3 266.6h0M237.8 268.7h0M237.8 271.4h0M238.1 273.3h0M237.8 275.4h0M238.3 277.6h0M238.0 279.2h0M238.2 281.4h0M238.6 283.3h0M238.5 287.9h0M240.1 250.2h0M240.2 251.8h0M239.9 253.9h0M240.7 256.5h0M239.9 260.7h0M239.9 262.7h0M240.7 265.2h0M240.5 268.6h0M240.6 270.7h0M239.9 275.5h0M240.4 277.5h0M240.6 281.8h0M240.6 285.9h0M240.0 288.2h0M242.8 250.4h0M242.4 252.3h0M242.7 253.9h0M242.0 258.9h0M242.7 260.5h0M242.7 262.5h0M242.8 264.8h0M242.6 272.8h0M242.7 275.1h0M242.6 279.7h0M242.5 283.3h0M242.5 288.0h0M244.8 250.5h0M244.2 252.3h0M244.6 258.2h0M244.9 260.3h0M244.3 262.3h0M244.4 264.7h0M244.5 269.0h0M244.5 273.5h0M244.1 277.7h0M244.9 279.5h0M244.6 281.2h0M246.4 250.4h0M246.6 251.8h0M246.4 253.9h0M246.2 258.1h0M246.6 261.0h0M247.0 262.9h0M246.6 266.6h0M246.3 269.3h0M246.3 273.1h0M247.0 274.9h0M246.6 283.8h0M246.6 288.3h0M248.6 250.3h0M248.4 252.1h0M249.1 254.2h0M248.9 256.1h0M248.8 258.5h0M249.0 263.0h0M248.9 264.4h0M248.8 266.8h0M248.8 271.3h0M248.8 272.8h0M248.7 279.2h0M248.9 282.0h0M248.4 283.9h0M251.0 256.6h0M250.7 267.0h0M250.4 269.3h0M251.2 273.1h0M252.8 269.0h0" stroke="#000" stroke-width="2.60" stroke-linecap="round" fill="none"/>
<path d="M252.7 227.8h0" stroke="#1424f0" stroke-width="2.40" stroke-linecap="round" fill="none"/>
<path d="M241.7 230.4h0M244.3 235.7h0M244.1 238.7h0M252.5 230.0h0M253.1 238.9h0M255.3 235.5h0M258.4 233.3h0M258.3 238.2h0" stroke="#f01414" stroke-width="2.40" stroke-linecap="round" fill="none"/>
<path d="M244.3 232.9h0M250.1 232.7h0M249.9 235.6h0M252.4 235.7h0M255.6 227.3h0M255.9 233.4h0M256.0 238.9h0M258.2 230.3h0" stroke="#000" stroke-width="2.40" stroke-linecap="round" fill="none"/>
<path d="M235.6 223.4h0M235.9 233.2h0" stroke="#f0f000" stroke-width="2.80" stroke-linecap="round" fill="none"/>
<path d="M235.6 214.1h0M241.4 210.0h0M249.3 227.0h0M251.3 217.7h0M250.8 225.4h0" stroke="#14e614" stroke-width="2.80" stroke-linecap="round" fill="none"/>
<path d="M227.8 228.8h0M231.5 221.1h0M232.3 230.8h0M233.9 223.0h0M235.5 211.6h0M237.2 214.0h0M245.0 215.7h0" stroke="#1424f0" stroke-width="2.80" stroke-linecap="round" fill="none"/>
<path d="M227.7 223.8h0M228.4 227.1h0M230.2 219.3h0M229.8 225.7h0M231.5 219.5h0M231.8 223.5h0M232.3 227.2h0M232.1 229.4h0M234.0 212.0h0M233.7 214.2h0M233.5 227.3h0M234.1 231.3h0M235.5 215.7h0M235.6 221.4h0M235.8 227.0h0M235.3 229.5h0M235.6 231.1h0M237.5 212.3h0M237.5 223.6h0M238.0 226.9h0M239.9 209.7h0M239.5 229.2h0M239.5 233.3h0M241.0 215.8h0M241.1 219.6h0M241.5 225.1h0M243.7 210.5h0M243.6 216.2h0M243.0 226.9h0M243.1 229.0h0M245.6 214.1h0M244.9 219.4h0M244.9 231.1h0M249.0 211.6h0M249.4 215.6h0M250.9 223.8h0" stroke="#f01414" stroke-width="2.80" stroke-linecap="round" fill="none"/>
<path d="M228.2 225.4h0M229.9 217.8h0M230.0 221.7h0M229.7 227.5h0M230.3 229.3h0M231.6 215.5h0M232.0 217.8h0M231.9 225.1h0M234.0 215.5h0M233.9 218.1h0M233.9 219.3h0M234.0 221.1h0M233.4 225.0h0M233.6 229.2h0M235.4 217.7h0M235.3 220.0h0M236.1 225.3h0M238.0 215.8h0M238.0 218.0h0M237.9 219.4h0M237.7 221.7h0M237.2 225.2h0M237.7 229.1h0M237.8 231.2h0M237.9 232.5h0M239.6 212.3h0M239.2 213.7h0M239.8 215.9h0M239.1 217.3h0M239.2 220.0h0M239.6 223.1h0M239.2 225.1h0M239.4 226.8h0M239.9 230.8h0M241.4 211.8h0M241.6 214.3h0M241.2 217.6h0M241.0 221.4h0M241.0 223.0h0M241.0 227.4h0M241.0 229.5h0M241.1 231.2h0M241.1 232.9h0M243.5 212.2h0M243.7 213.9h0M243.6 218.0h0M243.3 219.3h0M243.6 221.2h0M243.7 223.3h0M243.1 225.6h0M242.9 230.8h0M245.1 210.3h0M244.8 212.4h0M245.3 221.8h0M245.3 223.8h0M244.9 225.3h0M244.9 227.0h0M245.5 228.8h0M247.1 212.2h0M247.4 213.6h0M247.3 215.4h0M246.9 217.3h0M246.7 219.3h0M247.4 221.6h0M247.4 223.6h0M247.5 225.0h0M247.0 227.2h0M247.4 228.9h0M248.7 214.3h0M249.4 217.8h0M249.0 219.5h0M249.4 221.1h0M248.7 223.1h0M249.1 225.7h0M248.6 228.9h0M250.5 212.4h0M251.3 213.7h0M251.2 216.2h0M251.0 219.3h0M250.7 221.8h0" stroke="#000" stroke-width="2.80" stroke-linecap="round" fill="none"/>
<path d="M201.3 250.6h0M207.7 272.7h0M213.7 265.3h0M220.6 261.4h0M229.6 261.9h0M238.3 281.1h0" stroke="#1424f0" stroke-width="2.90" stroke-linecap="round" fill="none"/>
<path d="M206.7 275.8h0M213.4 263.1h0M213.6 272.6h0M215.7 256.6h0M215.2 279.5h0M217.5 259.6h0M217.1 279.7h0M218.7 270.5h0M229.8 258.5h0" stroke="#6a0aa0" stroke-width="2.90" stroke-linecap="round" fill="none"/>
<path d="M199.4 258.0h0M199.5 260.2h0M199.3 265.4h0M200.9 238.1h0M200.7 240.5h0M201.1 241.9h0M200.9 243.7h0M200.7 245.6h0M201.2 247.4h0M201.0 248.7h0M200.6 252.9h0M201.3 254.9h0M201.2 255.9h0M201.0 258.5h0M201.1 259.8h0M201.3 261.6h0M200.7 263.2h0M201.1 264.9h0M201.0 267.1h0M202.5 238.4h0M202.3 240.1h0M202.3 242.3h0M203.0 244.0h0M202.7 245.2h0M202.7 247.6h0M202.5 249.4h0M202.7 250.5h0M202.9 252.5h0M203.0 254.1h0M203.0 255.9h0M202.3 257.7h0M202.8 259.8h0M202.5 261.3h0M202.8 263.5h0M203.1 265.5h0M202.5 266.9h0M202.7 268.7h0M202.4 270.3h0M204.4 238.2h0M204.7 239.7h0M204.8 241.8h0M204.4 244.0h0M204.2 245.9h0M204.2 247.4h0M204.8 249.0h0M204.8 250.8h0M204.9 252.8h0M204.7 254.2h0M204.4 256.3h0M204.2 258.4h0M204.3 259.7h0M204.6 263.7h0M204.6 265.7h0M204.1 266.7h0M204.2 269.1h0M204.2 270.7h0M204.8 272.5h0M206.1 238.7h0M206.5 240.3h0M206.0 242.3h0M206.2 243.5h0M206.4 245.1h0M205.9 247.3h0M206.1 249.0h0M206.5 251.3h0M206.6 252.7h0M206.3 254.4h0M205.9 256.0h0M206.6 258.0h0M206.5 260.0h0M206.5 262.0h0M206.4 263.6h0M206.3 265.1h0M206.5 267.2h0M205.9 269.2h0M206.7 270.7h0M205.9 274.6h0M207.8 238.4h0M207.9 240.1h0M207.8 243.4h0M208.0 245.9h0M207.9 249.1h0M207.9 256.5h0M207.7 257.9h0M208.0 260.3h0M208.5 261.3h0M208.5 263.2h0M208.2 264.9h0M208.1 267.4h0M208.5 269.2h0M207.8 270.4h0M207.9 274.2h0M208.0 275.8h0M209.6 256.5h0M210.3 257.7h0M209.5 259.9h0M210.0 261.3h0M210.3 263.8h0M210.2 265.7h0M209.6 266.7h0M210.2 268.8h0M210.2 270.8h0M209.5 272.7h0M210.1 274.5h0M209.5 275.7h0M211.4 256.3h0M212.1 258.1h0M211.8 259.8h0M212.1 261.9h0M211.7 263.2h0M211.6 265.5h0M211.4 266.9h0M211.7 269.1h0M211.9 270.6h0M211.9 272.2h0M211.6 274.7h0M212.1 276.5h0M211.3 277.7h0M213.5 256.4h0M213.6 258.5h0M213.9 260.0h0M213.6 261.7h0M213.9 266.8h0M213.1 268.6h0M213.6 270.7h0M213.3 274.5h0M213.4 275.8h0M213.5 278.3h0M215.1 258.3h0M214.9 259.7h0M215.2 261.3h0M215.6 263.5h0M215.4 265.3h0M215.3 266.8h0M215.1 269.2h0M215.1 270.5h0M215.4 272.7h0M215.1 274.4h0M215.2 275.7h0M215.2 278.2h0M217.0 256.3h0M216.7 257.7h0M217.1 261.8h0M217.3 263.7h0M217.0 265.0h0M217.4 266.9h0M216.7 269.3h0M217.0 270.5h0M217.0 272.5h0M217.4 274.0h0M217.3 276.0h0M217.0 278.1h0M219.1 256.5h0M219.2 257.8h0M218.8 260.0h0M219.3 261.6h0M218.8 263.1h0M219.1 265.1h0M218.9 266.8h0M218.8 268.7h0M219.1 272.7h0M219.0 274.2h0M218.9 276.3h0M218.6 277.6h0M219.3 279.6h0M218.6 281.1h0M220.6 256.5h0M220.5 258.3h0M221.0 260.3h0M220.8 263.5h0M221.0 265.0h0M221.1 267.4h0M220.5 268.7h0M221.1 270.3h0M220.5 272.7h0M220.9 274.2h0M221.0 276.3h0M220.6 277.9h0M220.6 280.1h0M222.3 256.7h0M222.3 258.3h0M222.3 259.6h0M222.5 261.9h0M222.6 263.9h0M222.8 265.1h0M222.9 267.4h0M222.4 268.7h0M222.3 271.1h0M222.6 272.6h0M222.5 274.2h0M222.7 275.8h0M222.4 278.3h0M222.2 280.1h0M222.2 281.5h0M222.7 283.0h0M223.9 256.0h0M224.1 257.8h0M224.7 259.5h0M224.3 261.7h0M224.0 263.1h0M224.3 265.0h0M224.1 266.7h0M224.3 268.5h0M224.6 270.5h0M224.2 272.9h0M224.4 274.5h0M224.5 275.7h0M224.5 278.3h0M224.5 279.7h0M224.7 281.7h0M224.3 283.6h0M226.0 257.8h0M225.8 260.2h0M226.1 262.0h0M226.1 263.6h0M226.0 264.9h0M225.7 266.8h0M226.2 268.6h0M226.3 271.1h0M226.5 272.5h0M226.4 274.1h0M225.9 276.3h0M225.9 278.3h0M226.5 279.3h0M226.0 281.9h0M226.4 283.6h0M226.2 284.7h0M228.1 256.2h0M227.6 258.3h0M228.1 260.3h0M227.7 262.0h0M227.5 263.1h0M227.5 265.0h0M227.6 267.3h0M228.2 268.5h0M227.7 270.3h0M228.0 272.8h0M228.2 274.7h0M228.3 275.7h0M228.2 277.7h0M228.2 280.1h0M228.2 281.6h0M228.0 283.2h0M228.1 285.2h0M229.7 260.2h0M229.5 263.9h0M229.4 265.2h0M229.6 267.3h0M230.0 268.8h0M229.5 270.7h0M229.3 272.6h0M229.5 273.9h0M230.1 275.9h0M229.3 278.0h0M229.6 279.4h0M229.9 281.4h0M229.8 283.6h0M229.3 284.7h0M229.9 286.8h0M231.3 260.1h0M231.1 261.9h0M231.9 263.8h0M231.1 265.1h0M231.4 267.3h0M231.8 268.9h0M231.2 270.9h0M231.7 272.7h0M231.2 274.2h0M231.4 276.1h0M231.1 277.9h0M231.6 279.8h0M231.3 281.8h0M231.2 283.4h0M231.5 284.8h0M231.4 287.3h0M233.3 261.4h0M233.0 263.3h0M233.0 265.5h0M233.3 267.1h0M233.4 269.0h0M233.2 270.3h0M233.4 272.5h0M233.5 273.9h0M233.1 275.8h0M233.1 278.3h0M233.6 280.1h0M233.1 281.6h0M232.9 283.3h0M233.0 284.7h0M232.9 286.9h0M235.1 261.8h0M234.8 263.5h0M234.9 265.1h0M235.1 266.7h0M234.8 269.2h0M234.9 270.7h0M235.1 272.3h0M235.3 276.2h0M234.9 277.5h0M235.0 279.3h0M234.8 281.4h0M235.2 283.5h0M235.3 285.1h0M234.9 286.8h0M234.7 288.7h0M237.1 265.6h0M237.3 267.5h0M237.3 269.2h0M236.9 270.8h0M237.1 272.2h0M236.7 274.1h0M237.2 275.9h0M236.9 278.0h0M236.7 279.8h0M236.7 281.3h0M237.1 283.7h0M236.6 285.0h0M236.9 286.5h0M237.0 288.4h0M238.6 266.7h0M238.9 268.5h0M239.1 270.8h0M238.3 272.7h0M239.0 274.4h0M239.1 276.3h0M238.7 278.1h0M239.0 279.3h0M238.3 283.7h0M238.8 284.9h0M238.9 286.6h0M238.6 288.7h0M238.9 290.1h0M240.9 270.6h0M240.9 272.7h0M240.9 274.1h0M240.6 276.1h0M240.1 278.1h0M240.3 280.0h0M240.1 281.6h0M240.5 283.1h0M240.7 284.9h0M240.8 286.5h0M240.2 288.8h0M240.6 290.2h0M241.9 275.9h0M242.2 277.8h0M242.0 279.7h0M242.6 281.8h0M242.1 283.3h0M242.3 284.7h0M242.7 286.7h0M242.0 289.0h0M243.8 281.1h0M244.5 283.0h0M243.8 284.7h0M244.3 287.2h0M244.3 288.5h0" stroke="#000" stroke-width="2.90" stroke-linecap="round" fill="none"/>
<path d="M211.3 241.1h0M215.0 246.9h0M224.1 237.6h0M231.7 246.7h0" stroke="#0ae6f0" stroke-width="2.60" stroke-linecap="round" fill="none"/>
<path d="M211.5 237.3h0M212.9 237.9h0M213.3 239.7h0M215.1 240.0h0M216.7 239.5h0M216.3 243.2h0M220.1 246.7h0M220.6 248.5h0M224.2 250.5h0M226.3 252.2h0M226.3 254.8h0M227.9 236.3h0" stroke="#f01414" stroke-width="2.60" stroke-linecap="round" fill="none"/>
<path d="M209.2 231.7h0M208.9 235.6h0M211.1 232.5h0M211.1 234.2h0M212.6 234.4h0M221.9 234.4h0M224.4 245.3h0M224.5 249.0h0M225.8 233.8h0M225.7 248.4h0M227.7 234.3h0M227.5 248.7h0M229.2 231.9h0M231.4 235.5h0" stroke="#ffffff" stroke-width="2.60" stroke-linecap="round" fill="none"/>
<path d="M210.9 239.2h0M212.7 241.1h0M215.2 243.5h0M216.9 241.4h0M217.0 245.2h0M219.0 245.1h0M218.5 246.8h0M220.5 245.1h0M222.3 248.6h0M222.0 251.1h0M222.1 252.7h0M224.5 252.8h0M227.8 243.2h0M227.4 254.4h0M229.9 248.9h0M233.0 251.1h0" stroke="#f0f000" stroke-width="2.60" stroke-linecap="round" fill="none"/>
<path d="M209.4 237.9h0M213.3 243.3h0M214.7 244.8h0M216.7 246.6h0M217.1 248.4h0M218.4 248.4h0M219.0 250.2h0M220.7 250.9h0M224.0 235.8h0M224.2 239.7h0M223.9 241.5h0M223.9 254.0h0M226.3 231.9h0M225.9 241.4h0M225.7 242.9h0M228.1 237.3h0M229.3 237.3h0M231.2 248.6h0M235.6 232.1h0M235.2 246.9h0" stroke="#14e614" stroke-width="2.60" stroke-linecap="round" fill="none"/>
<path d="M209.0 239.6h0M209.0 250.4h0M211.2 243.3h0M213.2 232.0h0M212.9 245.5h0M213.2 247.1h0M213.3 250.8h0M214.7 248.6h0M218.4 252.3h0M220.8 234.3h0M220.4 252.8h0M222.2 237.6h0M222.2 254.4h0M224.2 234.0h0M225.7 237.8h0M225.8 240.0h0M227.5 241.0h0M230.0 245.1h0M229.7 246.7h0M231.3 231.9h0M231.5 233.7h0M233.2 236.2h0M233.6 245.1h0M233.2 248.5h0M234.9 241.6h0M235.3 248.5h0M235.0 250.7h0M235.1 252.3h0" stroke="#1424f0" stroke-width="2.60" stroke-linecap="round" fill="none"/>
<path d="M208.9 234.0h0M209.7 241.6h0M209.1 243.4h0M208.9 245.5h0M209.5 246.6h0M209.7 248.5h0M209.0 252.1h0M209.6 254.4h0M211.0 235.7h0M211.4 244.9h0M211.4 247.3h0M211.5 248.6h0M211.4 250.9h0M211.1 252.5h0M211.4 254.3h0M212.8 236.1h0M212.7 248.4h0M212.8 252.2h0M213.2 254.2h0M215.3 250.9h0M214.6 252.7h0M215.1 254.0h0M217.0 232.3h0M216.4 233.6h0M216.3 235.5h0M216.3 250.9h0M216.7 252.5h0M216.9 254.1h0M218.4 231.9h0M218.7 233.7h0M218.5 236.1h0M218.8 254.6h0M220.4 232.5h0M220.6 235.8h0M220.5 254.6h0M222.7 232.5h0M222.6 236.0h0M223.7 232.3h0M227.5 232.2h0M227.9 239.2h0M229.3 234.3h0M230.0 235.5h0M230.0 239.1h0M229.8 241.5h0M229.7 242.9h0M231.4 238.1h0M231.8 241.3h0M231.2 243.0h0M231.8 245.0h0M233.2 231.7h0M233.8 234.3h0M233.4 238.1h0M233.5 239.6h0M233.7 241.1h0M233.1 243.2h0M233.4 247.1h0M235.1 236.2h0M235.2 237.6h0M235.6 239.8h0M235.1 243.4h0M235.1 245.0h0" stroke="#000" stroke-width="2.60" stroke-linecap="round" fill="none"/>
<path d="M230.4 257.9h0M233.6 259.5h0M235.9 258.0h0" stroke="#ffffff" stroke-width="2.60" stroke-linecap="round" fill="none"/>
<path d="M222.8 255.6h0M224.1 257.1h0M230.3 264.8h0M232.2 266.8h0M235.8 268.9h0M235.5 270.3h0M240.8 257.7h0M241.2 277.6h0" stroke="#0ae6f0" stroke-width="2.60" stroke-linecap="round" fill="none"/>
<path d="M228.1 257.4h0M232.0 261.2h0M233.7 262.7h0M237.5 259.4h0M237.1 265.1h0M237.5 267.1h0M239.1 268.9h0M241.3 264.9h0M241.3 270.6h0M243.2 264.8h0M243.0 272.7h0M243.3 274.3h0M244.8 274.1h0M246.9 276.5h0M246.5 279.3h0" stroke="#f01414" stroke-width="2.60" stroke-linecap="round" fill="none"/>
<path d="M218.7 261.5h0M220.9 255.3h0M221.2 257.2h0M226.4 261.1h0M228.1 263.2h0M228.0 265.3h0M230.1 266.7h0M230.2 274.2h0M231.8 268.4h0M233.7 268.9h0M233.3 270.2h0M233.4 272.0h0M237.3 274.3h0M239.5 256.1h0M239.4 277.7h0M240.7 279.6h0M243.2 281.8h0M242.7 283.7h0M244.6 285.3h0" stroke="#1424f0" stroke-width="2.60" stroke-linecap="round" fill="none"/>
<path d="M224.7 256.1h0M225.9 259.4h0M227.8 261.1h0M230.1 259.4h0M229.6 261.7h0M229.7 262.8h0M231.5 265.0h0M233.7 266.4h0M235.8 255.5h0M237.8 257.7h0M237.0 272.0h0M239.3 271.9h0M239.4 274.6h0M241.1 259.7h0M240.9 274.5h0M243.0 278.0h0M243.2 279.6h0M244.4 264.9h0M244.9 279.6h0M244.9 281.8h0M246.9 283.2h0" stroke="#14e614" stroke-width="2.60" stroke-linecap="round" fill="none"/>
<path d="M226.7 255.6h0M226.4 257.6h0M227.8 255.4h0M228.2 259.2h0M232.1 263.5h0M233.6 265.2h0M235.8 259.0h0M235.2 264.6h0M235.3 267.0h0M237.3 256.0h0M237.2 268.8h0M237.1 270.3h0M239.5 257.2h0M239.6 270.6h0M241.0 261.6h0M241.0 272.5h0M242.5 260.9h0M243.0 275.9h0M244.8 275.6h0M244.5 277.8h0M247.0 277.7h0M246.9 281.3h0" stroke="#f0f000" stroke-width="2.60" stroke-linecap="round" fill="none"/>
<path d="M213.1 255.5h0M214.9 255.9h0M215.2 257.8h0M217.1 255.3h0M217.4 257.9h0M217.4 259.0h0M219.2 256.1h0M218.8 257.9h0M219.1 259.3h0M219.1 262.7h0M220.7 259.8h0M220.8 261.1h0M220.7 263.3h0M220.5 265.0h0M223.0 257.9h0M223.0 259.7h0M222.3 261.5h0M223.0 263.1h0M222.6 265.1h0M222.4 266.9h0M223.0 268.2h0M224.5 261.1h0M224.5 263.4h0M224.8 265.2h0M224.2 266.7h0M224.8 269.1h0M224.7 270.3h0M226.4 264.8h0M226.5 266.4h0M226.5 268.4h0M226.4 270.9h0M226.7 272.8h0M228.5 267.0h0M227.8 268.5h0M228.3 270.4h0M227.7 272.3h0M228.4 274.4h0M229.9 269.0h0M230.1 270.2h0M229.7 272.6h0M230.4 276.5h0M232.0 270.9h0M231.9 272.8h0M232.3 274.6h0M232.0 276.0h0M232.0 277.7h0M233.4 274.2h0M233.3 276.1h0M233.4 277.9h0M233.7 279.9h0M235.8 272.5h0M235.3 274.4h0M235.4 276.0h0M236.0 278.1h0M235.7 279.8h0M235.6 281.2h0M235.8 283.5h0M237.5 276.5h0M237.2 277.8h0M237.6 279.9h0M237.3 281.9h0M237.0 283.7h0M237.7 285.7h0M239.6 275.8h0M239.5 279.4h0M239.5 281.5h0M238.8 283.5h0M239.4 285.4h0M241.2 281.4h0M241.3 283.1h0M241.5 285.5h0M245.0 283.1h0M246.3 285.2h0" stroke="#000" stroke-width="2.60" stroke-linecap="round" fill="none"/>
<path d="M231.1 289.8h0M231.1 292.3h0M233.4 295.9h0M237.4 285.9h0" stroke="#14e614" stroke-width="2.40" stroke-linecap="round" fill="none"/>
<path d="M241.0 297.9h0M240.7 299.8h0M243.0 300.0h0M245.3 289.9h0M244.7 296.0h0" stroke="#6a0aa0" stroke-width="2.40" stroke-linecap="round" fill="none"/>
<path d="M232.9 286.2h0M233.2 287.6h0M241.4 288.4h0M240.9 292.4h0M240.9 293.6h0M242.7 290.1h0" stroke="#1424f0" stroke-width="2.40" stroke-linecap="round" fill="none"/>
<path d="M229.2 284.4h0M228.8 285.7h0M230.7 285.7h0M230.9 294.0h0M233.3 289.7h0M233.1 292.2h0M233.1 294.2h0" stroke="#0ae6f0" stroke-width="2.40" stroke-linecap="round" fill="none"/>
<path d="M234.7 286.0h0M235.3 288.0h0M235.3 289.7h0M235.4 291.8h0M235.2 295.7h0M236.8 288.0h0M237.2 292.1h0M236.7 295.8h0M238.9 286.3h0M239.2 288.3h0M239.3 293.6h0M239.3 295.8h0" stroke="#f0f000" stroke-width="2.40" stroke-linecap="round" fill="none"/>
<path d="M235.2 293.7h0M235.0 298.1h0M237.4 289.8h0M237.4 294.0h0M236.6 298.2h0M238.6 291.6h0M238.7 297.6h0M238.8 299.9h0M240.8 295.7h0M243.3 291.7h0M242.9 294.2h0M244.7 288.1h0M244.6 291.9h0" stroke="#f01414" stroke-width="2.40" stroke-linecap="round" fill="none"/>
<path d="M194.7 274.0h0M198.9 281.6h0M204.4 281.6h0" stroke="#1424f0" stroke-width="2.50" stroke-linecap="round" fill="none"/>
<path d="M200.4 273.5h0M202.1 275.8h0M204.3 277.9h0" stroke="#0ae6f0" stroke-width="2.50" stroke-linecap="round" fill="none"/>
<path d="M192.8 287.1h0M197.1 272.4h0M197.0 273.9h0M196.7 283.8h0M211.7 283.1h0M212.4 287.1h0" stroke="#f0f000" stroke-width="2.50" stroke-linecap="round" fill="none"/>
<path d="M198.7 273.7h0M200.9 284.9h0M206.3 283.5h0M210.1 290.9h0M212.3 281.8h0M211.9 285.6h0" stroke="#000" stroke-width="2.50" stroke-linecap="round" fill="none"/>
<path d="M193.0 285.1h0M197.2 288.7h0M200.4 272.2h0M200.9 277.4h0M202.1 272.4h0M202.2 285.4h0M204.2 274.3h0M204.7 275.6h0M206.4 275.8h0M206.6 277.3h0M207.9 276.2h0M208.5 277.8h0M208.2 283.1h0M210.1 278.1h0M213.5 287.3h0" stroke="#14e614" stroke-width="2.50" stroke-linecap="round" fill="none"/>
<path d="M191.5 271.9h0M191.5 273.8h0M191.4 275.6h0M191.1 277.3h0M190.8 279.6h0M190.9 281.1h0M192.6 271.8h0M193.4 274.3h0M193.2 275.4h0M192.9 277.9h0M193.0 279.4h0M192.6 281.9h0M193.0 283.7h0M194.5 272.0h0M195.0 275.4h0M195.1 277.5h0M194.7 279.4h0M195.0 281.2h0M194.8 283.7h0M194.9 285.7h0M195.0 287.2h0M196.4 275.4h0M197.0 277.5h0M197.2 279.4h0M196.8 281.9h0M196.6 285.2h0M196.6 287.5h0M199.0 270.3h0M198.6 271.7h0M198.5 277.4h0M198.9 279.8h0M199.0 283.4h0M198.7 285.1h0M199.1 287.0h0M199.0 288.7h0M200.6 276.1h0M200.2 279.7h0M200.6 281.2h0M200.2 283.5h0M200.8 286.9h0M200.2 289.5h0M200.4 290.7h0M202.4 273.7h0M202.3 278.1h0M202.2 279.7h0M202.5 281.1h0M202.2 283.2h0M202.8 287.3h0M202.7 288.9h0M202.6 290.8h0M204.5 279.9h0M204.0 285.2h0M204.4 287.4h0M204.0 288.8h0M204.7 291.4h0M206.0 279.5h0M205.9 281.2h0M205.9 285.1h0M206.6 287.6h0M206.4 288.7h0M206.0 290.6h0M208.5 279.5h0M208.3 281.4h0M208.2 285.5h0M208.2 287.0h0M207.8 289.5h0M208.0 291.0h0M210.2 279.5h0M210.3 281.6h0M210.2 283.1h0M210.1 285.4h0M210.1 286.8h0M210.1 289.5h0M212.2 280.0h0M211.8 289.5h0M212.4 290.6h0M213.7 289.3h0" stroke="#f01414" stroke-width="2.50" stroke-linecap="round" fill="none"/>
<path d="M196.8 294.2h0M204.5 300.1h0" stroke="#14e614" stroke-width="2.50" stroke-linecap="round" fill="none"/>
<path d="M189.3 290.5h0M192.8 288.0h0M192.3 301.2h0M196.2 301.5h0" stroke="#1424f0" stroke-width="2.50" stroke-linecap="round" fill="none"/>
<path d="M190.5 286.8h0M190.6 288.1h0M194.2 286.3h0M194.7 298.1h0M196.8 288.7h0M200.1 300.0h0" stroke="#f01414" stroke-width="2.50" stroke-linecap="round" fill="none"/>
<path d="M188.7 286.8h0M189.1 288.0h0M189.3 291.9h0M188.6 294.3h0M188.5 296.1h0M188.9 298.0h0M191.1 290.4h0M190.6 292.0h0M190.5 294.0h0M191.0 295.7h0M190.9 298.0h0M191.0 300.1h0M192.8 284.8h0M192.5 286.5h0M192.6 290.4h0M192.5 292.0h0M192.3 293.8h0M192.4 296.0h0M192.5 298.0h0M192.4 299.8h0M194.6 287.9h0M194.9 290.3h0M194.7 292.2h0M195.0 294.3h0M194.9 295.6h0M194.5 299.8h0M194.9 301.2h0M194.3 303.7h0M196.2 284.4h0M196.8 286.2h0M196.7 289.9h0M196.8 292.1h0M196.4 296.2h0M196.1 298.1h0M196.2 299.6h0M196.9 303.3h0M198.6 284.7h0M198.0 286.1h0M198.7 288.6h0M198.8 290.1h0M198.5 294.3h0M198.1 297.7h0M198.7 301.2h0M200.2 284.5h0M200.4 286.0h0M200.4 288.2h0M200.5 289.8h0M200.2 292.3h0M200.5 293.9h0M200.5 296.3h0M200.4 298.2h0M200.2 301.4h0M201.9 288.5h0M202.5 290.0h0M202.0 291.7h0M202.6 293.7h0M202.4 295.9h0M202.0 297.9h0M202.2 299.3h0M202.5 302.0h0M204.2 291.8h0M204.5 294.2h0M204.1 296.0h0M203.9 297.9h0M204.2 301.8h0M205.7 294.2h0M205.6 295.8h0" stroke="#000" stroke-width="2.50" stroke-linecap="round" fill="none"/>
<path d="M171.3 287.2h0" stroke="#f0f000" stroke-width="2.50" stroke-linecap="round" fill="none"/>
<path d="M177.9 283.6h0M181.6 284.2h0M181.8 287.1h0M184.5 287.5h0M185.1 297.5h0" stroke="#000" stroke-width="2.50" stroke-linecap="round" fill="none"/>
<path d="M283.5 287.5h0M293.6 290.6h0" stroke="#1424f0" stroke-width="2.50" stroke-linecap="round" fill="none"/>
<path d="M286.7 283.8h0M290.0 298.2h0" stroke="#0ae6f0" stroke-width="2.50" stroke-linecap="round" fill="none"/>
<path d="M276.5 283.8h0M283.5 301.3h0M293.6 287.2h0" stroke="#000" stroke-width="2.50" stroke-linecap="round" fill="none"/>
<path d="M272.2 296.5h0M271.8 303.9h0M274.1 298.5h0M277.4 295.4h0M277.6 301.9h0M277.0 304.0h0" stroke="#1424f0" stroke-width="2.50" stroke-linecap="round" fill="none"/>
<path d="M271.7 298.3h0M272.3 300.3h0M272.0 301.9h0M273.4 297.2h0M273.4 300.6h0M273.3 302.4h0M273.5 304.4h0M275.9 296.5h0M275.8 299.0h0M275.7 300.5h0M275.3 302.7h0M275.6 304.4h0M277.1 297.2h0M277.6 298.3h0M277.0 305.8h0M278.8 298.4h0M279.0 300.4h0M279.3 302.6h0M278.7 304.5h0" stroke="#000" stroke-width="2.50" stroke-linecap="round" fill="none"/>
<path d="M281.4 301.9h0" stroke="#14e614" stroke-width="2.40" stroke-linecap="round" fill="none"/>
<path d="M281.5 299.8h0M282.6 294.3h0M283.2 295.9h0M282.6 298.3h0M282.6 301.4h0M285.0 297.8h0M284.6 300.1h0" stroke="#0ae6f0" stroke-width="2.40" stroke-linecap="round" fill="none"/>
<path d="M223.3 360.6h0" stroke="#000" stroke-width="2.40" stroke-linecap="round" fill="none"/>
<path d="M221.5 360.6h0M234.7 350.3h0" stroke="#f01414" stroke-width="2.40" stroke-linecap="round" fill="none"/>
<path d="M223.7 358.4h0M227.9 354.5h0M227.9 356.7h0M232.6 354.1h0M234.9 351.8h0" stroke="#0ae6f0" stroke-width="2.40" stroke-linecap="round" fill="none"/>
<path d="M260.3 356.5h0" stroke="#f01414" stroke-width="2.50" stroke-linecap="round" fill="none"/>
<path d="M240.0 352.9h0M239.5 363.0h0M253.8 352.8h0" stroke="#6a0aa0" stroke-width="2.50" stroke-linecap="round" fill="none"/>
<path d="M242.9 363.4h0M246.4 359.7h0M250.3 356.9h0M260.2 363.5h0" stroke="#000" stroke-width="2.50" stroke-linecap="round" fill="none"/>
<path d="M217.7 381.4h0" stroke="#0ae6f0" stroke-width="2.50" stroke-linecap="round" fill="none"/>
<path d="M211.9 379.3h0M214.4 375.6h0M213.7 379.2h0M216.3 379.1h0M218.2 375.5h0M218.3 379.1h0" stroke="#1424f0" stroke-width="2.50" stroke-linecap="round" fill="none"/>
<path d="M209.8 375.5h0M210.2 377.3h0M213.6 377.9h0M216.1 375.2h0M215.9 381.1h0M218.2 377.4h0M219.7 377.7h0M220.0 381.9h0" stroke="#000" stroke-width="2.50" stroke-linecap="round" fill="none"/>
<path d="M240.7 423.9h0M264.1 412.0h0" stroke="#000" stroke-width="2.50" stroke-linecap="round" fill="none"/>
<path d="M266.9 432.5h0M269.3 438.7h0" stroke="#f01414" stroke-width="2.50" stroke-linecap="round" fill="none"/>
<path d="M246.2 418.1h0M249.3 409.3h0M255.3 435.8h0M270.0 435.9h0M275.2 432.4h0" stroke="#f0f000" stroke-width="2.50" stroke-linecap="round" fill="none"/>
<path d="M240.3 412.6h0M243.7 429.5h0M249.5 430.0h0M261.4 400.6h0M260.8 421.1h0M267.2 438.3h0M272.2 438.2h0" stroke="#f8a000" stroke-width="2.50" stroke-linecap="round" fill="none"/>
<path d="M246.5 406.4h0M246.6 438.9h0M249.6 426.8h0M258.1 423.6h0M258.2 426.5h0M258.3 435.5h0M260.7 424.4h0M264.0 409.5h0" stroke="#1424f0" stroke-width="2.50" stroke-linecap="round" fill="none"/>
<path d="M240.8 404.1h0M240.9 415.1h0M240.8 426.7h0M243.7 409.7h0M243.5 418.4h0M243.5 432.7h0M246.1 403.8h0M246.4 415.6h0M249.0 418.1h0M249.6 432.3h0M249.5 444.6h0M257.7 438.8h0M269.5 421.1h0M273.0 415.5h0M275.3 426.5h0M278.7 429.8h0" stroke="#0ae6f0" stroke-width="2.50" stroke-linecap="round" fill="none"/>
<path d="M240.4 421.1h0M240.7 433.0h0M240.5 441.0h0M243.5 406.4h0M243.4 421.5h0M244.0 424.0h0M243.7 426.6h0M246.2 400.5h0M246.3 409.1h0M249.6 401.0h0M249.3 403.6h0M249.4 406.7h0M249.3 412.2h0M252.6 400.6h0M252.4 406.7h0M252.1 415.7h0M252.1 430.1h0M252.0 436.0h0M252.5 444.3h0M254.9 400.8h0M255.5 403.3h0M255.1 406.5h0M255.3 409.1h0M255.5 421.4h0M255.1 430.1h0M255.4 433.0h0M255.3 441.0h0M255.2 444.6h0M258.2 406.9h0M258.3 409.8h0M258.3 420.9h0M258.0 444.2h0M260.9 406.6h0M261.4 414.9h0M261.3 430.0h0M260.9 432.5h0M264.0 404.1h0M264.0 406.4h0M263.6 415.5h0M264.0 430.1h0M264.3 433.1h0M266.7 403.7h0M267.0 406.3h0M266.5 409.5h0M266.5 412.8h0M266.4 417.9h0M266.6 426.5h0M266.6 441.0h0M269.8 406.3h0M269.4 415.5h0M269.9 418.6h0M269.3 423.8h0M269.8 427.3h0M269.4 430.0h0M272.4 409.6h0M272.6 412.2h0M272.5 418.2h0M272.2 421.1h0M272.7 429.8h0M272.7 432.9h0M275.2 412.8h0M275.9 421.4h0M275.6 424.3h0M275.7 429.9h0M278.3 421.5h0" stroke="#14e614" stroke-width="2.50" stroke-linecap="round" fill="none"/>
<path d="M253.6 442.3h0M270.3 448.0h0" stroke="#000" stroke-width="2.50" stroke-linecap="round" fill="none"/>
<path d="M253.0 448.0h0M262.2 436.8h0" stroke="#f01414" stroke-width="2.50" stroke-linecap="round" fill="none"/>
<path d="M247.8 454.2h0M258.7 439.0h0M258.6 453.7h0M267.4 451.2h0" stroke="#14e614" stroke-width="2.50" stroke-linecap="round" fill="none"/>
<path d="M250.3 451.1h0M255.7 445.4h0M264.8 448.1h0M270.3 445.0h0" stroke="#1424f0" stroke-width="2.50" stroke-linecap="round" fill="none"/>
<path d="M247.8 456.3h0M250.3 442.1h0M249.9 445.3h0M250.4 456.5h0M252.9 445.2h0M256.3 447.7h0M259.2 442.3h0M262.2 453.6h0M262.2 456.4h0M264.8 439.0h0M264.4 451.0h0M265.2 453.5h0" stroke="#0ae6f0" stroke-width="2.50" stroke-linecap="round" fill="none"/>
<path d="M190.9 441.2h0M204.9 444.7h0" stroke="#14e614" stroke-width="2.50" stroke-linecap="round" fill="none"/>
<path d="M194.3 444.5h0M201.8 458.0h0M211.6 454.9h0" stroke="#1424f0" stroke-width="2.50" stroke-linecap="round" fill="none"/>
<path d="M188.1 448.0h0M188.2 451.8h0M187.8 454.6h0M198.1 441.3h0M205.1 451.2h0M204.6 454.9h0M207.8 447.8h0M207.9 455.0h0M211.2 444.7h0M214.7 447.8h0" stroke="#0ae6f0" stroke-width="2.50" stroke-linecap="round" fill="none"/>
<path d="M273.3 449.9h0M277.1 431.3h0M287.6 431.8h0" stroke="#000" stroke-width="2.50" stroke-linecap="round" fill="none"/>
<path d="M281.1 431.4h0M288.2 453.2h0M291.7 453.2h0M305.7 435.0h0" stroke="#0ae6f0" stroke-width="2.50" stroke-linecap="round" fill="none"/>
<path d="M270.0 434.8h0M269.6 453.3h0M277.1 453.5h0M280.6 446.4h0M295.3 442.7h0M295.4 450.0h0" stroke="#1424f0" stroke-width="2.50" stroke-linecap="round" fill="none"/>
<path d="M270.2 446.3h0M276.8 456.5h0M284.2 449.5h0M288.0 442.7h0M288.2 446.4h0M287.8 460.7h0M291.9 456.4h0M295.3 438.5h0M295.4 456.7h0" stroke="#6a0aa0" stroke-width="2.50" stroke-linecap="round" fill="none"/>
<path d="M283.5 458.4h0M285.2 450.6h0M287.2 454.9h0" stroke="#000" stroke-width="2.50" stroke-linecap="round" fill="none"/>
<path d="M284.6 454.9h0M285.1 459.7h0M286.8 456.3h0" stroke="#6a0aa0" stroke-width="2.50" stroke-linecap="round" fill="none"/>
<path d="M283.6 451.3h0M283.5 452.3h0M283.0 454.2h0M285.0 452.7h0M285.4 455.9h0M285.4 458.0h0M286.7 450.5h0M286.8 453.1h0M286.4 458.2h0M286.8 459.7h0" stroke="#1424f0" stroke-width="2.50" stroke-linecap="round" fill="none"/>
<path d="M290.8 453.4h0" stroke="#f0f000" stroke-width="2.40" stroke-linecap="round" fill="none"/>
<path d="M290.9 454.9h0" stroke="#14e614" stroke-width="2.40" stroke-linecap="round" fill="none"/>
<path d="M213.4 417.0h0M221.3 419.0h0M233.1 423.3h0M240.8 426.7h0M244.7 426.7h0" stroke="#f8a000" stroke-width="2.50" stroke-linecap="round" fill="none"/>
<path d="M196.3 415.1h0M197.8 436.2h0M200.1 432.9h0M203.8 438.3h0M205.9 399.8h0M211.6 416.7h0M217.9 399.4h0M225.2 429.2h0M235.4 399.9h0M235.3 438.6h0M239.2 401.5h0M242.7 424.7h0M242.9 440.8h0" stroke="#1424f0" stroke-width="2.50" stroke-linecap="round" fill="none"/>
<path d="M213.8 415.3h0M215.9 415.5h0M215.5 417.2h0M217.5 417.2h0M219.6 417.4h0M223.1 419.3h0M223.8 420.9h0M225.1 420.5h0M227.7 421.1h0M229.6 420.8h0M235.0 424.6h0M236.9 424.6h0M239.3 426.8h0M242.6 428.7h0" stroke="#f01414" stroke-width="2.50" stroke-linecap="round" fill="none"/>
<path d="M196.5 399.3h0M196.0 412.9h0M196.5 436.6h0M198.3 434.3h0M199.8 403.3h0M203.8 434.2h0M203.7 440.6h0M212.0 391.9h0M211.8 395.7h0M212.1 407.2h0M211.7 413.3h0M211.9 432.4h0M213.7 444.0h0M215.8 391.5h0M215.8 397.3h0M215.9 444.3h0M217.8 421.3h0M217.4 428.9h0M219.2 409.5h0M219.7 418.7h0M219.3 446.1h0M221.6 415.4h0M221.8 417.0h0M223.0 399.3h0M223.7 417.0h0M223.0 446.7h0M225.0 419.4h0M225.8 422.9h0M227.2 430.3h0M228.9 422.6h0M229.3 424.7h0M230.9 415.5h0M230.8 424.8h0M231.0 440.8h0M231.5 442.7h0M232.8 425.1h0M235.2 423.1h0M235.2 428.8h0M237.2 414.9h0M238.8 425.3h0M241.4 419.4h0M241.3 425.0h0M240.6 428.6h0M242.9 407.7h0" stroke="#f0f000" stroke-width="2.50" stroke-linecap="round" fill="none"/>
<path d="M194.2 416.6h0M194.3 419.4h0M196.5 407.7h0M195.9 416.8h0M196.5 432.7h0M198.1 404.9h0M197.7 409.6h0M199.9 393.9h0M200.1 397.1h0M199.7 405.5h0M199.6 429.0h0M199.9 430.4h0M201.9 401.3h0M201.6 405.5h0M202.1 407.7h0M202.0 419.1h0M201.9 442.3h0M203.6 395.3h0M204.2 407.3h0M203.7 413.6h0M204.1 420.7h0M203.6 442.5h0M205.7 397.4h0M205.5 418.8h0M205.5 430.8h0M205.8 444.6h0M208.1 397.6h0M207.7 401.3h0M207.7 409.6h0M208.1 414.9h0M207.6 420.7h0M207.4 444.8h0M210.2 397.8h0M209.9 409.1h0M209.7 410.8h0M209.5 420.9h0M209.6 423.2h0M209.7 432.4h0M210.0 434.4h0M209.7 444.5h0M211.6 397.7h0M211.7 399.3h0M211.4 411.5h0M212.0 429.0h0M211.8 434.2h0M212.0 446.2h0M213.7 399.1h0M213.5 403.7h0M213.9 411.3h0M213.5 422.6h0M213.5 434.2h0M213.5 448.1h0M215.4 401.2h0M215.5 411.6h0M215.8 422.9h0M215.6 424.4h0M215.5 429.1h0M215.9 434.4h0M215.5 436.3h0M215.4 448.6h0M217.4 391.5h0M217.3 393.5h0M218.0 401.1h0M217.8 403.7h0M217.2 423.0h0M217.2 424.7h0M217.6 431.1h0M217.9 448.3h0M219.5 389.6h0M219.9 391.4h0M219.6 397.2h0M219.3 413.0h0M219.7 415.1h0M219.1 425.3h0M219.1 438.5h0M221.6 391.7h0M221.6 403.5h0M221.4 436.8h0M221.0 438.9h0M221.3 448.6h0M223.5 403.7h0M223.5 415.4h0M223.6 428.6h0M223.4 434.6h0M223.2 438.4h0M225.6 399.9h0M225.0 403.4h0M225.4 415.4h0M224.9 438.9h0M227.0 403.1h0M227.0 405.6h0M226.9 416.8h0M227.1 428.8h0M227.6 438.3h0M227.5 440.3h0M228.9 399.3h0M229.3 405.7h0M229.6 416.8h0M229.5 418.6h0M229.5 428.7h0M229.6 430.5h0M228.8 440.7h0M231.1 393.8h0M231.1 405.5h0M231.4 418.7h0M231.6 430.3h0M231.3 444.3h0M233.4 395.9h0M232.9 411.0h0M232.8 430.4h0M233.6 438.6h0M233.2 442.7h0M234.7 407.1h0M235.0 408.9h0M234.7 419.4h0M235.5 434.4h0M234.7 442.1h0M235.2 444.2h0M236.9 396.0h0M237.0 397.8h0M237.0 407.7h0M237.2 409.6h0M236.8 421.2h0M237.2 432.8h0M237.3 436.4h0M237.2 440.0h0M237.2 444.6h0M239.3 397.6h0M239.3 421.0h0M240.6 423.0h0M243.3 434.5h0M244.8 422.5h0" stroke="#0ae6f0" stroke-width="2.50" stroke-linecap="round" fill="none"/>
<path d="M194.5 409.1h0M194.5 413.0h0M194.3 415.4h0M194.4 421.0h0M196.0 401.5h0M196.4 405.8h0M196.4 409.7h0M195.9 411.1h0M196.2 419.0h0M196.5 421.3h0M196.4 422.9h0M196.5 425.1h0M196.3 426.8h0M195.8 428.5h0M195.8 430.5h0M198.2 392.0h0M198.0 393.4h0M198.0 395.5h0M197.7 397.4h0M197.8 399.4h0M198.1 403.4h0M197.9 411.1h0M197.7 414.7h0M197.9 417.0h0M198.2 425.3h0M198.4 426.7h0M197.7 428.8h0M198.2 430.9h0M197.8 432.5h0M200.4 395.8h0M199.7 399.4h0M199.9 401.7h0M200.2 407.3h0M200.3 409.6h0M200.2 413.3h0M199.9 414.7h0M199.7 419.2h0M200.2 420.6h0M199.8 424.4h0M200.2 426.8h0M200.2 436.6h0M200.0 438.1h0M201.9 391.5h0M201.6 393.5h0M202.4 395.4h0M202.2 403.7h0M202.1 408.8h0M202.0 428.5h0M202.2 432.4h0M202.3 436.3h0M201.9 438.3h0M201.6 440.8h0M204.2 392.0h0M203.7 393.7h0M203.8 397.9h0M204.3 399.3h0M204.3 401.8h0M203.9 403.2h0M204.0 405.1h0M204.0 411.3h0M204.0 417.4h0M204.2 419.3h0M203.7 422.5h0M203.5 424.5h0M203.6 428.9h0M203.6 430.4h0M204.0 444.0h0M205.4 391.3h0M206.2 393.5h0M205.8 395.6h0M205.4 401.1h0M205.5 405.7h0M206.2 409.1h0M205.5 411.5h0M205.7 417.1h0M205.7 421.3h0M205.7 425.0h0M206.2 434.4h0M205.9 436.8h0M207.8 392.0h0M207.8 393.7h0M207.4 395.4h0M207.8 399.5h0M208.2 405.7h0M207.7 407.2h0M207.5 417.5h0M208.1 419.1h0M207.9 423.0h0M207.6 426.5h0M207.7 429.1h0M208.1 430.9h0M207.8 432.2h0M207.9 434.9h0M207.9 436.8h0M207.7 440.7h0M207.8 442.1h0M208.2 448.1h0M210.0 392.0h0M209.5 393.2h0M209.9 395.6h0M210.0 399.6h0M209.5 401.5h0M209.9 405.7h0M209.6 407.0h0M209.9 415.2h0M210.1 416.8h0M209.5 425.1h0M209.6 427.2h0M209.9 429.0h0M209.9 430.6h0M209.9 436.4h0M209.9 440.5h0M209.9 442.5h0M209.9 447.9h0M211.4 389.8h0M211.3 393.5h0M212.1 401.6h0M211.8 403.8h0M211.7 415.5h0M212.0 418.9h0M211.7 421.1h0M211.3 422.5h0M212.0 431.0h0M211.6 438.8h0M211.6 440.9h0M211.9 442.1h0M213.2 389.8h0M213.7 393.5h0M213.6 395.7h0M214.1 397.2h0M213.7 401.5h0M213.6 405.0h0M213.7 407.7h0M213.9 409.5h0M213.9 419.2h0M213.2 427.1h0M213.6 428.6h0M213.7 432.8h0M213.8 440.0h0M213.6 442.1h0M215.8 389.7h0M215.6 395.7h0M215.2 399.6h0M216.0 403.6h0M215.6 405.6h0M215.5 407.0h0M215.8 409.0h0M215.9 413.5h0M215.3 418.7h0M215.6 430.5h0M215.5 438.5h0M215.3 440.6h0M215.9 442.6h0M217.5 390.2h0M217.2 397.7h0M217.9 407.3h0M217.3 411.4h0M217.2 413.5h0M217.1 418.9h0M217.9 433.0h0M217.9 434.3h0M217.2 436.9h0M217.6 440.5h0M217.6 442.3h0M217.2 444.3h0M217.4 446.3h0M219.2 393.8h0M219.8 396.0h0M219.6 401.2h0M219.5 403.8h0M219.2 405.0h0M219.5 421.0h0M219.9 422.7h0M219.2 426.8h0M219.6 428.9h0M219.1 431.0h0M219.5 433.0h0M219.7 434.4h0M219.2 442.4h0M219.9 444.2h0M221.2 389.5h0M221.8 393.3h0M221.5 397.9h0M221.6 399.3h0M221.3 405.8h0M221.1 407.1h0M221.4 409.3h0M221.3 411.1h0M221.1 413.2h0M221.6 421.1h0M221.8 422.7h0M221.1 426.6h0M221.7 430.4h0M221.3 440.7h0M221.9 442.3h0M221.9 446.7h0M223.5 391.6h0M223.7 397.5h0M223.2 423.2h0M223.2 424.6h0M223.1 426.5h0M223.4 436.4h0M224.9 395.4h0M224.9 397.2h0M225.3 401.2h0M225.2 405.7h0M225.3 407.6h0M225.2 411.1h0M225.0 416.7h0M224.9 427.1h0M224.9 430.8h0M225.1 434.6h0M225.7 436.9h0M225.0 440.2h0M225.2 442.7h0M225.1 444.0h0M225.1 446.5h0M225.5 448.3h0M226.9 394.1h0M227.0 396.0h0M227.6 397.5h0M227.0 399.6h0M227.2 401.4h0M227.2 407.6h0M226.9 409.1h0M226.9 411.3h0M227.4 413.1h0M227.3 418.7h0M227.7 423.0h0M227.3 424.8h0M227.0 436.9h0M227.6 446.6h0M229.7 393.5h0M229.4 397.4h0M229.6 401.7h0M229.6 407.7h0M229.5 411.1h0M229.7 413.5h0M228.9 427.1h0M229.7 432.8h0M229.7 434.2h0M229.5 438.8h0M228.8 446.3h0M231.4 395.8h0M231.5 397.2h0M231.5 399.1h0M231.5 401.1h0M231.1 409.6h0M230.9 411.1h0M230.9 412.8h0M231.3 421.2h0M231.3 427.2h0M231.0 428.9h0M231.0 434.5h0M231.6 436.5h0M231.2 438.5h0M231.2 446.6h0M231.0 448.2h0M233.1 403.5h0M233.3 405.5h0M233.0 407.7h0M233.0 409.6h0M233.0 413.2h0M232.7 415.2h0M233.4 417.4h0M233.2 419.4h0M233.0 420.7h0M233.4 427.2h0M233.3 428.5h0M233.0 432.2h0M233.1 434.8h0M233.5 440.8h0M233.2 448.3h0M235.2 403.3h0M235.1 405.6h0M235.1 413.1h0M235.0 415.5h0M234.8 417.2h0M235.1 420.7h0M234.9 426.7h0M234.8 440.3h0M234.9 446.6h0M237.0 399.1h0M236.7 401.2h0M236.6 403.6h0M236.9 405.3h0M237.5 411.3h0M236.7 412.8h0M237.3 419.3h0M236.8 423.3h0M236.9 426.4h0M237.0 428.6h0M237.0 430.4h0M236.6 435.0h0M237.3 438.5h0M238.6 399.8h0M239.2 407.2h0M238.6 408.8h0M238.8 412.9h0M238.9 416.6h0M239.4 428.7h0M239.3 432.2h0M238.7 434.8h0M239.1 436.4h0M238.9 438.5h0M239.4 440.6h0M239.0 442.1h0M238.8 444.6h0M241.1 409.6h0M240.8 410.9h0M240.6 412.8h0M241.2 415.5h0M241.3 430.7h0M240.5 432.3h0M241.3 440.8h0M240.7 444.2h0M242.6 411.0h0M243.0 412.7h0M243.0 418.7h0M243.3 423.2h0M243.0 426.8h0M242.7 432.6h0M244.6 415.5h0M244.8 417.3h0M245.2 420.6h0" stroke="#14e614" stroke-width="2.50" stroke-linecap="round" fill="none"/>
<path d="M205.3 414.6h0M207.2 412.4h0M209.1 412.2h0M209.3 414.3h0M211.2 412.3h0" stroke="#0ae6f0" stroke-width="2.40" stroke-linecap="round" fill="none"/>
<path d="M205.4 412.8h0M205.9 416.7h0M207.2 416.0h0M209.2 416.2h0M211.3 416.0h0M213.6 412.4h0M213.0 414.1h0M212.9 416.7h0" stroke="#1424f0" stroke-width="2.40" stroke-linecap="round" fill="none"/>
<path d="M204.1 432.6h0M207.9 437.8h0M213.2 436.4h0" stroke="#1424f0" stroke-width="2.50" stroke-linecap="round" fill="none"/>
<path d="M207.4 436.1h0M209.8 426.9h0M209.6 430.6h0M211.1 427.1h0M211.1 432.3h0M213.6 430.6h0M213.1 432.2h0M215.0 434.8h0" stroke="#14e614" stroke-width="2.50" stroke-linecap="round" fill="none"/>
<path d="M203.9 426.6h0M204.0 430.4h0M205.5 426.4h0M205.6 430.8h0M205.6 432.9h0M205.3 434.7h0M205.7 438.2h0M208.0 427.2h0M207.3 428.8h0M208.0 432.7h0M207.3 434.2h0M209.6 428.3h0M209.7 438.3h0M211.0 429.1h0M213.4 426.7h0M213.5 429.0h0M215.6 436.5h0M215.3 437.9h0" stroke="#0ae6f0" stroke-width="2.50" stroke-linecap="round" fill="none"/>
<path d="M221.8 401.1h0M221.9 403.5h0M222.0 405.4h0M223.6 401.5h0M223.9 403.4h0M223.9 405.7h0M224.1 407.1h0M223.7 409.6h0M225.8 401.2h0M226.0 403.2h0M226.1 405.9h0M225.9 407.2h0M228.4 401.1h0M227.7 405.9h0M228.4 407.3h0M229.6 401.9h0M230.1 403.7h0M230.1 405.8h0M229.9 409.2h0" stroke="#ffffff" stroke-width="2.60" stroke-linecap="round" fill="none"/>
<path d="M222.6 437.1h0M223.3 439.3h0M224.6 438.7h0M224.8 440.6h0M226.8 438.8h0M229.0 437.2h0M228.7 439.1h0M228.7 440.8h0M231.0 439.4h0M230.8 440.9h0M232.8 437.0h0M232.8 438.8h0M234.7 436.8h0M235.1 438.9h0M235.1 441.0h0" stroke="#ffffff" stroke-width="2.60" stroke-linecap="round" fill="none"/>
<path d="M228.2 389.9h0M232.2 391.7h0M232.1 393.9h0" stroke="#0ae6f0" stroke-width="2.50" stroke-linecap="round" fill="none"/>
<path d="M227.8 391.7h0M228.3 393.9h0M230.0 394.2h0M232.2 389.7h0" stroke="#1424f0" stroke-width="2.50" stroke-linecap="round" fill="none"/>
<path d="M244.6 374.4h0M246.5 375.9h0M250.6 372.8h0" stroke="#1424f0" stroke-width="2.60" stroke-linecap="round" fill="none"/>
<path d="M239.0 385.2h0M240.6 385.0h0M243.2 379.8h0M256.1 376.0h0" stroke="#0ae6f0" stroke-width="2.60" stroke-linecap="round" fill="none"/>
<path d="M239.1 376.0h0M239.4 387.1h0M240.7 386.8h0M242.4 374.2h0M243.1 377.8h0M251.7 370.4h0" stroke="#14e614" stroke-width="2.60" stroke-linecap="round" fill="none"/>
<path d="M237.5 379.8h0M236.9 382.1h0M236.9 383.3h0M237.1 385.4h0M237.5 387.0h0M239.0 374.5h0M239.4 377.7h0M239.0 379.5h0M239.1 382.1h0M241.3 372.8h0M240.6 374.3h0M240.6 376.4h0M241.4 378.1h0M240.5 379.8h0M241.2 381.5h0M241.1 383.3h0M242.9 372.5h0M243.2 376.0h0M242.5 381.6h0M243.1 383.6h0M242.4 385.8h0M244.6 370.4h0M244.8 372.4h0M244.7 376.3h0M244.4 378.4h0M244.8 379.7h0M244.4 382.0h0M244.5 383.6h0M244.3 385.8h0M246.5 370.8h0M246.6 372.3h0M246.8 374.5h0M246.7 378.3h0M246.4 379.4h0M246.5 381.8h0M246.8 383.5h0M246.2 385.0h0M248.1 369.2h0M248.0 370.9h0M248.8 372.8h0M248.4 374.0h0M248.2 375.8h0M248.2 377.9h0M248.3 379.7h0M248.3 382.1h0M248.5 383.6h0M250.6 368.7h0M250.3 370.7h0M250.0 374.6h0M250.2 375.9h0M250.6 378.2h0M250.1 379.6h0M250.4 381.4h0M250.3 383.5h0M252.1 368.3h0M252.4 372.4h0M252.1 374.5h0M252.1 375.8h0M252.4 377.8h0M252.5 379.8h0M252.1 381.3h0M251.7 383.3h0M253.7 369.0h0M253.7 371.0h0M253.5 372.2h0M254.3 374.4h0M254.1 375.8h0M253.6 377.6h0M253.6 379.5h0M255.8 371.0h0M256.0 372.6h0M256.2 374.4h0" stroke="#f01414" stroke-width="2.60" stroke-linecap="round" fill="none"/>
<path d="M252.9 382.7h0M255.7 393.1h0M258.2 385.8h0" stroke="#0ae6f0" stroke-width="2.50" stroke-linecap="round" fill="none"/>
<path d="M251.0 388.1h0M260.6 385.1h0M263.0 385.1h0M264.8 385.8h0" stroke="#1424f0" stroke-width="2.50" stroke-linecap="round" fill="none"/>
<path d="M262.4 390.3h0M262.8 392.4h0M265.1 387.5h0M265.6 392.3h0" stroke="#f01414" stroke-width="2.50" stroke-linecap="round" fill="none"/>
<path d="M250.9 390.6h0M251.2 392.6h0M253.5 393.0h0M258.4 390.6h0M260.8 376.2h0" stroke="#14e614" stroke-width="2.50" stroke-linecap="round" fill="none"/>
<path d="M253.1 380.4h0M253.6 385.6h0M255.2 383.3h0M255.7 385.7h0M260.7 378.5h0M260.4 397.2h0" stroke="#f0f000" stroke-width="2.50" stroke-linecap="round" fill="none"/>
<path d="M258.2 373.6h0M258.3 388.1h0M257.9 395.2h0M260.2 381.1h0M260.6 394.7h0M262.8 380.6h0M262.6 388.1h0M263.1 395.1h0M265.4 390.2h0" stroke="#000" stroke-width="2.50" stroke-linecap="round" fill="none"/>
<path d="M244.8 386.6h0M245.9 385.5h0M246.1 387.1h0M246.1 388.9h0M245.9 389.9h0M246.5 391.6h0M247.8 386.7h0M248.3 388.7h0M247.9 390.4h0M247.6 391.7h0M250.1 385.3h0M249.5 386.4h0M249.4 388.3h0M249.6 390.1h0M251.3 388.2h0M251.2 390.0h0" stroke="#1424f0" stroke-width="2.60" stroke-linecap="round" fill="none"/>
<path d="M223.5 394.2h0M223.4 396.3h0M223.1 397.5h0M225.2 394.0h0M225.4 395.9h0M227.1 395.8h0" stroke="#f01414" stroke-width="2.40" stroke-linecap="round" fill="none"/>
<path d="M250.4 393.4h0" stroke="#1424f0" stroke-width="2.60" stroke-linecap="round" fill="none"/>
<path d="M235.7 393.1h0M237.3 391.5h0M237.2 393.5h0M241.3 399.1h0M241.4 400.5h0M247.3 394.8h0" stroke="#f0f000" stroke-width="2.60" stroke-linecap="round" fill="none"/>
<path d="M235.8 398.8h0M239.5 389.4h0M239.4 395.1h0M242.8 394.6h0M244.8 398.9h0M247.0 389.5h0" stroke="#0ae6f0" stroke-width="2.60" stroke-linecap="round" fill="none"/>
<path d="M234.1 391.6h0M235.6 390.9h0M235.7 395.0h0M237.7 394.8h0M237.8 398.7h0M239.7 398.5h0M245.1 389.4h0M244.8 391.1h0M249.1 393.3h0M252.4 389.4h0M253.0 390.9h0M254.7 393.2h0M256.5 389.3h0M256.8 394.8h0M256.6 399.0h0M258.6 398.9h0M260.6 394.9h0M260.7 397.2h0" stroke="#14e614" stroke-width="2.60" stroke-linecap="round" fill="none"/>
<path d="M232.2 389.1h0M233.5 389.3h0M233.3 392.9h0M234.0 395.2h0M233.6 398.4h0M233.9 400.9h0M235.3 389.5h0M235.7 396.9h0M235.8 400.8h0M237.9 389.0h0M237.1 397.0h0M237.3 401.1h0M239.0 391.5h0M239.2 393.0h0M239.4 397.2h0M239.7 400.6h0M241.6 389.7h0M241.6 391.0h0M240.9 393.4h0M241.4 394.8h0M241.5 397.1h0M243.1 389.6h0M242.8 390.8h0M243.6 392.8h0M243.3 397.1h0M243.0 398.7h0M242.8 400.7h0M245.0 393.2h0M244.7 395.4h0M245.5 396.9h0M245.3 400.3h0M247.4 390.9h0M246.7 396.7h0M247.4 399.0h0M246.7 400.8h0M249.0 388.9h0M248.7 391.1h0M248.7 394.9h0M249.2 397.2h0M249.0 398.7h0M249.3 400.5h0M250.8 389.4h0M250.6 390.9h0M250.7 394.9h0M250.4 396.7h0M250.6 400.7h0M253.0 392.7h0M253.1 395.2h0M253.1 396.7h0M253.1 399.2h0M255.0 389.2h0M254.2 390.8h0M254.2 395.2h0M254.9 397.0h0M254.7 399.0h0M256.8 390.9h0M256.5 392.7h0M256.2 397.2h0M258.5 393.5h0M258.0 395.2h0M258.4 397.0h0M259.9 390.9h0M259.9 393.3h0M260.1 398.5h0" stroke="#f01414" stroke-width="2.60" stroke-linecap="round" fill="none"/>
<clipPath id="bx1"><rect x="215.2" y="102.2" width="32.400000000000006" height="23.599999999999994"/></clipPath><g clip-path="url(#bx1)">
<line x1="215.3" y1="99.5" x2="253.9" y2="131.2" stroke="#000" stroke-width="2.8" stroke-linecap="round" opacity="1"/>
<line x1="214.2" y1="104.0" x2="222.7" y2="110.9" stroke="#f01414" stroke-width="1.7" stroke-linecap="round" opacity="1"/>
<line x1="218.9" y1="110.7" x2="249.9" y2="136.1" stroke="#000" stroke-width="1.5" stroke-linecap="round" opacity="0.9"/>
<line x1="212.5" y1="109.2" x2="216.3" y2="112.4" stroke="#f01414" stroke-width="1.8" stroke-linecap="round" opacity="1"/>
<line x1="219.1" y1="120.0" x2="237.6" y2="135.3" stroke="#000" stroke-width="1.2" stroke-linecap="round" opacity="0.6"/>
<line x1="231.1" y1="105.4" x2="249.7" y2="120.6" stroke="#000" stroke-width="1.3" stroke-linecap="round" opacity="0.6"/>
</g>
<clipPath id="bx3"><rect x="220.4" y="388.5" width="18.799999999999983" height="52.69999999999999"/></clipPath><g clip-path="url(#bx3)">
<line x1="211.3" y1="412.4" x2="248.1" y2="427.9" stroke="#f0f000" stroke-width="1.1" stroke-linecap="round" opacity="0.9"/>
<line x1="210.6" y1="414.1" x2="247.4" y2="429.5" stroke="#f04010" stroke-width="2.0" stroke-linecap="round" opacity="1"/>
<line x1="209.9" y1="415.5" x2="246.8" y2="431.0" stroke="#f0f000" stroke-width="1.0" stroke-linecap="round" opacity="0.8"/>
<line x1="207.7" y1="421.0" x2="244.5" y2="436.5" stroke="#0ae6f0" stroke-width="1.4" stroke-linecap="round" opacity="0.5"/>
<line x1="213.7" y1="406.7" x2="250.5" y2="422.2" stroke="#f0f000" stroke-width="1.2" stroke-linecap="round" opacity="0.5"/>
</g>
<rect x="214.8" y="104" width="33.2" height="22.6" fill="none" stroke="#a0101a" stroke-width="2.4"/>
<rect x="208" y="231.6" width="28.6" height="22.4" fill="none" stroke="#a0101a" stroke-width="2.4"/>
<rect x="220.2" y="388" width="19" height="53.5" fill="none" stroke="#a0101a" stroke-width="2.4"/>
<line x1="69.6" y1="91.9" x2="213.8" y2="113.7" stroke="#b20e1e" stroke-width="2.3" stroke-linecap="butt"/>
<line x1="249" y1="116" x2="395" y2="96.3" stroke="#b20e1e" stroke-width="2.3" stroke-linecap="butt"/>
<line x1="252" y1="119" x2="410.8" y2="103.5" stroke="#b20e1e" stroke-width="2.3" stroke-linecap="butt"/>
<line x1="59.3" y1="236.3" x2="207" y2="251" stroke="#b20e1e" stroke-width="2.3" stroke-linecap="butt"/>
<line x1="237.6" y1="248.5" x2="363.6" y2="225.2" stroke="#b20e1e" stroke-width="2.3" stroke-linecap="butt"/>
<line x1="74.7" y1="384" x2="219.2" y2="398.5" stroke="#b20e1e" stroke-width="2.3" stroke-linecap="butt"/>
<line x1="80.3" y1="426.5" x2="219.2" y2="419.4" stroke="#b20e1e" stroke-width="2.3" stroke-linecap="butt"/>
<line x1="240" y1="401" x2="375.6" y2="377.2" stroke="#b20e1e" stroke-width="2.3" stroke-linecap="butt"/>
<line x1="240" y1="425.3" x2="354.7" y2="411.2" stroke="#b20e1e" stroke-width="2.3" stroke-linecap="butt"/>
<text x="168" y="38" class="lab">(b)</text>
<text x="208.8" y="39" class="ut" textLength="53.5" lengthAdjust="spacingAndGlyphs">03:30:00 UT</text>
<text x="170.8" y="197.5" class="lab">(b)</text>
<text x="201.6" y="182.3" class="ut" textLength="50.3" lengthAdjust="spacingAndGlyphs">15:20:00UT</text>
<text x="169" y="349" class="lab">(b)</text>
<text x="214" y="342.3" class="ut" textLength="54.5" lengthAdjust="spacingAndGlyphs">21:30:00 UT</text>
</svg></body></html>
